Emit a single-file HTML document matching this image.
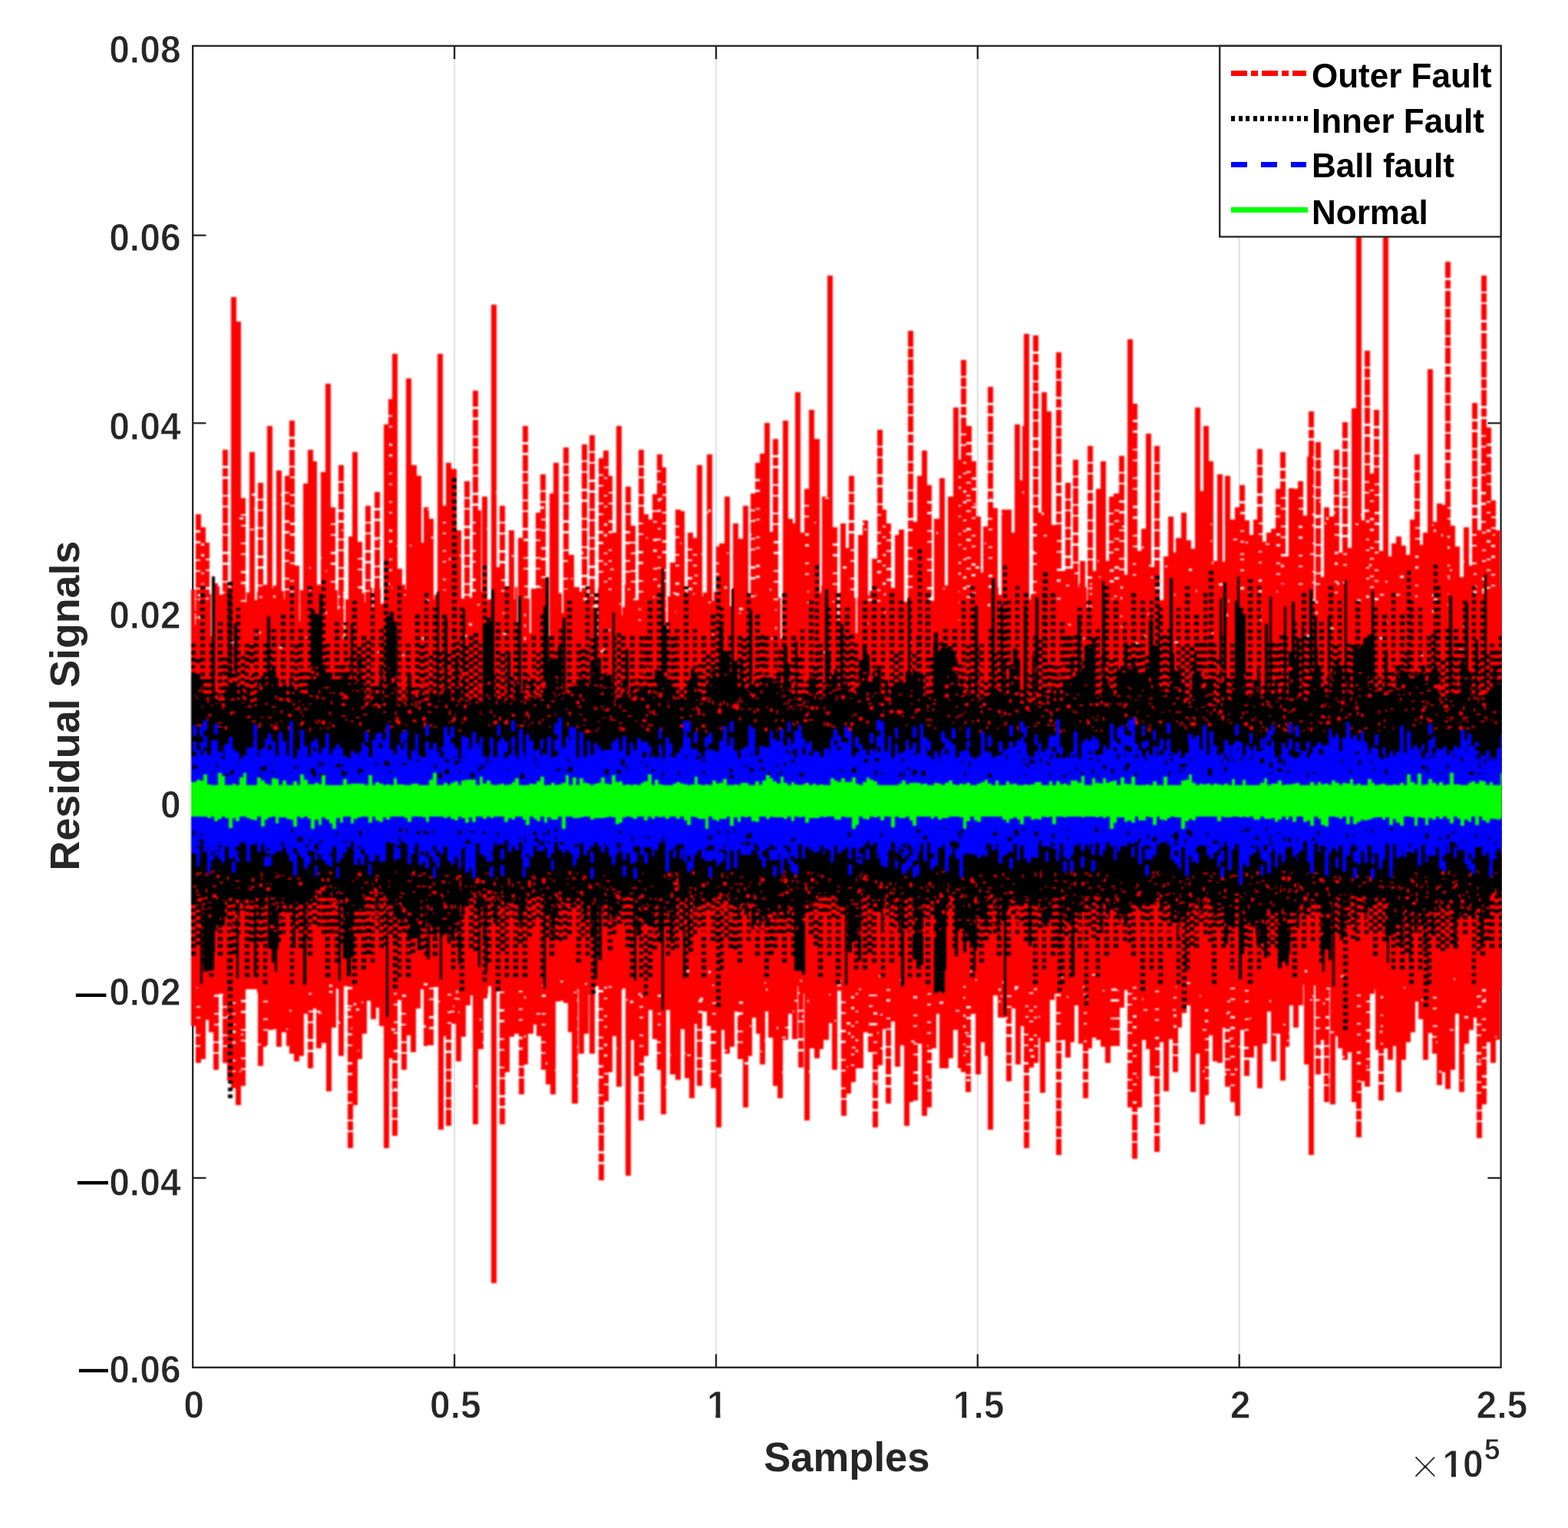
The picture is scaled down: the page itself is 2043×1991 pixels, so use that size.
<!DOCTYPE html>
<html lang="en">
<head>
<meta charset="utf-8">
<title>Residual Signals</title>
<style>
html,body{margin:0;padding:0;background:#fff;}
body{width:2043px;height:1991px;overflow:hidden;}
svg{display:block;}
text{font-family:"Liberation Sans",Arial,Helvetica,sans-serif;font-weight:bold;stroke:#fff;stroke-width:0.85px;stroke-linejoin:round;}
.tick{font-size:49px;fill:#262626;}
.lab{font-size:53.8px;fill:#262626;stroke:none;}
.leg{font-size:43.6px;fill:#000;stroke:none;}
.ax{stroke:#262626;stroke-width:2.33;fill:none;}
.grid{stroke:#e4e4e4;stroke-width:2.33;fill:none;}
.sig{fill:none;stroke-width:7;}
</style>
</head>
<body>
<svg width="2043" height="1991" viewBox="0 0 2043 1991">
<rect x="0" y="0" width="2043" height="1991" fill="#fff"/>
<g class="grid"><line x1="592.1" y1="59.8" x2="592.1" y2="1781.8"/><line x1="933" y1="59.8" x2="933" y2="1781.8"/><line x1="1273.8" y1="59.8" x2="1273.8" y2="1781.8"/><line x1="1614.7" y1="59.8" x2="1614.7" y2="1781.8"/></g>
<g class="ax"><rect x="251.2" y="59.8" width="1704.4" height="1722"/><path d="M592.1 1781.8v-17.2M592.1 59.8v17.2M933 1781.8v-17.2M933 59.8v17.2M1273.8 1781.8v-17.2M1273.8 59.8v17.2M1614.7 1781.8v-17.2M1614.7 59.8v17.2M251.2 306.7h17.2M1955.6 306.7h-17.2M251.2 551.4h17.2M1955.6 551.4h-17.2M251.2 797.4h17.2M1955.6 797.4h-17.2M251.2 1043.6h17.2M1955.6 1043.6h-17.2M251.2 1289.4h17.2M1955.6 1289.4h-17.2M251.2 1534.9h17.2M1955.6 1534.9h-17.2"/></g>
<clipPath id="cp"><rect x="247.7" y="59.8" width="1709.1" height="1722"/></clipPath>
<filter id="bl" x="0" y="0" width="100%" height="100%" filterUnits="userSpaceOnUse" color-interpolation-filters="sRGB"><feGaussianBlur stdDeviation="1"/></filter>
<g clip-path="url(#cp)"><g shape-rendering="crispEdges" filter="url(#bl)">
<path fill="#f00" d="M249.2 768.1V768.1H253.5V814.1H255.9V768.1H258.2V809.5H260.5V794.1H262.9V761.4H265.2V780.7H267.5V780.7H269.9V780.7H272.2V774.4H274.5V828.6H276.9V774.4H279.2V763.6H281.5V763.6H283.9V763.6H286.2V774.5H288.5V774.5H290.9V792.7H293.2V765.1H295.5V765.1H297.9V765.1H300.2V771.3H302.5V771.3H304.9V771.3H307.2V774.4H309.5V774.4H311.9V774.4H314.2V784.5H316.5V784.5H318.9V784.5H321.2V772.2H323.5V772.2H325.9V772.2H328.2V781.9H330.5V781.9H332.9V781.9H335.2V771.4H337.5V771.4H339.9V771.4H342.2V761.5H344.5V761.5H346.9V761.5H349.2V767.1H351.5V810.8H353.9V767.1H356.2V762.9H358.5V762.9H360.9V762.9H363.2V810.2H365.5V769.8H367.9V769.8H370.2V780.5H372.5V780.5H374.9V780.5H377.2V782.1H379.5V782.1H381.9V782.1H384.2V765.8H386.5V765.8H388.9V808.9H391.2V769.2H393.5V769.2H395.9V769.2H398.2V830.5H400.5V775.4H402.9V775.4H405.2V779.9H407.5V779.9H409.9V779.9H412.2V761.6H414.5V761.6H416.9V761.6H419.2V761.3H421.5V761.3H423.9V761.3H426.2V760.6H428.5V760.6H430.9V760.6H433.2V768.7H435.5V768.7H437.9V768.7H440.2V794.6H442.5V771.6H444.9V771.6H447.2V832.8H449.5V780.7H451.9V780.7H454.2V773.6H456.5V773.6H458.9V773.6H461.2V777.4H463.5V777.4H465.9V777.4H468.2V773.3H470.5V773.3H472.9V773.3H475.2V784.6H477.5V784.6H479.9V784.6H482.2V765.7H484.5V791.3H486.9V765.7H489.2V766.5H491.5V766.5H493.9V766.5H496.2V784.7H498.5V784.7H500.9V784.7H503.2V764.9H505.5V764.9H507.9V764.9H510.2V772H512.5V819.7H514.9V772H517.2V779.6H519.5V779.6H521.9V779.6H524.2V768.3H526.5V768.3H528.9V768.3H531.2V783.7H533.5V783.7H535.9V783.7H538.2V782.6H540.5V782.6H542.9V782.6H545.2V776.4H547.5V776.4H549.9V833.7H552.2V776.2H554.5V776.2H556.9V776.2H559.2V780.7H561.5V780.7H563.9V780.7H566.2V774.7H568.5V774.7H570.9V774.7H573.2V768.8H575.5V768.8H577.9V768.8H580.2V782.9H582.5V782.9H584.9V809.8H587.2V764.6H589.5V764.6H591.9V764.6H594.2V778.1H596.5V778.1H598.9V778.1H601.2V779.6H603.5V779.6H605.9V779.6H608.2V779.3H610.5V779.3H612.9V779.3H615.2V771.1H617.5V771.1H619.9V771.1H622.2V771.3H624.5V771.3H626.9V771.3H629.2V781.9H631.5V781.9H633.9V781.9H636.2V781H638.5V781H640.9V800.8H643.2V761.8H645.5V761.8H647.9V761.8H650.2V777.9H652.5V777.9H654.9V777.9H657.2V765.5H659.5V765.5H661.9V765.5H664.2V780.8H666.5V780.8H668.9V780.8H671.2V764.9H673.5V814.9H675.9V764.9H678.2V760.5H680.5V760.5H682.9V834.3H685.2V779.7H687.5V779.7H689.9V825.1H692.2V766.8H694.5V766.8H696.9V766.8H699.2V766.5H701.5V766.5H703.9V766.5H706.2V762.2H708.5V762.2H710.9V832.2H713.2V828.5H715.5V828.8H717.9V775.9H720.2V768.5H722.5V768.5H724.9V768.5H727.2V773.2H729.5V773.2H731.9V799.1H734.2V767.8H736.5V767.8H738.9V767.8H741.2V801.3H743.5V823H745.9V764.4H748.2V764.7H750.5V764.7H752.9V764.7H755.2V770.8H757.5V770.8H759.9V770.8H762.2V777.2H764.5V777.2H766.9V777.2H769.2V775.9H771.5V795.8H773.9V823.3H776.2V827.9H778.5V766.4H780.9V766.4H783.2V767H785.5V767H787.9V767H790.2V771.1H792.5V771.1H794.9V771.1H797.2V766.1H799.5V766.1H801.9V807.2H804.2V771.9H806.5V771.9H808.9V801.9H811.2V791H813.5V762.2H815.9V762.2H818.2V774.6H820.5V774.6H822.9V774.6H825.2V782H827.5V782H829.9V782H832.2V827.6H834.5V778.1H836.9V778.1H839.2V778.3H841.5V778.3H843.9V778.3H846.2V780.9H848.5V780.9H850.9V780.9H853.2V777.1H855.5V796H857.9V777.1H860.2V762.6H862.5V762.6H864.9V762.6H867.2V825.9H869.5V777H871.9V777H874.2V823.2H876.5V773.4H878.9V802H881.2V778.2H883.5V778.2H885.9V778.2H888.2V769.6H890.5V769.6H892.9V769.6H895.2V776.1H897.5V776.1H899.9V776.1H902.2V792.7H904.5V767.6H906.9V767.6H909.2V777.3H911.5V777.3H913.9V777.3H916.2V771.7H918.5V771.7H920.9V771.7H923.2V783.4H925.5V783.4H927.9V783.4H930.2V771.2H932.5V771.2H934.9V771.2H937.2V774.5H939.5V774.5H941.9V774.5H944.2V780.5H946.5V780.5H948.9V780.5H951.2V790.2H953.5V782.4H955.9V782.4H958.2V767.5H960.5V767.5H962.9V767.5H965.2V760H967.5V760H969.9V760H972.2V777.8H974.5V777.8H976.9V777.8H979.2V785H981.5V785H983.9V785H986.2V761.2H988.5V761.2H990.9V761.2H993.2V766.2H995.5V766.2H997.9V766.2H1000.2V783.9H1002.5V783.9H1004.9V783.9H1007.2V783.5H1009.5V823H1011.9V783.5H1014.2V778.8H1016.5V831.7H1018.9V778.8H1021.2V771.8H1023.5V771.8H1025.9V771.8H1028.2V766.5H1030.5V766.5H1032.9V766.5H1035.2V764.2H1037.5V764.2H1039.9V764.2H1042.2V765.5H1044.5V765.5H1046.9V765.5H1049.2V764.8H1051.5V800.8H1053.9V764.8H1056.2V774.2H1058.5V774.2H1060.9V774.2H1063.2V773.1H1065.5V802.5H1067.9V773.1H1070.2V763.1H1072.5V763.1H1074.9V763.1H1077.2V766.8H1079.5V766.8H1081.9V766.8H1084.2V791.5H1086.5V781.2H1088.9V781.2H1091.2V807.6H1093.5V771.8H1095.9V771.8H1098.2V781.4H1100.5V781.4H1102.9V781.4H1105.2V773.1H1107.5V773.1H1109.9V773.1H1112.2V779.1H1114.5V825.2H1116.9V779.1H1119.2V783H1121.5V783H1123.9V783H1126.2V775.9H1128.5V813.6H1130.9V775.9H1133.2V769.7H1135.5V803.6H1137.9V769.7H1140.2V784H1142.5V784H1144.9V784H1147.2V766.2H1149.5V766.2H1151.9V812.4H1154.2V776.9H1156.5V776.9H1158.9V776.9H1161.2V765.7H1163.5V765.7H1165.9V765.7H1168.2V765H1170.5V765H1172.9V765H1175.2V784.2H1177.5V784.2H1179.9V784.2H1182.2V779H1184.5V779H1186.9V779H1189.2V765.6H1191.5V765.6H1193.9V765.6H1196.2V769.8H1198.5V769.8H1200.9V792.7H1203.2V769.8H1205.5V769.8H1207.9V769.8H1210.2V783.3H1212.5V783.3H1214.9V783.3H1217.2V760.8H1219.5V760.8H1221.9V760.8H1224.2V764.2H1226.5V764.2H1228.9V764.2H1231.2V763.1H1233.5V763.1H1235.9V763.1H1238.2V811.3H1240.5V780.6H1242.9V780.6H1245.2V764.8H1247.5V808.5H1249.9V764.8H1252.2V792.8H1254.5V779.2H1256.9V779.2H1259.2V778.7H1261.5V778.7H1263.9V778.7H1266.2V775.4H1268.5V775.4H1270.9V775.4H1273.2V760.1H1275.5V760.1H1277.9V760.1H1280.2V760.6H1282.5V760.6H1284.9V760.6H1287.2V769.7H1289.5V769.7H1291.9V769.7H1294.2V764.6H1296.5V764.6H1298.9V764.6H1301.2V775.2H1303.5V775.2H1305.9V775.2H1308.2V762H1310.5V762H1312.9V791.5H1315.2V773.8H1317.5V773.8H1319.9V773.8H1322.2V812.4H1324.5V766.6H1326.9V766.6H1329.2V765.9H1331.5V765.9H1333.9V765.9H1336.2V781.2H1338.5V781.2H1340.9V781.2H1343.2V774.2H1345.5V774.2H1347.9V774.2H1350.2V766.1H1352.5V766.1H1354.9V766.1H1357.2V769.9H1359.5V769.9H1361.9V769.9H1364.2V776.3H1366.5V776.3H1368.9V776.3H1371.2V803.2H1373.5V781H1375.9V781H1378.2V784.3H1380.5V784.3H1382.9V784.3H1385.2V771.2H1387.5V771.2H1389.9V771.2H1392.2V774.9H1394.5V774.9H1396.9V774.9H1399.2V765.1H1401.5V765.1H1403.9V765.1H1406.2V760.3H1408.5V760.3H1410.9V760.3H1413.2V765.1H1415.5V794.6H1417.9V765.1H1420.2V797.4H1422.5V773.8H1424.9V773.8H1427.2V767.1H1429.5V767.1H1431.9V767.1H1434.2V768.9H1436.5V768.9H1438.9V768.9H1441.2V764.9H1443.5V830.6H1445.9V764.9H1448.2V780.5H1450.5V780.5H1452.9V780.5H1455.2V760.4H1457.5V760.4H1459.9V818H1462.2V769.3H1464.5V769.3H1466.9V769.3H1469.2V783.1H1471.5V783.1H1473.9V783.1H1476.2V764.9H1478.5V764.9H1480.9V764.9H1483.2V761.3H1485.5V761.3H1487.9V761.3H1490.2V780.6H1492.5V780.6H1494.9V780.6H1497.2V781.2H1499.5V781.2H1501.9V781.2H1504.2V772.9H1506.5V772.9H1508.9V772.9H1511.2V782.4H1513.5V782.4H1515.9V827.7H1518.2V762.9H1520.5V762.9H1522.9V762.9H1525.2V770.5H1527.5V770.5H1529.9V770.5H1532.2V771H1534.5V771H1536.9V771H1539.2V779.1H1541.5V779.1H1543.9V779.1H1546.2V762.7H1548.5V809.9H1550.9V762.7H1553.2V823H1555.5V761H1557.9V761H1560.2V761.4H1562.5V761.4H1564.9V761.4H1567.2V781.4H1569.5V781.4H1571.9V781.4H1574.2V784.5H1576.5V784.5H1578.9V784.5H1581.2V805.8H1583.5V779.7H1585.9V779.7H1588.2V782.4H1590.5V782.4H1592.9V782.4H1595.2V783H1597.5V783H1599.9V783H1602.2V760.9H1604.5V760.9H1606.9V760.9H1609.2V782.4H1611.5V782.4H1613.9V782.4H1616.2V775.9H1618.5V775.9H1620.9V775.9H1623.2V782.1H1625.5V782.1H1627.9V782.1H1630.2V779.9H1632.5V779.9H1634.9V779.9H1637.2V779.1H1639.5V779.1H1641.9V826.9H1644.2V766.3H1646.5V766.3H1648.9V766.3H1651.2V796.7H1653.5V767.8H1655.9V767.8H1658.2V772.8H1660.5V772.8H1662.9V772.8H1665.2V760.6H1667.5V760.6H1669.9V760.6H1672.2V765.6H1674.5V765.6H1676.9V765.6H1679.2V771.9H1681.5V771.9H1683.9V771.9H1686.2V762.4H1688.5V762.4H1690.9V762.4H1693.2V766.6H1695.5V766.6H1697.9V766.6H1700.2V776.1H1702.5V776.1H1704.9V776.1H1707.2V782.6H1709.5V782.6H1711.9V782.6H1714.2V814.8H1716.5V761.5H1718.9V761.5H1721.2V765H1723.5V765H1725.9V765H1728.2V764.4H1730.5V830H1732.9V764.4H1735.2V777.9H1737.5V777.9H1739.9V777.9H1742.2V778.5H1744.5V778.5H1746.9V778.5H1749.2V761H1751.5V761H1753.9V761H1756.2V777.8H1758.5V777.8H1760.9V777.8H1763.2V773.1H1765.5V773.1H1767.9V773.1H1770.2V782H1772.5V782H1774.9V782H1777.2V783.6H1779.5V783.6H1781.9V783.6H1784.2V766H1786.5V766H1788.9V766H1791.2V784.5H1793.5V784.5H1795.9V784.5H1798.2V770.9H1800.5V770.9H1802.9V770.9H1805.2V775.6H1807.5V775.6H1809.9V794.8H1812.2V783.2H1814.5V791.9H1816.9V783.2H1819.2V775.8H1821.5V816.6H1823.9V775.8H1826.2V780.4H1828.5V829.1H1830.9V780.4H1833.2V783.6H1835.5V783.6H1837.9V828.1H1840.2V780.3H1842.5V780.3H1844.9V780.3H1847.2V762.5H1849.5V762.5H1851.9V762.5H1854.2V770.6H1856.5V770.6H1858.9V770.6H1861.2V769.2H1863.5V769.2H1865.9V769.2H1868.2V775.5H1870.5V775.5H1872.9V775.5H1875.2V768.7H1877.5V768.7H1879.9V768.7H1882.2V762.3H1884.5V799.1H1886.9V762.3H1889.2V784.4H1891.5V784.4H1893.9V784.4H1896.2V764.6H1898.5V764.6H1900.9V764.6H1903.2V783.6H1905.5V783.6H1907.9V783.6H1910.2V825.5H1912.5V762.7H1914.9V762.7H1917.2V775.7H1919.5V775.7H1921.9V775.7H1924.2V799.3H1926.5V762.2H1928.9V762.2H1931.2V772.5H1933.5V772.5H1935.9V772.5H1938.2V773.3H1940.5V773.3H1942.9V773.3H1945.2V768.2H1947.5V768.2H1949.9V768.2H1952.2V764.2H1954.5V764.2H1956.6V1288.7H1954.5V1288.7H1952.2V1285H1949.9V1285H1947.5V1285H1945.2V1292.8H1942.9V1292.8H1940.5V1292.8H1938.2V1287.9H1935.9V1287.9H1933.5V1287.9H1931.2V1294.5H1928.9V1294.5H1926.5V1294.5H1924.2V1287.6H1921.9V1287.6H1919.5V1287.6H1917.2V1291.3H1914.9V1291.3H1912.5V1291.3H1910.2V1286.7H1907.9V1286.7H1905.5V1286.7H1903.2V1289.4H1900.9V1289.4H1898.5V1289.4H1896.2V1283.1H1893.9V1283.1H1891.5V1283.1H1889.2V1293.7H1886.9V1293.7H1884.5V1293.7H1882.2V1292.2H1879.9V1292.2H1877.5V1292.2H1875.2V1283.4H1872.9V1283.4H1870.5V1283.4H1868.2V1287.2H1865.9V1287.2H1863.5V1287.2H1861.2V1283.3H1858.9V1283.3H1856.5V1283.3H1854.2V1284.3H1851.9V1284.3H1849.5V1284.3H1847.2V1291.2H1844.9V1291.2H1842.5V1291.2H1840.2V1284.4H1837.9V1284.4H1835.5V1284.4H1833.2V1293.7H1830.9V1293.7H1828.5V1293.7H1826.2V1292.1H1823.9V1292.1H1821.5V1292.1H1819.2V1287.5H1816.9V1287.5H1814.5V1287.5H1812.2V1284H1809.9V1284H1807.5V1284H1805.2V1292.4H1802.9V1292.4H1800.5V1292.4H1798.2V1289.1H1795.9V1289.1H1793.5V1289.1H1791.2V1294.8H1788.9V1294.8H1786.5V1294.8H1784.2V1292.7H1781.9V1292.7H1779.5V1292.7H1777.2V1283.2H1774.9V1283.2H1772.5V1283.2H1770.2V1286.4H1767.9V1286.4H1765.5V1286.4H1763.2V1286.5H1760.9V1286.5H1758.5V1286.5H1756.2V1287.4H1753.9V1287.4H1751.5V1287.4H1749.2V1288.9H1746.9V1288.9H1744.5V1288.9H1742.2V1283.1H1739.9V1283.1H1737.5V1283.1H1735.2V1287H1732.9V1287H1730.5V1287H1728.2V1290.9H1725.9V1290.9H1723.5V1290.9H1721.2V1293.1H1718.9V1293.1H1716.5V1293.1H1714.2V1283.6H1711.9V1283.6H1709.5V1283.6H1707.2V1288.8H1704.9V1288.8H1702.5V1288.8H1700.2V1283.1H1697.9V1283.1H1695.5V1283.1H1693.2V1291.3H1690.9V1291.3H1688.5V1291.3H1686.2V1284.8H1683.9V1284.8H1681.5V1284.8H1679.2V1290.6H1676.9V1290.6H1674.5V1290.6H1672.2V1283H1669.9V1283H1667.5V1283H1665.2V1294.6H1662.9V1294.6H1660.5V1294.6H1658.2V1283H1655.9V1283H1653.5V1283H1651.2V1291.3H1648.9V1291.3H1646.5V1291.3H1644.2V1288.7H1641.9V1288.7H1639.5V1288.7H1637.2V1286.4H1634.9V1286.4H1632.5V1286.4H1630.2V1284.4H1627.9V1284.4H1625.5V1284.4H1623.2V1287.7H1620.9V1287.7H1618.5V1287.7H1616.2V1285.2H1613.9V1285.2H1611.5V1285.2H1609.2V1285.4H1606.9V1285.4H1604.5V1285.4H1602.2V1285.7H1599.9V1285.7H1597.5V1285.7H1595.2V1286.6H1592.9V1286.6H1590.5V1286.6H1588.2V1295.1H1585.9V1295.1H1583.5V1295.1H1581.2V1289.4H1578.9V1289.4H1576.5V1289.4H1574.2V1295.9H1571.9V1295.9H1569.5V1295.9H1567.2V1289.6H1564.9V1289.6H1562.5V1289.6H1560.2V1291.3H1557.9V1291.3H1555.5V1291.3H1553.2V1284.7H1550.9V1284.7H1548.5V1284.7H1546.2V1293.1H1543.9V1293.1H1541.5V1293.1H1539.2V1283.3H1536.9V1283.3H1534.5V1283.3H1532.2V1290.6H1529.9V1290.6H1527.5V1290.6H1525.2V1290.8H1522.9V1290.8H1520.5V1290.8H1518.2V1283.5H1515.9V1283.5H1513.5V1283.5H1511.2V1288H1508.9V1288H1506.5V1288H1504.2V1293.8H1501.9V1293.8H1499.5V1293.8H1497.2V1285.1H1494.9V1285.1H1492.5V1285.1H1490.2V1295H1487.9V1295H1485.5V1295H1483.2V1284.6H1480.9V1284.6H1478.5V1284.6H1476.2V1284.4H1473.9V1284.4H1471.5V1284.4H1469.2V1289.6H1466.9V1289.6H1464.5V1289.6H1462.2V1290.2H1459.9V1290.2H1457.5V1290.2H1455.2V1288.3H1452.9V1288.3H1450.5V1288.3H1448.2V1292.5H1445.9V1292.5H1443.5V1292.5H1441.2V1288.4H1438.9V1288.4H1436.5V1288.4H1434.2V1287H1431.9V1287H1429.5V1287H1427.2V1291.3H1424.9V1291.3H1422.5V1291.3H1420.2V1293.3H1417.9V1293.3H1415.5V1293.3H1413.2V1287.3H1410.9V1287.3H1408.5V1287.3H1406.2V1286.3H1403.9V1286.3H1401.5V1286.3H1399.2V1291.1H1396.9V1291.1H1394.5V1291.1H1392.2V1286.4H1389.9V1286.4H1387.5V1286.4H1385.2V1290.6H1382.9V1290.6H1380.5V1290.6H1378.2V1294.9H1375.9V1294.9H1373.5V1294.9H1371.2V1295.9H1368.9V1295.9H1366.5V1295.9H1364.2V1295.9H1361.9V1295.9H1359.5V1295.9H1357.2V1285H1354.9V1285H1352.5V1285H1350.2V1287.8H1347.9V1287.8H1345.5V1287.8H1343.2V1291.6H1340.9V1291.6H1338.5V1291.6H1336.2V1288.4H1333.9V1288.4H1331.5V1288.4H1329.2V1284.1H1326.9V1284.1H1324.5V1284.1H1322.2V1287.2H1319.9V1287.2H1317.5V1287.2H1315.2V1285.6H1312.9V1285.6H1310.5V1285.6H1308.2V1287.3H1305.9V1287.3H1303.5V1287.3H1301.2V1293.4H1298.9V1293.4H1296.5V1293.4H1294.2V1286.3H1291.9V1286.3H1289.5V1286.3H1287.2V1286H1284.9V1286H1282.5V1286H1280.2V1292.8H1277.9V1292.8H1275.5V1292.8H1273.2V1286.4H1270.9V1286.4H1268.5V1286.4H1266.2V1294.7H1263.9V1294.7H1261.5V1294.7H1259.2V1283.5H1256.9V1283.5H1254.5V1283.5H1252.2V1287.7H1249.9V1287.7H1247.5V1287.7H1245.2V1288.6H1242.9V1288.6H1240.5V1288.6H1238.2V1295.5H1235.9V1295.5H1233.5V1295.5H1231.2V1283H1228.9V1283H1226.5V1283H1224.2V1291.6H1221.9V1291.6H1219.5V1291.6H1217.2V1287.3H1214.9V1287.3H1212.5V1287.3H1210.2V1294.7H1207.9V1294.7H1205.5V1294.7H1203.2V1285.8H1200.9V1285.8H1198.5V1285.8H1196.2V1288.4H1193.9V1288.4H1191.5V1288.4H1189.2V1286.8H1186.9V1286.8H1184.5V1286.8H1182.2V1287.1H1179.9V1287.1H1177.5V1287.1H1175.2V1293.4H1172.9V1293.4H1170.5V1293.4H1168.2V1283.4H1165.9V1283.4H1163.5V1283.4H1161.2V1288.5H1158.9V1288.5H1156.5V1288.5H1154.2V1295.5H1151.9V1295.5H1149.5V1295.5H1147.2V1291.4H1144.9V1291.4H1142.5V1291.4H1140.2V1285.9H1137.9V1285.9H1135.5V1285.9H1133.2V1292.1H1130.9V1292.1H1128.5V1292.1H1126.2V1291.4H1123.9V1291.4H1121.5V1291.4H1119.2V1288.9H1116.9V1288.9H1114.5V1288.9H1112.2V1291.9H1109.9V1291.9H1107.5V1291.9H1105.2V1295.6H1102.9V1295.6H1100.5V1295.6H1098.2V1290.6H1095.9V1290.6H1093.5V1290.6H1091.2V1294.3H1088.9V1294.3H1086.5V1294.3H1084.2V1286.2H1081.9V1286.2H1079.5V1286.2H1077.2V1289.5H1074.9V1289.5H1072.5V1289.5H1070.2V1287.9H1067.9V1287.9H1065.5V1287.9H1063.2V1294.5H1060.9V1294.5H1058.5V1294.5H1056.2V1284.2H1053.9V1284.2H1051.5V1284.2H1049.2V1294.8H1046.9V1294.8H1044.5V1294.8H1042.2V1285.1H1039.9V1285.1H1037.5V1285.1H1035.2V1291.5H1032.9V1291.5H1030.5V1291.5H1028.2V1287.5H1025.9V1287.5H1023.5V1287.5H1021.2V1291.4H1018.9V1291.4H1016.5V1291.4H1014.2V1290.1H1011.9V1290.1H1009.5V1290.1H1007.2V1294.5H1004.9V1294.5H1002.5V1294.5H1000.2V1286.5H997.9V1286.5H995.5V1286.5H993.2V1284.3H990.9V1284.3H988.5V1284.3H986.2V1290.7H983.9V1290.7H981.5V1290.7H979.2V1294.7H976.9V1294.7H974.5V1294.7H972.2V1292.8H969.9V1292.8H967.5V1292.8H965.2V1284.8H962.9V1284.8H960.5V1284.8H958.2V1289.3H955.9V1289.3H953.5V1289.3H951.2V1289.6H948.9V1289.6H946.5V1289.6H944.2V1284.8H941.9V1284.8H939.5V1284.8H937.2V1286.5H934.9V1286.5H932.5V1286.5H930.2V1283.2H927.9V1283.2H925.5V1283.2H923.2V1284.5H920.9V1284.5H918.5V1284.5H916.2V1291.8H913.9V1291.8H911.5V1291.8H909.2V1290.4H906.9V1290.4H904.5V1290.4H902.2V1284H899.9V1284H897.5V1284H895.2V1289.2H892.9V1289.2H890.5V1289.2H888.2V1285.7H885.9V1285.7H883.5V1285.7H881.2V1291.6H878.9V1291.6H876.5V1291.6H874.2V1289.4H871.9V1289.4H869.5V1289.4H867.2V1293.9H864.9V1293.9H862.5V1293.9H860.2V1292H857.9V1292H855.5V1292H853.2V1293.5H850.9V1293.5H848.5V1293.5H846.2V1293.6H843.9V1293.6H841.5V1293.6H839.2V1291.4H836.9V1291.4H834.5V1291.4H832.2V1288.1H829.9V1288.1H827.5V1288.1H825.2V1289.9H822.9V1289.9H820.5V1289.9H818.2V1288.2H815.9V1288.2H813.5V1288.2H811.2V1289.5H808.9V1289.5H806.5V1289.5H804.2V1295.6H801.9V1295.6H799.5V1295.6H797.2V1286.4H794.9V1286.4H792.5V1286.4H790.2V1286.1H787.9V1286.1H785.5V1286.1H783.2V1285.1H780.9V1285.1H778.5V1285.1H776.2V1288.3H773.9V1288.3H771.5V1288.3H769.2V1295.8H766.9V1295.8H764.5V1295.8H762.2V1289.4H759.9V1289.4H757.5V1289.4H755.2V1289.2H752.9V1289.2H750.5V1289.2H748.2V1287.5H745.9V1287.5H743.5V1287.5H741.2V1287H738.9V1287H736.5V1287H734.2V1286.1H731.9V1286.1H729.5V1286.1H727.2V1290.2H724.9V1290.2H722.5V1290.2H720.2V1293.4H717.9V1293.4H715.5V1293.4H713.2V1283.7H710.9V1283.7H708.5V1283.7H706.2V1284.9H703.9V1284.9H701.5V1284.9H699.2V1284.7H696.9V1284.7H694.5V1284.7H692.2V1295.6H689.9V1295.6H687.5V1295.6H685.2V1287.3H682.9V1287.3H680.5V1287.3H678.2V1287.1H675.9V1287.1H673.5V1287.1H671.2V1285.1H668.9V1285.1H666.5V1285.1H664.2V1295.4H661.9V1295.4H659.5V1295.4H657.2V1291.6H654.9V1291.6H652.5V1291.6H650.2V1291.7H647.9V1291.7H645.5V1291.7H643.2V1284.8H640.9V1284.8H638.5V1284.8H636.2V1295.2H633.9V1295.2H631.5V1295.2H629.2V1289.9H626.9V1289.9H624.5V1289.9H622.2V1291H619.9V1291H617.5V1291H615.2V1289.6H612.9V1289.6H610.5V1289.6H608.2V1284.4H605.9V1284.4H603.5V1284.4H601.2V1290.2H598.9V1290.2H596.5V1290.2H594.2V1283.1H591.9V1283.1H589.5V1283.1H587.2V1289.5H584.9V1289.5H582.5V1289.5H580.2V1289H577.9V1289H575.5V1289H573.2V1286.4H570.9V1286.4H568.5V1286.4H566.2V1285.7H563.9V1285.7H561.5V1285.7H559.2V1289.8H556.9V1289.8H554.5V1289.8H552.2V1287.6H549.9V1287.6H547.5V1287.6H545.2V1293.5H542.9V1293.5H540.5V1293.5H538.2V1292.4H535.9V1292.4H533.5V1292.4H531.2V1293.4H528.9V1293.4H526.5V1293.4H524.2V1292.8H521.9V1292.8H519.5V1292.8H517.2V1291.5H514.9V1291.5H512.5V1291.5H510.2V1285.7H507.9V1285.7H505.5V1285.7H503.2V1295.4H500.9V1295.4H498.5V1295.4H496.2V1292H493.9V1292H491.5V1292H489.2V1289.7H486.9V1289.7H484.5V1289.7H482.2V1294.1H479.9V1294.1H477.5V1294.1H475.2V1293.1H472.9V1293.1H470.5V1293.1H468.2V1286.4H465.9V1286.4H463.5V1286.4H461.2V1283.4H458.9V1283.4H456.5V1283.4H454.2V1285.1H451.9V1285.1H449.5V1285.1H447.2V1289.3H444.9V1289.3H442.5V1289.3H440.2V1287.7H437.9V1287.7H435.5V1287.7H433.2V1294.4H430.9V1294.4H428.5V1294.4H426.2V1283H423.9V1283H421.5V1283H419.2V1283.9H416.9V1283.9H414.5V1283.9H412.2V1288.1H409.9V1288.1H407.5V1288.1H405.2V1291.8H402.9V1291.8H400.5V1291.8H398.2V1290.4H395.9V1290.4H393.5V1290.4H391.2V1289.3H388.9V1289.3H386.5V1289.3H384.2V1295.5H381.9V1295.5H379.5V1295.5H377.2V1294.2H374.9V1294.2H372.5V1294.2H370.2V1294.3H367.9V1294.3H365.5V1294.3H363.2V1283.8H360.9V1283.8H358.5V1283.8H356.2V1288H353.9V1288H351.5V1288H349.2V1292.1H346.9V1292.1H344.5V1292.1H342.2V1293.9H339.9V1293.9H337.5V1293.9H335.2V1287.1H332.9V1287.1H330.5V1287.1H328.2V1283.5H325.9V1283.5H323.5V1283.5H321.2V1284.5H318.9V1284.5H316.5V1284.5H314.2V1289.8H311.9V1289.8H309.5V1289.8H307.2V1286.9H304.9V1286.9H302.5V1286.9H300.2V1291.8H297.9V1291.8H295.5V1291.8H293.2V1291.3H290.9V1291.3H288.5V1291.3H286.2V1284.5H283.9V1284.5H281.5V1284.5H279.2V1288.2H276.9V1288.2H274.5V1288.2H272.2V1284.6H269.9V1284.6H267.5V1284.6H265.2V1289.6H262.9V1289.6H260.5V1289.6H258.2V1285H255.9V1285H253.5V1285H249.2Z"/>
<path class="sig" stroke="#f00" d="M280.4 759.6V830M304.9 386.7V830M310.7 418.7V830M328.2 588.9V830M351.5 554.7V830M363.2 612.5V830M386.5 737.2V830M398.2 629.6V830M404 586.2V830M409.9 601.2V830M421.5 615.1V830M427.4 500.1V830M457.7 699.2V830M462.4 588.9V830M503.2 552.6V830M514.9 460.7V830M520.7 741.2V830M524.2 762.2V830M532.4 493V830M539.4 605.9V830M545.2 619.9V830M549.9 707V830M555.7 661.1V830M561.5 675.5V830M573.2 460.7V830M584.9 603.3V830M591.9 610.7V830M597.7 691.3V830M623.4 665V830M631.5 646.6V830M643.2 396.6V830M649 738.6V830M666.5 691.3V830M678.2 700.5V830M719 642.7V830M724.9 603.3V830M743.5 722.8V830M744.7 722.8V830M800.7 693.9V830M806.5 555.3V830M841.5 670.3V830M847.4 676.8V830M876.5 733.3V830M888.2 666.3V830M911.5 605.9V830M924.4 591.5V830M940.7 708.4V830M947.7 647.2V830M958.2 682.1V830M964 701.8V830M971 659V830M993.2 591V830M999 550.8V830M1004.9 692.6V830M1023.5 548.2V830M1029.4 675.5V830M1035.2 682.1V830M1039.9 511.4V830M1045.7 693.9V830M1057.4 534.2V830M1064.4 572.3V830M1074.9 646.6V830M1081.9 358.6V830M1098.2 682.1V830M1104 713.6V830M1121.5 696.5V830M1127.4 678.2V830M1139 728V830M1169.4 696.5V830M1174 690V830M1192.7 679.5V830M1198.5 619.9V830M1204.4 586.8V830M1220.7 675.5V830M1227.7 622.5V830M1238.2 647.2V830M1245.2 531.1V830M1274.4 672.9V830M1280.2 746.4V830M1284.9 686V830M1296.5 661.6V830M1308.2 663.7V830M1314 663.7V830M1321 693.9V830M1325.7 552.6V830M1331.5 625.6V830M1335 554.7V830M1337.4 435.2V830M1354.9 667.6V830M1360.7 511.4V830M1366.5 536.3V830M1373.5 683.9V830M1385.2 743.8V830M1396.9 741.2V830M1410.9 730.7V830M1426 743.8V830M1431.9 636.9V830M1437.7 601.2V830M1442.4 730.7V830M1466.9 749.1V830M1472.7 442.3V830M1483.2 717.5V830M1490.2 688.7V830M1496 564.7V830M1501.9 738.6V830M1519.4 725.4V830M1525.2 672.9V830M1531 720.2V830M1535.7 700.5V830M1542.7 668.4V830M1548.5 704.4V830M1554.4 714.9V830M1560.2 531.1V830M1566 640.1V830M1571.9 555.3V830M1577.7 601.2V830M1583.5 730.7V830M1589.4 617.8V830M1595.2 732V830M1599.9 619.9V830M1606.9 676.8V830M1612.7 661.1V830M1624.4 678.2V830M1630.2 696.5V830M1636 677.4V830M1647.7 705.7V830M1653.5 693.9V830M1659.4 688.7V830M1676.9 725.4V830M1682.7 636.1V830M1688.5 637.4V830M1700.2 671.6V830M1706 595.4V830M1723.5 751.7V830M1728.2 661.1V830M1735.2 672.9V830M1746.9 720.2V830M1758.5 713.6V830M1764.4 531.9V830M1770.2 289.5V830M1776 678.2V830M1799.4 717.5V830M1805.2 289.5V830M1811 725.4V830M1816.9 708.4V830M1822.7 699.2V830M1828.5 711V830M1834.4 722.8V830M1840.2 677.4V830M1851.9 709.7V830M1857.7 693.9V830M1863.5 481.2V830M1869.4 679.5V830M1875.2 655.8V830M1882.2 657.7V830M1892.7 684.7V830M1898.5 711.8V830M1904.4 751.7V830M1910.2 686.6V830M1916 737.2V830M1927.7 691.3V830M1951 691.3V830M252.4 1336.7V1270M264 1380V1270M271 1328.8V1270M275.7 1344.5V1270M286.2 1294.6V1270M299 1407.6V1270M310.7 1440.4V1270M323.5 1289.4V1270M328.2 1289.4V1270M334 1289.4V1270M339.9 1389.2V1270M352.7 1341.9V1270M357.4 1340.6V1270M363.2 1364.2V1270M369 1344.5V1270M376 1362.9V1270M380.7 1373.4V1270M386.5 1382.6V1270M392.4 1376.1V1270M398.2 1320.9V1270M409.9 1314.3V1270M415.7 1365.5V1270M421.5 1359V1270M428.5 1422V1270M434.4 1339.3V1270M439 1276.3V1270M444.9 1376.1V1270M450.7 1280.2V1270M462.4 1440.4V1270M468.2 1380V1270M474 1347.2V1270M481 1303.8V1270M486.9 1327.5V1270M491.5 1313V1270M497.4 1336.7V1270M503.2 1496.3V1270M509 1378.7V1270M520.7 1302.5V1270M532.4 1348.5V1270M538.2 1370.8V1270M544 1314.3V1270M549.9 1289.4V1270M555.7 1362.9V1270M567.4 1281.5V1270M574.4 1471.9V1270M579 1349.8V1270M591.9 1334V1270M597.7 1382.6V1270M603.5 1351.1V1270M609.4 1310.4V1270M614 1297.3V1270M619.9 1464.5V1270M626.9 1366.9V1270M631.5 1301.2V1270M637.4 1278.9V1270M643.2 1671.5V1270M649 1281.5V1270M660.7 1397.1V1270M666.5 1351.1V1270M672.4 1347.2V1270M684 1386.6V1270M691 1347.2V1270M696.9 1335.3V1270M702.7 1349.8V1270M714.4 1412.8V1270M720.2 1425.9V1270M726 1305.1V1270M731.9 1303.8V1270M737.7 1306.5V1270M743.5 1343.2V1270M748.2 1437.8V1270M743.5 1344.5V1270M757.5 1373.4V1270M763.4 1347.2V1270M771.5 1373.4V1270M794.9 1397.1V1270M800.7 1349.8V1270M806.5 1416V1270M818.2 1532.3V1270M824 1355V1270M829.9 1401.8V1270M841.5 1376.1V1270M847.4 1315.7V1270M853.2 1353.7V1270M864.9 1452.2V1270M871.9 1315.7V1270M876.5 1399.7V1270M883.5 1406.8V1270M889.4 1340.6V1270M895.2 1404.9V1270M901 1430.7V1270M906.9 1334V1270M918.5 1318.3V1270M924.4 1336.7V1270M936 1468.5V1270M941.9 1341.9V1270M947.7 1372.9V1270M953.5 1364.2V1270M959.4 1318.3V1270M971 1443V1270M976.9 1376.1V1270M982.7 1326.2V1270M988.5 1347.2V1270M993.2 1387.3V1270M999 1318.3V1270M1004.9 1352.4V1270M1010.7 1415.4V1270M1016.5 1431.2V1270M1023.5 1355V1270M1029.4 1320.9V1270M1035.2 1353.7V1270M1051.5 1459.6V1270M1057.4 1365.5V1270M1064.4 1378.7V1270M1069 1366.9V1270M1076 1355V1270M1081.9 1332.7V1270M1087.7 1394.4V1270M1093.5 1284.1V1270M1105.2 1424.6V1270M1121.5 1391.8V1270M1128.5 1344.5V1270M1146 1387.9V1270M1151.9 1340.6V1270M1163.5 1331.4V1270M1169.4 1389.7V1270M1174 1361.6V1270M1181 1467.4V1270M1186.9 1436.4V1270M1198.5 1360.3V1270M1204.4 1454.3V1270M1216 1365.5V1270M1221.9 1320.9V1270M1227.7 1392.3V1270M1233.5 1302.5V1270M1238.2 1378.7V1270M1232.4 1391.8V1270M1244 1341.9V1270M1251 1391.8V1270M1268.5 1320.9V1270M1274.4 1399.7V1270M1280.2 1357.7V1270M1286 1376.1V1270M1290.7 1471.9V1270M1297.7 1297.3V1270M1303.5 1326.2V1270M1308.2 1326.2V1270M1321 1314.3V1270M1326.9 1387.3V1270M1332.7 1336.7V1270M1354.9 1352.4V1270M1358.4 1424.1V1270M1364.2 1357.7V1270M1370 1302.5V1270M1385.2 1355V1270M1391 1378.2V1270M1396.9 1357.7V1270M1401.5 1310.4V1270M1408.5 1360.3V1270M1419 1365.5V1270M1426 1352.4V1270M1431.9 1355V1270M1437.7 1364.2V1270M1443.5 1385.2V1270M1461 1313V1270M1466.9 1289.4V1270M1484.4 1443V1270M1490.2 1355V1270M1496 1366.9V1270M1501.9 1401.8V1270M1513.5 1357.7V1270M1519.4 1422V1270M1525.2 1353.7V1270M1536.9 1339.3V1270M1542.7 1319.6V1270M1548.5 1310.4V1270M1554.4 1423.3V1270M1560.2 1373.4V1270M1566 1464.8V1270M1577.7 1348.5V1270M1583.5 1383.4V1270M1589.4 1385.2V1270M1595.2 1339.3V1270M1612.7 1454.3V1270M1618.5 1341.9V1270M1630.2 1378.2V1270M1636 1362.9V1270M1641.9 1417.5V1270M1647.7 1360.3V1270M1653.5 1318.3V1270M1659.4 1382.6V1270M1665.2 1347.2V1270M1671 1407.6V1270M1676.9 1364.2V1270M1682.7 1310.4V1270M1688.5 1339.3V1270M1694.4 1310.4V1270M1702.5 1387.3V1270M1708.4 1505.3V1270M1723.5 1355V1270M1736.4 1438.6V1270M1742.2 1349.8V1270M1746.9 1365.5V1270M1752.7 1380.5V1270M1758.5 1370.8V1270M1764.4 1436.4V1270M1776 1408.9V1270M1788.9 1278.9V1270M1795.9 1368.2V1270M1805.2 1365.5V1270M1811 1380.5V1270M1816.9 1362.9V1270M1822.7 1423.3V1270M1828.5 1380.5V1270M1834.4 1357.7V1270M1840.2 1344.5V1270M1846 1305.1V1270M1851.9 1327.5V1270M1857.7 1380.5V1270M1863.5 1345.9V1270M1875.2 1414.1V1270M1882.2 1397.1V1270M1886.9 1419.4V1270M1892.7 1394.4V1270M1898.5 1320.9V1270M1904.4 1423.3V1270M1910.2 1360.3V1270M1916 1341.9V1270M1921.9 1326.2V1270M1939.4 1357.7V1270M1945.2 1385.2V1270M1951 1355V1270"/>
<path class="sig" stroke="#f00" stroke-dasharray="21 2.33 11.67 2.33" d="M258.2 670.3V830M264 687.3V830M269.9 707V830M293.2 586.2V830M316.5 648.7V830M339.9 628.8V830M374.9 619.9V830M380.7 548.2V830M433.2 661.1V830M444.9 605.9V830M468.2 705.7V830M479.9 659V830M491.5 641.4V830M509 520.1V830M579 658.5V830M608.2 626.9V830M619.9 509.3V830M654.9 659V830M684 555.3V830M701.5 667.6V830M707.4 617.8V830M737.7 582.8V830M761 578.9V830M771.5 567.1V830M783.2 596.7V830M789 586.8V830M794.9 619.9V830M818.2 634V830M824 684.7V830M835.7 585.5V830M853.2 644V830M859 592V830M864.9 608.6V830M883.5 663.7V830M899.9 693.9V830M905.7 700.5V830M936 711.8V830M981.5 642.7V830M987.4 603.3V830M1010.7 572.3V830M1051.5 636.9V830M1087.7 687.3V830M1109.9 619.9V830M1146 560V830M1151.9 663.7V830M1157.7 682.1V830M1186.9 430.5V830M1210.2 632.2V830M1251 599.4V830M1255.7 468.9V830M1262.7 555.3V830M1268.5 601.2V830M1290.7 504.3V830M1349 437.3V830M1379.4 458.9V830M1391 628.8V830M1401.5 598.6V830M1420.2 581V830M1448.2 646.6V830M1454 642.7V830M1461 594.1V830M1478.5 526.4V830M1507.7 580.5V830M1618.5 632.2V830M1641.9 584.9V830M1665.2 636.9V830M1671 589.4V830M1694.4 626.9V830M1708.4 536.3V830M1717.7 575.7V830M1741 586.2V830M1752.7 550.3V830M1781.9 456.8V830M1787.7 617V830M1793.5 534.2V830M1846 591.5V830M1886.9 341.2V830M1921.9 525.3V830M1933.5 359.1V830M1939.4 557.4V830M1945.2 651.9V830M258.2 1385.2V1270M281.5 1394.4V1270M293.2 1385.2V1270M304.9 1418.1V1270M316.5 1415.4V1270M345.7 1364.2V1270M404 1391.8V1270M456.5 1496.3V1270M514.9 1480.3V1270M526.5 1394.4V1270M561.5 1361.6V1270M584.9 1467.2V1270M654.9 1464.5V1270M679.4 1425.9V1270M708.5 1394.4V1270M749.4 1437.8V1270M783.2 1537.6V1270M789 1435.1V1270M835.7 1460.1V1270M859 1394.4V1270M911.5 1415.4V1270M929 1418.1V1270M964 1380V1270M1043.4 1390.5V1270M1099.4 1454.3V1270M1111 1410.2V1270M1116.9 1391.8V1270M1134.4 1370.8V1270M1140.2 1468.5V1270M1157.7 1437.8V1270M1192.7 1433.8V1270M1210.2 1443V1270M1238.2 1378.7V1270M1255.7 1397.1V1270M1261.5 1423.3V1270M1314 1408.9V1270M1337.4 1496.3V1270M1343.2 1390.5V1270M1349 1385.2V1270M1379.4 1505.3V1270M1414.4 1430.7V1270M1449.4 1362.9V1270M1455.2 1362.9V1270M1472.7 1443V1270M1478.5 1510V1270M1507.7 1500.8V1270M1531 1397.1V1270M1571.9 1427.3V1270M1599.9 1416V1270M1606.9 1436.4V1270M1624.4 1401.8V1270M1717.7 1399.7V1270M1728.2 1436.4V1270M1770.2 1482.4V1270M1781.9 1416V1270M1799.4 1433.8V1270M1869.4 1373.4V1270M1927.7 1483.2V1270M1933.5 1438.6V1270"/>
<path fill="#fff" d="M554.5 781.4h4.7v2.3h-4.7zM820.5 1304.3h4.7v2.3h-4.7zM1728.2 674.3h2.3v2.3h-2.3zM1032.9 1317.1h2.3v2.3h-2.3zM1035.2 1302.9h4.7v2.3h-4.7zM496.2 784.7h2.3v2.3h-2.3zM1170.5 672.6h2.3v2.3h-2.3zM962.9 683.2h4.7v2.3h-4.7zM507.9 834.8h2.3v2.3h-2.3zM332.9 828h2.3v2.3h-2.3zM1910.2 855.8h2.3v2.3h-2.3zM1359.5 696.6h4.7v2.3h-4.7zM1219.5 693.3h2.3v2.3h-2.3zM1926.5 1380.4h2.3v2.3h-2.3zM799.5 1365.1h4.7v2.3h-4.7zM1924.2 1298.1h2.3v2.3h-2.3zM1784.2 735.2h2.3v2.3h-2.3zM1753.9 1403.4h2.3v2.3h-2.3zM1207.9 1361.5h2.3v2.3h-2.3zM1263.9 1265.1h2.3v2.3h-2.3zM1490.2 1409h2.3v2.3h-2.3zM1816.9 642.3h2.3v2.3h-2.3zM505.5 759.5h2.3v2.3h-2.3zM729.5 1278h4.7v2.3h-4.7zM1343.2 1375.3h4.7v2.3h-4.7zM290.9 1393h4.7v2.3h-4.7zM1072.5 848.6h2.3v2.3h-2.3zM1886.9 753h2.3v2.3h-2.3zM1718.9 652.5h2.3v2.3h-2.3zM1165.9 642.9h2.3v2.3h-2.3zM1256.9 1368.6h4.7v2.3h-4.7zM885.9 706.8h2.3v2.3h-2.3zM1511.2 1419.1h2.3v2.3h-2.3zM1357.2 668.4h2.3v2.3h-2.3zM1767.9 781.3h4.7v2.3h-4.7zM792.5 1285.1h4.7v2.3h-4.7zM1779.5 1387.7h2.3v2.3h-2.3zM1371.2 1382.1h4.7v2.3h-4.7zM552.2 1336.2h2.3v2.3h-2.3zM890.5 1370.6h2.3v2.3h-2.3zM1875.2 640.6h4.7v2.3h-4.7zM923.2 784h2.3v2.3h-2.3zM1399.2 1360.5h2.3v2.3h-2.3zM1828.5 1286.1h2.3v2.3h-2.3zM1172.9 822.1h2.3v2.3h-2.3zM587.2 1316.5h4.7v2.3h-4.7zM288.5 1295.1h2.3v2.3h-2.3zM1819.2 773.8h4.7v2.3h-4.7zM594.2 1291.3h2.3v2.3h-2.3zM1079.5 1294.9h2.3v2.3h-2.3zM1529.9 836h4.7v2.3h-4.7zM468.2 1403.2h4.7v2.3h-4.7zM962.9 792.4h4.7v2.3h-4.7zM440.2 1331.3h2.3v2.3h-2.3zM1578.9 732.2h2.3v2.3h-2.3zM1382.9 1271.2h2.3v2.3h-2.3zM596.5 1301h2.3v2.3h-2.3zM1541.5 1378.1h2.3v2.3h-2.3zM1018.9 1350.9h4.7v2.3h-4.7zM960.5 1321.2h2.3v2.3h-2.3zM1868.2 780.1h4.7v2.3h-4.7zM1798.2 774.1h4.7v2.3h-4.7zM1042.2 1276.8h2.3v2.3h-2.3zM1410.9 1284.8h2.3v2.3h-2.3zM1245.2 1315.5h4.7v2.3h-4.7zM1126.2 811.3h4.7v2.3h-4.7zM755.2 715.2h2.3v2.3h-2.3zM1576.5 703.6h2.3v2.3h-2.3zM1431.9 750.8h2.3v2.3h-2.3zM1462.2 684.8h2.3v2.3h-2.3zM533.5 709.8h2.3v2.3h-2.3zM556.9 1362.3h2.3v2.3h-2.3zM1205.5 1401.9h4.7v2.3h-4.7zM1623.2 706.1h2.3v2.3h-2.3zM363.2 842.7h4.7v2.3h-4.7zM1823.9 750.2h4.7v2.3h-4.7zM1714.2 672.4h4.7v2.3h-4.7zM1917.2 1400.5h2.3v2.3h-2.3zM759.9 779.4h4.7v2.3h-4.7zM668.9 679.9h2.3v2.3h-2.3zM1259.2 1406.4h4.7v2.3h-4.7zM283.9 821h2.3v2.3h-2.3zM1595.2 1398.3h2.3v2.3h-2.3zM1259.2 644.5h4.7v2.3h-4.7zM1786.5 1406.4h2.3v2.3h-2.3zM1609.2 1392.3h2.3v2.3h-2.3zM1627.9 1325.9h2.3v2.3h-2.3zM286.2 1355.8h4.7v2.3h-4.7zM624.5 1327.2h2.3v2.3h-2.3zM449.5 1295.5h2.3v2.3h-2.3zM1749.2 641.1h4.7v2.3h-4.7zM1851.9 852.6h2.3v2.3h-2.3zM773.9 1282.4h2.3v2.3h-2.3zM911.5 1300.3h4.7v2.3h-4.7zM699.2 1319.8h4.7v2.3h-4.7zM1912.5 1377.3h2.3v2.3h-2.3zM953.5 1374.1h2.3v2.3h-2.3zM1851.9 1302.1h2.3v2.3h-2.3zM328.2 643.2h4.7v2.3h-4.7zM1893.9 1274.6h2.3v2.3h-2.3zM997.9 1288.2h2.3v2.3h-2.3zM1707.2 720.9h4.7v2.3h-4.7zM1301.2 1288.3h2.3v2.3h-2.3zM1119.2 1287.9h2.3v2.3h-2.3zM1392.2 813h2.3v2.3h-2.3zM1606.9 701.6h4.7v2.3h-4.7zM1807.5 1392.7h2.3v2.3h-2.3zM1700.2 1264.4h2.3v2.3h-2.3zM1688.5 1354.4h2.3v2.3h-2.3zM1151.9 722.8h2.3v2.3h-2.3zM1331.5 640.4h2.3v2.3h-2.3zM892.9 769.1h2.3v2.3h-2.3zM941.9 1390.3h4.7v2.3h-4.7zM603.5 827.3h4.7v2.3h-4.7zM1889.2 1341h4.7v2.3h-4.7zM456.5 1338.6h2.3v2.3h-2.3zM731.9 1376.1h2.3v2.3h-2.3zM990.9 1369.1h2.3v2.3h-2.3zM1945.2 696h2.3v2.3h-2.3zM1172.9 1275.9h2.3v2.3h-2.3zM402.9 767.5h2.3v2.3h-2.3zM1499.5 751.4h2.3v2.3h-2.3zM703.9 660.3h4.7v2.3h-4.7zM944.2 764.2h2.3v2.3h-2.3zM1487.9 1300.9h2.3v2.3h-2.3zM1147.2 1320.7h2.3v2.3h-2.3zM447.2 771.4h2.3v2.3h-2.3zM923.2 1265.3h2.3v2.3h-2.3zM741.2 1398.8h2.3v2.3h-2.3zM1653.5 1303.3h2.3v2.3h-2.3zM1270.9 738.3h4.7v2.3h-4.7zM1707.2 1302.1h2.3v2.3h-2.3zM1060.9 679.8h2.3v2.3h-2.3zM318.9 762.6h4.7v2.3h-4.7zM1347.9 1395.6h2.3v2.3h-2.3zM1681.5 1407.7h4.7v2.3h-4.7zM468.2 764.2h4.7v2.3h-4.7zM465.9 1367.8h2.3v2.3h-2.3zM689.9 675.1h2.3v2.3h-2.3zM783.2 847.2h2.3v2.3h-2.3zM393.5 1404.9h2.3v2.3h-2.3zM869.5 1374.1h4.7v2.3h-4.7zM1408.5 671.9h2.3v2.3h-2.3zM727.2 1309.2h4.7v2.3h-4.7zM1305.9 1278.7h2.3v2.3h-2.3zM1140.2 667.3h2.3v2.3h-2.3zM1158.9 692.5h2.3v2.3h-2.3zM1870.5 1335.9h2.3v2.3h-2.3zM337.5 823.2h2.3v2.3h-2.3zM1730.5 1402.4h2.3v2.3h-2.3zM1319.9 1408.3h2.3v2.3h-2.3zM304.9 1333.5h2.3v2.3h-2.3zM1023.5 1337.5h4.7v2.3h-4.7zM1126.2 688.8h2.3v2.3h-2.3zM682.9 1349.4h2.3v2.3h-2.3zM1301.2 1304.1h2.3v2.3h-2.3zM841.5 699.6h2.3v2.3h-2.3zM1051.5 1303.2h2.3v2.3h-2.3zM1011.9 1338.2h2.3v2.3h-2.3zM1478.5 836.9h4.7v2.3h-4.7zM757.5 1394h2.3v2.3h-2.3zM867.2 1415.4h2.3v2.3h-2.3zM876.5 1408.2h2.3v2.3h-2.3zM1184.5 837.2h2.3v2.3h-2.3zM953.5 780.8h2.3v2.3h-2.3zM1464.5 670.8h2.3v2.3h-2.3zM1511.2 719.2h2.3v2.3h-2.3zM1228.9 765.7h2.3v2.3h-2.3zM682.9 1298.4h2.3v2.3h-2.3zM722.5 1393h4.7v2.3h-4.7zM1436.5 1289.7h2.3v2.3h-2.3zM1716.5 1361.3h2.3v2.3h-2.3zM1644.2 642.2h4.7v2.3h-4.7zM1494.9 798.8h2.3v2.3h-2.3zM1490.2 1315h4.7v2.3h-4.7zM1429.5 730.1h2.3v2.3h-2.3zM570.9 1304.1h2.3v2.3h-2.3zM1597.5 1320h2.3v2.3h-2.3zM1931.2 770.9h2.3v2.3h-2.3zM1102.9 1332.4h4.7v2.3h-4.7zM423.9 797.2h2.3v2.3h-2.3zM1163.5 1403.9h2.3v2.3h-2.3zM510.2 1340.2h4.7v2.3h-4.7zM314.2 1346.9h2.3v2.3h-2.3zM834.5 1297.3h2.3v2.3h-2.3zM652.5 695.1h2.3v2.3h-2.3zM297.9 793.8h2.3v2.3h-2.3zM876.5 771.9h4.7v2.3h-4.7zM1361.9 1373h2.3v2.3h-2.3zM1091.2 1375.3h2.3v2.3h-2.3zM904.5 748.6h4.7v2.3h-4.7zM920.9 666.7h2.3v2.3h-2.3zM1546.2 1398.1h2.3v2.3h-2.3zM1849.5 1380h2.3v2.3h-2.3zM295.5 1323.4h2.3v2.3h-2.3zM1679.2 1345h2.3v2.3h-2.3zM377.2 1315.5h2.3v2.3h-2.3zM1053.9 1395.2h4.7v2.3h-4.7zM1018.9 1395.9h2.3v2.3h-2.3zM1028.2 1413.3h2.3v2.3h-2.3zM848.5 1366.8h2.3v2.3h-2.3zM1123.9 681.2h2.3v2.3h-2.3zM1287.2 787.2h2.3v2.3h-2.3zM584.9 727.4h2.3v2.3h-2.3zM1765.5 855.6h2.3v2.3h-2.3zM335.2 1360.1h4.7v2.3h-4.7zM1742.2 759.3h2.3v2.3h-2.3zM1737.5 666.8h2.3v2.3h-2.3zM1289.5 648.7h2.3v2.3h-2.3zM981.5 676.7h2.3v2.3h-2.3zM1672.2 1407.5h2.3v2.3h-2.3zM454.2 1346.3h2.3v2.3h-2.3zM1303.5 668.9h2.3v2.3h-2.3zM1224.2 1305.3h4.7v2.3h-4.7zM461.2 1307.4h2.3v2.3h-2.3zM1709.5 1297h2.3v2.3h-2.3zM734.2 1320h4.7v2.3h-4.7zM976.9 1336.1h2.3v2.3h-2.3zM325.9 688.7h4.7v2.3h-4.7zM1557.9 768.9h2.3v2.3h-2.3zM1095.9 849.5h2.3v2.3h-2.3zM1583.5 699.4h2.3v2.3h-2.3zM958.2 644.8h4.7v2.3h-4.7zM412.2 1317h4.7v2.3h-4.7zM400.5 1393.8h2.3v2.3h-2.3zM512.5 1418.3h4.7v2.3h-4.7zM622.2 787h2.3v2.3h-2.3zM1865.9 774.4h2.3v2.3h-2.3zM1490.2 828.4h2.3v2.3h-2.3zM895.2 1374h4.7v2.3h-4.7zM556.9 662.7h2.3v2.3h-2.3zM1567.2 1340.7h4.7v2.3h-4.7zM610.5 812.4h4.7v2.3h-4.7zM1702.5 827.4h4.7v2.3h-4.7zM1345.5 717.6h2.3v2.3h-2.3zM1186.9 1356.1h4.7v2.3h-4.7zM1021.2 804.1h2.3v2.3h-2.3zM1161.2 680.5h2.3v2.3h-2.3zM598.9 722.9h2.3v2.3h-2.3zM463.5 1314.2h4.7v2.3h-4.7zM832.2 1294.3h2.3v2.3h-2.3zM276.9 696.4h2.3v2.3h-2.3zM969.9 1384.2h4.7v2.3h-4.7zM1732.9 1343.8h4.7v2.3h-4.7zM1889.2 742.1h2.3v2.3h-2.3zM1672.2 1333.6h2.3v2.3h-2.3zM1868.2 690.4h2.3v2.3h-2.3zM1147.2 1364.5h4.7v2.3h-4.7zM619.9 1414.4h2.3v2.3h-2.3zM1212.5 777.4h4.7v2.3h-4.7zM1072.5 1379.9h2.3v2.3h-2.3zM659.5 720.7h2.3v2.3h-2.3zM995.5 1279.5h2.3v2.3h-2.3zM1900.9 845.8h4.7v2.3h-4.7zM1256.9 1344.8h4.7v2.3h-4.7zM748.2 1291.7h2.3v2.3h-2.3zM395.9 1357.3h2.3v2.3h-2.3zM1613.9 1362.6h2.3v2.3h-2.3zM1905.5 813.3h2.3v2.3h-2.3zM1903.2 1406.9h2.3v2.3h-2.3zM486.9 1367.6h2.3v2.3h-2.3zM671.2 1349.4h2.3v2.3h-2.3zM1798.2 1343.3h2.3v2.3h-2.3zM1625.5 772.4h2.3v2.3h-2.3zM626.9 1342.5h2.3v2.3h-2.3zM491.5 848.5h2.3v2.3h-2.3zM1368.9 1389.4h2.3v2.3h-2.3zM1805.2 809.5h2.3v2.3h-2.3zM596.5 1317.9h2.3v2.3h-2.3zM330.5 661.9h4.7v2.3h-4.7zM402.9 739h2.3v2.3h-2.3zM300.2 835.9h4.7v2.3h-4.7zM356.2 776.4h2.3v2.3h-2.3zM785.5 844.8h2.3v2.3h-2.3zM1004.9 830.7h2.3v2.3h-2.3zM976.9 695.4h2.3v2.3h-2.3zM414.5 725.8h4.7v2.3h-4.7zM1648.9 708h4.7v2.3h-4.7zM1410.9 831h2.3v2.3h-2.3zM666.5 723.4h2.3v2.3h-2.3zM946.5 719.8h2.3v2.3h-2.3zM1527.5 1315.1h4.7v2.3h-4.7zM409.9 1328.7h2.3v2.3h-2.3zM1576.5 682.1h2.3v2.3h-2.3zM1074.9 647.7h4.7v2.3h-4.7zM311.9 674.3h4.7v2.3h-4.7zM561.5 699.3h2.3v2.3h-2.3zM1578.9 824h2.3v2.3h-2.3zM633.9 687.6h2.3v2.3h-2.3zM1151.9 1353.8h2.3v2.3h-2.3zM1389.9 1297.9h2.3v2.3h-2.3zM1865.9 795.4h2.3v2.3h-2.3zM1676.9 1354.8h2.3v2.3h-2.3zM1529.9 773.8h2.3v2.3h-2.3zM552.2 1281.4h4.7v2.3h-4.7zM470.5 1304.7h2.3v2.3h-2.3zM321.2 1351.7h2.3v2.3h-2.3zM288.5 658.9h2.3v2.3h-2.3zM806.5 785.8h2.3v2.3h-2.3zM414.5 1319.1h4.7v2.3h-4.7zM962.9 798.1h2.3v2.3h-2.3zM792.5 819.7h2.3v2.3h-2.3zM927.9 825.8h2.3v2.3h-2.3zM1753.9 1398.1h2.3v2.3h-2.3zM913.9 720.6h4.7v2.3h-4.7zM1903.2 730.8h4.7v2.3h-4.7zM1933.5 1301.3h2.3v2.3h-2.3zM1093.5 1277.4h2.3v2.3h-2.3zM526.5 774h2.3v2.3h-2.3zM1870.5 648.8h2.3v2.3h-2.3zM1282.5 706.7h2.3v2.3h-2.3zM346.9 1361.5h2.3v2.3h-2.3zM1602.2 1352.1h4.7v2.3h-4.7zM1497.2 735.7h4.7v2.3h-4.7zM1627.9 640.2h4.7v2.3h-4.7zM937.2 1400.3h4.7v2.3h-4.7zM1702.5 1415.9h4.7v2.3h-4.7zM517.2 710.1h2.3v2.3h-2.3zM458.9 803.7h4.7v2.3h-4.7zM1723.5 1306.4h2.3v2.3h-2.3zM1086.5 1329h2.3v2.3h-2.3zM1905.5 1370.8h4.7v2.3h-4.7zM1746.9 1270.6h4.7v2.3h-4.7zM743.5 752.6h2.3v2.3h-2.3zM1422.5 1268.9h4.7v2.3h-4.7zM1588.2 760.2h4.7v2.3h-4.7zM815.9 1301.5h2.3v2.3h-2.3zM654.9 730.6h2.3v2.3h-2.3zM1772.5 670h4.7v2.3h-4.7zM1415.5 1299.6h2.3v2.3h-2.3zM267.5 1332.3h4.7v2.3h-4.7zM1091.2 1283.1h4.7v2.3h-4.7zM591.9 1300h4.7v2.3h-4.7zM533.5 1382.2h2.3v2.3h-2.3zM1870.5 1356.6h2.3v2.3h-2.3zM1221.9 1280.1h2.3v2.3h-2.3zM281.5 685.4h2.3v2.3h-2.3zM923.2 664.3h2.3v2.3h-2.3zM1322.2 1287.5h2.3v2.3h-2.3zM1371.2 1307.7h4.7v2.3h-4.7zM423.9 743.1h2.3v2.3h-2.3zM451.9 1314.4h4.7v2.3h-4.7zM1599.9 781.9h2.3v2.3h-2.3zM1420.2 759.5h2.3v2.3h-2.3zM1109.9 1363.8h4.7v2.3h-4.7zM1718.9 1365.1h2.3v2.3h-2.3zM1812.2 670.5h2.3v2.3h-2.3zM311.9 1394.7h2.3v2.3h-2.3zM1130.9 780.4h4.7v2.3h-4.7zM654.9 798.1h2.3v2.3h-2.3zM1725.9 680.6h2.3v2.3h-2.3zM1016.5 670h2.3v2.3h-2.3zM857.9 649.1h4.7v2.3h-4.7zM1753.9 1420h2.3v2.3h-2.3zM372.5 1340.1h2.3v2.3h-2.3zM629.2 1357.2h4.7v2.3h-4.7zM444.9 690h2.3v2.3h-2.3zM1310.5 1325.4h2.3v2.3h-2.3zM1303.5 1296.5h2.3v2.3h-2.3zM258.2 774.4h4.7v2.3h-4.7zM1268.5 655.8h2.3v2.3h-2.3zM1480.9 1402.7h2.3v2.3h-2.3zM1301.2 850.3h2.3v2.3h-2.3zM645.5 640.9h4.7v2.3h-4.7zM1865.9 683h2.3v2.3h-2.3zM1548.5 741.3h4.7v2.3h-4.7zM1746.9 1416h4.7v2.3h-4.7zM1732.9 818.1h4.7v2.3h-4.7zM1868.2 784.9h4.7v2.3h-4.7zM1616.2 721.1h4.7v2.3h-4.7zM1798.2 830.4h4.7v2.3h-4.7zM1765.5 681.5h4.7v2.3h-4.7zM1322.2 1285.2h4.7v2.3h-4.7zM1140.2 1411h2.3v2.3h-2.3zM1518.2 737.1h2.3v2.3h-2.3zM524.2 853.1h2.3v2.3h-2.3zM1562.5 1297h2.3v2.3h-2.3zM1805.2 756.8h2.3v2.3h-2.3zM1947.5 1349.5h2.3v2.3h-2.3zM1546.2 1279.9h4.7v2.3h-4.7zM1658.2 1396.5h4.7v2.3h-4.7zM428.5 1283.2h4.7v2.3h-4.7zM1567.2 1394.5h2.3v2.3h-2.3zM1749.2 1376h2.3v2.3h-2.3zM1352.5 1323.9h2.3v2.3h-2.3zM710.9 1384.4h2.3v2.3h-2.3zM1144.9 1271.1h2.3v2.3h-2.3zM365.5 643.3h4.7v2.3h-4.7zM762.2 1281h2.3v2.3h-2.3zM1270.9 1275.9h2.3v2.3h-2.3zM1597.5 800.2h2.3v2.3h-2.3zM654.9 825.1h4.7v2.3h-4.7zM1877.5 696.2h2.3v2.3h-2.3zM1142.5 1344.9h2.3v2.3h-2.3zM1420.2 772.8h2.3v2.3h-2.3zM1102.9 1388.9h2.3v2.3h-2.3zM332.9 1368.7h2.3v2.3h-2.3zM1098.2 738.3h4.7v2.3h-4.7zM1303.5 644.6h2.3v2.3h-2.3zM428.5 1291.3h4.7v2.3h-4.7zM944.2 1367.8h2.3v2.3h-2.3zM1658.2 1347.1h4.7v2.3h-4.7zM895.2 1264.2h2.3v2.3h-2.3zM612.9 1338.5h2.3v2.3h-2.3zM337.5 776.5h4.7v2.3h-4.7zM1875.2 1395.2h2.3v2.3h-2.3zM1907.9 1324.2h4.7v2.3h-4.7zM1487.9 712.4h2.3v2.3h-2.3zM995.5 1355.1h2.3v2.3h-2.3zM757.5 719.4h2.3v2.3h-2.3zM1044.5 1323.3h2.3v2.3h-2.3zM1002.5 767.4h2.3v2.3h-2.3zM794.9 741.1h4.7v2.3h-4.7zM360.9 1376.9h2.3v2.3h-2.3zM904.5 654h2.3v2.3h-2.3zM1105.2 1345.4h2.3v2.3h-2.3zM1921.9 763.3h2.3v2.3h-2.3zM729.5 1362h4.7v2.3h-4.7zM489.2 701.9h2.3v2.3h-2.3zM589.5 1310h2.3v2.3h-2.3z"/>
<path fill="#000" d="M249.2 876.5V876.5H255.9V878.7H260.5V886.4H265.2V906.2H269.9V910.2H274.5V908.6H279.2V917.3H283.9V914.8H288.5V921.7H293.2V900.4H297.9V884.9H302.5V887.3H307.2V912.4H311.9V916.9H316.5V915.7H321.2V897.8H325.9V918.8H330.5V920H335.2V885.2H339.9V880.8H344.5V879.6H349.2V878H353.9V870.3H358.5V883.3H363.2V896.2H367.9V891.2H372.5V914H377.2V883.3H381.9V894.6H386.5V894.7H391.2V903.1H395.9V906.1H400.5V885.4H405.2V794.1H409.9V799.9H414.5V802.3H419.2V866.3H423.9V875.9H428.5V875.5H433.2V884.5H437.9V885.6H442.5V883H447.2V877H451.9V875.6H456.5V881.9H461.2V890.5H465.9V858.3H470.5V891.3H475.2V922.4H479.9V914.5H484.5V893.5H489.2V905.3H493.9V917.5H498.5V903.6H503.2V803H507.9V796.7H512.5V809.5H517.2V920H521.9V915.3H526.5V920H531.2V879H535.9V906.7H540.5V906.2H545.2V901.7H549.9V912.9H554.5V914.1H559.2V897.8H563.9V904.5H568.5V915.7H573.2V903.8H577.9V896.1H582.5V896.6H587.2V912.7H591.9V896.5H596.5V896.4H601.2V912.9H605.9V914.1H610.5V912.4H615.2V908.9H619.9V916.6H624.5V907.8H629.2V814.7H633.9V805.2H638.5V810.1H643.2V908.2H647.9V904.4H652.5V907.1H657.2V917.7H661.9V918.1H666.5V912.5H671.2V885.5H675.9V909.3H680.5V889.3H685.2V911.9H689.9V914.6H694.5V909.6H699.2V899.3H703.9V903.3H708.5V899.2H713.2V861.9H717.9V861.5H722.5V862.1H727.2V842.1H731.9V899.6H736.5V906.3H741.2V908.6H745.9V891.4H750.5V885.8H755.2V880.5H759.9V887.5H764.5V891.4H769.2V861.9H773.9V868.6H778.5V857.1H783.2V882H787.9V877.9H792.5V879.4H797.2V913.7H801.9V910.2H806.5V909.2H811.2V889.4H815.9V909.2H820.5V899.3H825.2V912.2H829.9V900.2H834.5V897.4H839.2V892.8H843.9V908.9H848.5V909.6H853.2V873.1H857.9V874.1H862.5V867H867.2V891.1H871.9V894.1H876.5V898.3H881.2V906.1H885.9V908.8H890.5V910.5H895.2V885.1H899.9V870.4H904.5V878.6H909.2V901.1H913.9V912.8H918.5V911.5H923.2V884.3H927.9V872.3H932.5V884.7H937.2V815.8H941.9V848.3H946.5V849H951.2V877.5H955.9V861H960.5V885H965.2V887.6H969.9V900.1H974.5V900.8H979.2V892.6H983.9V898.8H988.5V892.3H993.2V882.4H997.9V882.9H1002.5V882.6H1007.2V885H1011.9V872.6H1016.5V885H1021.2V843.3H1025.9V887.4H1030.5V904.8H1035.2V920.3H1039.9V919.7H1044.5V903.1H1049.2V903.7H1053.9V883.1H1058.5V883.9H1063.2V909.6H1067.9V911.1H1072.5V908.4H1077.2V853.2H1081.9V879.1H1086.5V871.7H1091.2V897.7H1095.9V897.5H1100.5V884.1H1105.2V901.1H1109.9V906.6H1114.5V896.5H1119.2V860.1H1123.9V842.8H1128.5V852.7H1133.2V889.5H1137.9V874.1H1142.5V867H1147.2V904.8H1151.9V915.3H1156.5V917.8H1161.2V891.6H1165.9V891.7H1170.5V888.5H1175.2V891.3H1179.9V874.5H1184.5V880.7H1189.2V874.7H1193.9V874.9H1198.5V877.3H1203.2V907.4H1207.9V909.2H1212.5V902.6H1217.2V824.3H1221.9V850.1H1226.5V839.1H1231.2V844.3H1235.9V841.7H1240.5V850.3H1245.2V895.6H1249.9V888H1254.5V905.6H1259.2V901.1H1263.9V908H1268.5V909.3H1273.2V914.7H1277.9V909.8H1282.5V910H1287.2V898.7H1291.9V898H1296.5V897.6H1301.2V900.5H1305.9V910H1310.5V907.7H1315.2V865.7H1319.9V845.2H1324.5V860.2H1329.2V918.5H1333.9V913H1338.5V918.1H1343.2V914.7H1347.9V910.3H1352.5V917.4H1357.2V896.6H1361.9V902.8H1366.5V903.8H1371.2V915.3H1375.9V899.7H1380.5V913.9H1385.2V886.1H1389.9V896.1H1394.5V856.4H1399.2V879.8H1403.9V880H1408.5V870.9H1413.2V841.4H1417.9V843.9H1422.5V834.9H1427.2V910H1431.9V908.1H1436.5V850.2H1441.2V890.1H1445.9V891.3H1450.5V903.6H1455.2V871.8H1459.9V868.3H1464.5V837.3H1469.2V867.9H1473.9V861.7H1478.5V867.7H1483.2V881.1H1487.9V877.9H1492.5V865.4H1497.2V807.9H1501.9V841.1H1506.5V841.4H1511.2V900H1515.9V894.9H1520.5V901.9H1525.2V850.9H1529.9V875.2H1534.5V869.6H1539.2V893.5H1543.9V912.4H1548.5V912.3H1553.2V868.4H1557.9V873.8H1562.5V873.5H1567.2V896.5H1571.9V884.8H1576.5V886.1H1581.2V919.8H1585.9V918.2H1590.5V887.1H1595.2V907H1599.9V911.6H1604.5V884.1H1609.2V783.1H1613.9V793.9H1618.5V799.7H1623.2V904.2H1627.9V906.1H1632.5V886.4H1637.2V887.3H1641.9V910.1H1646.5V904.7H1651.2V901H1655.9V903.8H1660.5V886.6H1665.2V910.8H1669.9V899.4H1674.5V905.2H1679.2V848.7H1683.9V859.1H1688.5V831.2H1693.2V910.5H1697.9V914.3H1702.5V908.8H1707.2V876.3H1711.9V844.4H1716.5V867.4H1721.2V897.7H1725.9V907.3H1730.5V901.7H1735.2V879.1H1739.9V858.7H1744.5V866.6H1749.2V909.9H1753.9V877.8H1758.5V911.4H1763.2V841.2H1767.9V844H1772.5V840H1777.2V831H1781.9V827.1H1786.5V822.7H1791.2V898.6H1795.9V904.9H1800.5V898.8H1805.2V903.6H1809.9V901.1H1814.5V896H1819.2V871.4H1823.9V872.7H1828.5V875.2H1833.2V880H1837.9V884.3H1842.5V874.7H1847.2V880.7H1851.9V866.8H1856.5V892H1861.2V876.9H1865.9V871.1H1870.5V867.4H1875.2V919.2H1879.9V912.6H1884.5V908.3H1889.2V906.3H1893.9V893.4H1898.5V908H1903.2V861.5H1907.9V871.2H1912.5V874.5H1917.2V907.2H1921.9V916.6H1926.5V910.2H1931.2V912.4H1935.9V903.3H1940.5V898.1H1945.2V871.8H1949.9V890.9H1954.5V889.4H1956.6V1162.5H1954.5V1168.6H1949.9V1163.1H1945.2V1167.5H1940.5V1196.9H1935.9V1164.3H1931.2V1202.1H1926.5V1186.9H1921.9V1194.9H1917.2V1193.2H1912.5V1189.7H1907.9V1194.9H1903.2V1187.9H1898.5V1194.3H1893.9V1194.7H1889.2V1175.3H1884.5V1184.9H1879.9V1172.3H1875.2V1189H1870.5V1174.6H1865.9V1186.6H1861.2V1189.9H1856.5V1197.7H1851.9V1189.9H1847.2V1215.4H1842.5V1187.7H1837.9V1199.3H1833.2V1184.6H1828.5V1179.9H1823.9V1202.9H1819.2V1216.6H1814.5V1218.9H1809.9V1219.3H1805.2V1164.6H1800.5V1171.8H1795.9V1167.4H1791.2V1178.8H1786.5V1181.6H1781.9V1186.9H1777.2V1167.4H1772.5V1165.7H1767.9V1168.2H1763.2V1162.5H1758.5V1188.9H1753.9V1163.5H1749.2V1169.5H1744.5V1169.4H1739.9V1174.4H1735.2V1250.9H1730.5V1236.6H1725.9V1245.6H1721.2V1176.1H1716.5V1175.4H1711.9V1170.8H1707.2V1181.5H1702.5V1191H1697.9V1179H1693.2V1208.5H1688.5V1189.7H1683.9V1188.7H1679.2V1257.9H1674.5V1252.7H1669.9V1261.7H1665.2V1189.4H1660.5V1193.4H1655.9V1187.4H1651.2V1248.4H1646.5V1228.5H1641.9V1229.6H1637.2V1203.2H1632.5V1203.9H1627.9V1200.5H1623.2V1189.1H1618.5V1162.7H1613.9V1164.3H1609.2V1215.9H1604.5V1215.7H1599.9V1229.8H1595.2V1188.8H1590.5V1187.6H1585.9V1200.4H1581.2V1180.9H1576.5V1171.2H1571.9V1168.8H1567.2V1187.4H1562.5V1172.7H1557.9V1176.1H1553.2V1180H1548.5V1185.1H1543.9V1193.3H1539.2V1201.1H1534.5V1185.5H1529.9V1200.6H1525.2V1178.1H1520.5V1175.4H1515.9V1185.8H1511.2V1162.7H1506.5V1177.3H1501.9V1174.8H1497.2V1178.1H1492.5V1174.4H1487.9V1185.1H1483.2V1175.9H1478.5V1173.6H1473.9V1186.4H1469.2V1204.1H1464.5V1195.6H1459.9V1205.4H1455.2V1182.8H1450.5V1183.1H1445.9V1195.6H1441.2V1175.6H1436.5V1195.3H1431.9V1163.6H1427.2V1171.7H1422.5V1182.3H1417.9V1171.1H1413.2V1185.4H1408.5V1191H1403.9V1189.2H1399.2V1194H1394.5V1202H1389.9V1194.2H1385.2V1171.9H1380.5V1170.3H1375.9V1172.6H1371.2V1197.2H1366.5V1207.1H1361.9V1205.1H1357.2V1187.1H1352.5V1181.1H1347.9V1179.7H1343.2V1177.3H1338.5V1176.7H1333.9V1179.5H1329.2V1180.1H1324.5V1174.2H1319.9V1174H1315.2V1185.6H1310.5V1194.6H1305.9V1170.4H1301.2V1180.1H1296.5V1181.8H1291.9V1178.8H1287.2V1208.2H1282.5V1195H1277.9V1194.7H1273.2V1237.8H1268.5V1230.9H1263.9V1225.9H1259.2V1241.3H1254.5V1210.4H1249.9V1212.5H1245.2V1161.5H1240.5V1167.2H1235.9V1178.2H1231.2V1293.8H1226.5V1291.7H1221.9V1293.8H1217.2V1173.6H1212.5V1173.5H1207.9V1177.5H1203.2V1256.6H1198.5V1258.8H1193.9V1249.8H1189.2V1168.3H1184.5V1170.3H1179.9V1168.3H1175.2V1164.1H1170.5V1178.2H1165.9V1172.6H1161.2V1181.6H1156.5V1169.9H1151.9V1187.6H1147.2V1186.2H1142.5V1185.5H1137.9V1186.3H1133.2V1165.8H1128.5V1167H1123.9V1161.4H1119.2V1222.2H1114.5V1226.9H1109.9V1240.9H1105.2V1175.1H1100.5V1178.2H1095.9V1181.4H1091.2V1167.8H1086.5V1166.5H1081.9V1170.4H1077.2V1163.2H1072.5V1165.2H1067.9V1163.3H1063.2V1173.3H1058.5V1185.3H1053.9V1173.9H1049.2V1270H1044.5V1265.3H1039.9V1265.4H1035.2V1185H1030.5V1179.8H1025.9V1193.8H1021.2V1187.9H1016.5V1183.2H1011.9V1187.6H1007.2V1193H1002.5V1207.7H997.9V1194.4H993.2V1205.9H988.5V1198.9H983.9V1210.8H979.2V1178.5H974.5V1192.4H969.9V1177.2H965.2V1177.1H960.5V1181.8H955.9V1175.2H951.2V1163.4H946.5V1172.7H941.9V1174.1H937.2V1173.9H932.5V1169.9H927.9V1175.5H923.2V1174.8H918.5V1171.1H913.9V1179.4H909.2V1183.1H904.5V1166.2H899.9V1167.8H895.2V1169.3H890.5V1175.2H885.9V1167.7H881.2V1197.7H876.5V1199.4H871.9V1196.7H867.2V1180.5H862.5V1227.8H857.9V1175.9H853.2V1203.6H848.5V1202.2H843.9V1200.8H839.2V1198.6H834.5V1218.6H829.9V1207.5H825.2V1163.9H820.5V1168.2H815.9V1168.2H811.2V1185.9H806.5V1191.6H801.9V1201.8H797.2V1176.6H792.5V1173H787.9V1178.1H783.2V1178.8H778.5V1183.5H773.9V1222.3H769.2V1179.5H764.5V1199.4H759.9V1174.2H755.2V1164.7H750.5V1178.2H745.9V1165.4H741.2V1170H736.5V1185.1H731.9V1161.5H727.2V1191.8H722.5V1220.2H717.9V1190.9H713.2V1194.8H708.5V1165.3H703.9V1167.7H699.2V1169.8H694.5V1168.8H689.9V1163H685.2V1185.8H680.5V1205H675.9V1177.8H671.2V1172H666.5V1183.1H661.9V1181.4H657.2V1166.5H652.5V1179.6H647.9V1203H643.2V1161H638.5V1158.9H633.9V1172.9H629.2V1181.6H624.5V1184.9H619.9V1163H615.2V1170.5H610.5V1180.5H605.9V1191.7H601.2V1256H596.5V1210H591.9V1221.9H587.2V1229.2H582.5V1215.1H577.9V1220.1H573.2V1208H568.5V1220.1H563.9V1207.2H559.2V1170.8H554.5V1210.2H549.9V1172.5H545.2V1221.8H540.5V1219.3H535.9V1225.6H531.2V1196.3H526.5V1206.9H521.9V1198.2H517.2V1195.2H512.5V1179.6H507.9V1177.8H503.2V1164.9H498.5V1162.6H493.9V1185.5H489.2V1165.3H484.5V1163H479.9V1167.5H475.2V1183.6H470.5V1185.1H465.9V1186.8H461.2V1246.5H456.5V1272.2H451.9V1249.4H447.2V1170.6H442.5V1180.3H437.9V1169.9H433.2V1169.8H428.5V1168.1H423.9V1165H419.2V1160.5H414.5V1160H409.9V1170.9H405.2V1181.3H400.5V1173.9H395.9V1176.5H391.2V1178.9H386.5V1174.8H381.9V1173.7H377.2V1188.4H372.5V1178H367.9V1185.1H363.2V1236.4H358.5V1254H353.9V1235.8H349.2V1165.6H344.5V1181.7H339.9V1165.6H335.2V1176.1H330.5V1173.5H325.9V1176.2H321.2V1180.9H316.5V1176H311.9V1202.3H307.2V1174.4H302.5V1170.2H297.9V1173.7H293.2V1206.3H288.5V1209H283.9V1211.1H279.2V1263.5H274.5V1264.6H269.9V1266.3H265.2V1178.2H260.5V1179.2H255.9V1178.4H249.2Z"/>
<path fill="none" stroke="#000" stroke-width="5.8" stroke-dasharray="4.67 4.67" d="M252.2 838.5V1043.8M252.2 1244.5V1043.8M258 859.4V1043.8M258 1231.3V1043.8M263.9 763.8V1043.8M263.9 1253.8V1043.8M269.7 885.4V1043.8M269.7 1215V1043.8M275.5 838.5V1043.8M275.5 1272.5V1043.8M281.4 901.5V1043.8M281.4 1211.6V1043.8M287.2 810.5V1043.8M287.2 1244.5V1043.8M293 856.7V1043.8M293 1193.5V1043.8M298.9 773.1V1043.8M298.9 1281.8V1043.8M304.7 877.4V1043.8M304.7 1242.9V1043.8M310.5 791.8V1043.8M310.5 1216.5V1043.8M316.4 854.5V1043.8M316.4 1186.1V1043.8M322.2 838.5V1043.8M322.2 1272.5V1043.8M328 840.6V1043.8M328 1227.1V1043.8M333.9 819.8V1043.8M333.9 1272.5V1043.8M339.7 902V1043.8M339.7 1226.9V1043.8M345.5 838.5V1043.8M345.5 1281.8V1043.8M351.4 846V1043.8M351.4 1219.8V1043.8M357.2 819.8V1043.8M357.2 1235.1V1043.8M363 895.4V1043.8M363 1226.9V1043.8M368.9 801.1V1043.8M368.9 1216.5V1043.8M374.7 895.3V1043.8M374.7 1188.8V1043.8M380.5 763.8V1043.8M380.5 1281.8V1043.8M386.4 840.2V1043.8M386.4 1209.8V1043.8M392.2 819.8V1043.8M392.2 1235.1V1043.8M398 875.5V1043.8M398 1221.5V1043.8M403.9 763.8V1043.8M403.9 1244.5V1043.8M409.7 845.2V1043.8M409.7 1203.8V1043.8M415.5 829.1V1043.8M415.5 1207.1V1043.8M421.4 886.7V1043.8M421.4 1216.8V1043.8M427.2 838.5V1043.8M427.2 1272.5V1043.8M433 887.5V1043.8M433 1216V1043.8M438.9 810.5V1043.8M438.9 1253.8V1043.8M444.7 866.9V1043.8M444.7 1228.8V1043.8M450.5 810.5V1043.8M450.5 1216.5V1043.8M456.4 856.5V1043.8M456.4 1187V1043.8M462.2 782.5V1043.8M462.2 1281.8V1043.8M468 842.9V1043.8M468 1215.9V1043.8M473.9 829.1V1043.8M473.9 1263.1V1043.8M479.7 834.8V1043.8M479.7 1243.1V1043.8M485.5 773.1V1043.8M485.5 1253.8V1043.8M491.4 894.3V1043.8M491.4 1211.2V1043.8M497.2 819.8V1043.8M497.2 1235.1V1043.8M503 840.8V1043.8M503 1232.3V1043.8M508.9 838.5V1043.8M508.9 1216.5V1043.8M514.7 825.7V1043.8M514.7 1231V1043.8M520.5 763.8V1043.8M520.5 1272.5V1043.8M526.4 900.3V1043.8M526.4 1215V1043.8M532.2 838.5V1043.8M532.2 1272.5V1043.8M538 895.5V1043.8M538 1242.1V1043.8M543.9 801.1V1043.8M543.9 1216.5V1043.8M549.7 840.8V1043.8M549.7 1236.6V1043.8M555.5 773.1V1043.8M555.5 1244.5V1043.8M561.4 854.2V1043.8M561.4 1217.4V1043.8M567.2 791.8V1043.8M567.2 1244.5V1043.8M573 850.1V1043.8M573 1215.2V1043.8M578.9 801.1V1043.8M578.9 1216.5V1043.8M584.7 851.8V1043.8M584.7 1192.3V1043.8M590.5 838.5V1043.8M590.5 1263.1V1043.8M596.4 835.8V1043.8M596.4 1233.9V1043.8M602.2 791.8V1043.8M602.2 1291.1V1043.8M608 842.3V1043.8M608 1179.3V1043.8M613.9 829.1V1043.8M613.9 1235.1V1043.8M619.7 825.1V1043.8M619.7 1238.8V1043.8M625.5 838.5V1043.8M625.5 1207.1V1043.8M631.4 899.1V1043.8M631.4 1226.2V1043.8M637.2 838.5V1043.8M637.2 1253.8V1043.8M643 880.3V1043.8M643 1195.4V1043.8M648.9 810.5V1043.8M648.9 1291.1V1043.8M654.7 851.5V1043.8M654.7 1239.4V1043.8M660.5 763.8V1043.8M660.5 1272.5V1043.8M666.4 881.9V1043.8M666.4 1195V1043.8M672.2 810.5V1043.8M672.2 1272.5V1043.8M678 903.7V1043.8M678 1228.9V1043.8M683.9 838.5V1043.8M683.9 1272.5V1043.8M689.7 878.7V1043.8M689.7 1219.6V1043.8M695.5 829.1V1043.8M695.5 1207.1V1043.8M701.4 850.7V1043.8M701.4 1194.7V1043.8M707.2 801.1V1043.8M707.2 1272.5V1043.8M713 853.3V1043.8M713 1220.9V1043.8M718.9 829.1V1043.8M718.9 1244.5V1043.8M724.7 848.8V1043.8M724.7 1223.7V1043.8M730.5 819.8V1043.8M730.5 1225.8V1043.8M736.4 901.6V1043.8M736.4 1223.7V1043.8M742.2 782.5V1043.8M742.2 1216.5V1043.8M748 898.2V1043.8M748 1183.2V1043.8M753.9 838.5V1043.8M753.9 1253.8V1043.8M759.7 846V1043.8M759.7 1220.9V1043.8M765.5 763.8V1043.8M765.5 1244.5V1043.8M771.4 831.8V1043.8M771.4 1195.4V1043.8M777.2 773.1V1043.8M777.2 1244.5V1043.8M783 878V1043.8M783 1192.2V1043.8M788.9 819.8V1043.8M788.9 1207.1V1043.8M794.7 888.6V1043.8M794.7 1237.6V1043.8M800.5 829.1V1043.8M800.5 1216.5V1043.8M806.4 825.2V1043.8M806.4 1203.7V1043.8M812.2 829.1V1043.8M812.2 1207.1V1043.8M818 902.6V1043.8M818 1234.2V1043.8M823.9 829.1V1043.8M823.9 1272.5V1043.8M829.7 883.7V1043.8M829.7 1202.6V1043.8M835.5 829.1V1043.8M835.5 1272.5V1043.8M841.4 829.2V1043.8M841.4 1180.8V1043.8M847.2 782.5V1043.8M847.2 1272.5V1043.8M853 884.5V1043.8M853 1236.8V1043.8M858.9 773.1V1043.8M858.9 1225.8V1043.8M864.7 901.4V1043.8M864.7 1207.3V1043.8M870.5 810.5V1043.8M870.5 1244.5V1043.8M876.4 830V1043.8M876.4 1237.9V1043.8M882.2 819.8V1043.8M882.2 1235.1V1043.8M888 899.2V1043.8M888 1211.9V1043.8M893.9 763.8V1043.8M893.9 1272.5V1043.8M899.7 895V1043.8M899.7 1240.1V1043.8M905.5 819.8V1043.8M905.5 1216.5V1043.8M911.4 865.6V1043.8M911.4 1209.3V1043.8M917.2 829.1V1043.8M917.2 1272.5V1043.8M923 853.3V1043.8M923 1185.2V1043.8M928.9 801.1V1043.8M928.9 1225.8V1043.8M934.7 863V1043.8M934.7 1219.6V1043.8M940.5 791.8V1043.8M940.5 1263.1V1043.8M946.4 901.2V1043.8M946.4 1220.9V1043.8M952.2 829.1V1043.8M952.2 1235.1V1043.8M958 872.8V1043.8M958 1236.5V1043.8M963.9 829.1V1043.8M963.9 1253.8V1043.8M969.7 831.7V1043.8M969.7 1184.1V1043.8M975.5 773.1V1043.8M975.5 1225.8V1043.8M981.4 878.7V1043.8M981.4 1191.8V1043.8M987.2 801.1V1043.8M987.2 1244.5V1043.8M993 827.9V1043.8M993 1210.8V1043.8M998.9 829.1V1043.8M998.9 1272.5V1043.8M1004.7 887.6V1043.8M1004.7 1243.8V1043.8M1010.5 829.1V1043.8M1010.5 1235.1V1043.8M1016.4 847.1V1043.8M1016.4 1215.8V1043.8M1022.2 773.1V1043.8M1022.2 1253.8V1043.8M1028 865.8V1043.8M1028 1214.4V1043.8M1033.9 829.1V1043.8M1033.9 1244.5V1043.8M1039.7 857.3V1043.8M1039.7 1236.4V1043.8M1045.5 819.8V1043.8M1045.5 1253.8V1043.8M1051.4 886V1043.8M1051.4 1188.6V1043.8M1057.2 782.5V1043.8M1057.2 1216.5V1043.8M1063 869V1043.8M1063 1232.1V1043.8M1068.9 838.5V1043.8M1068.9 1272.5V1043.8M1074.7 889.8V1043.8M1074.7 1187.8V1043.8M1080.5 791.8V1043.8M1080.5 1244.5V1043.8M1086.4 894.5V1043.8M1086.4 1194.6V1043.8M1092.2 773.1V1043.8M1092.2 1281.8V1043.8M1098 826.8V1043.8M1098 1191.3V1043.8M1103.9 791.8V1043.8M1103.9 1235.1V1043.8M1109.7 827.3V1043.8M1109.7 1195.5V1043.8M1115.5 838.5V1043.8M1115.5 1263.1V1043.8M1121.4 886.8V1043.8M1121.4 1200.1V1043.8M1127.2 782.5V1043.8M1127.2 1263.1V1043.8M1133 889.4V1043.8M1133 1241.1V1043.8M1138.9 763.8V1043.8M1138.9 1253.8V1043.8M1144.7 871.7V1043.8M1144.7 1187.5V1043.8M1150.5 791.8V1043.8M1150.5 1272.5V1043.8M1156.4 893.6V1043.8M1156.4 1193.3V1043.8M1162.2 773.1V1043.8M1162.2 1253.8V1043.8M1168 852.1V1043.8M1168 1209.3V1043.8M1173.9 782.5V1043.8M1173.9 1244.5V1043.8M1179.7 889.8V1043.8M1179.7 1210.1V1043.8M1185.5 782.5V1043.8M1185.5 1272.5V1043.8M1191.4 852.4V1043.8M1191.4 1220V1043.8M1197.2 829.1V1043.8M1197.2 1272.5V1043.8M1203 879.7V1043.8M1203 1195.4V1043.8M1208.9 773.1V1043.8M1208.9 1281.8V1043.8M1214.7 856.7V1043.8M1214.7 1191.7V1043.8M1220.5 838.5V1043.8M1220.5 1272.5V1043.8M1226.4 836.8V1043.8M1226.4 1184.4V1043.8M1232.2 819.8V1043.8M1232.2 1207.1V1043.8M1238 897.2V1043.8M1238 1184.6V1043.8M1243.9 819.8V1043.8M1243.9 1235.1V1043.8M1249.7 865.5V1043.8M1249.7 1195.6V1043.8M1255.5 782.5V1043.8M1255.5 1225.8V1043.8M1261.4 840.5V1043.8M1261.4 1226.2V1043.8M1267.2 763.8V1043.8M1267.2 1272.5V1043.8M1273 843.7V1043.8M1273 1233.3V1043.8M1278.9 838.5V1043.8M1278.9 1253.8V1043.8M1284.7 888.5V1043.8M1284.7 1224.8V1043.8M1290.5 819.8V1043.8M1290.5 1216.5V1043.8M1296.4 850.7V1043.8M1296.4 1215.5V1043.8M1302.2 782.5V1043.8M1302.2 1244.5V1043.8M1308 862.1V1043.8M1308 1200.4V1043.8M1313.9 782.5V1043.8M1313.9 1244.5V1043.8M1319.7 888.4V1043.8M1319.7 1190.8V1043.8M1325.5 763.8V1043.8M1325.5 1216.5V1043.8M1331.4 898.8V1043.8M1331.4 1208.9V1043.8M1337.2 773.1V1043.8M1337.2 1225.8V1043.8M1343 878.6V1043.8M1343 1225.7V1043.8M1348.9 829.1V1043.8M1348.9 1281.8V1043.8M1354.7 833.6V1043.8M1354.7 1208.8V1043.8M1360.5 773.1V1043.8M1360.5 1263.1V1043.8M1366.4 865.7V1043.8M1366.4 1199V1043.8M1372.2 773.1V1043.8M1372.2 1244.5V1043.8M1378 867.8V1043.8M1378 1234.2V1043.8M1383.9 810.5V1043.8M1383.9 1281.8V1043.8M1389.7 829.1V1043.8M1389.7 1219V1043.8M1395.5 829.1V1043.8M1395.5 1272.5V1043.8M1401.4 828.3V1043.8M1401.4 1215V1043.8M1407.2 791.8V1043.8M1407.2 1235.1V1043.8M1413 862.2V1043.8M1413 1188.2V1043.8M1418.9 782.5V1043.8M1418.9 1207.1V1043.8M1424.7 831V1043.8M1424.7 1222.4V1043.8M1430.5 819.8V1043.8M1430.5 1272.5V1043.8M1436.4 855.5V1043.8M1436.4 1205.2V1043.8M1442.2 763.8V1043.8M1442.2 1244.5V1043.8M1448 859.6V1043.8M1448 1184.8V1043.8M1453.9 782.5V1043.8M1453.9 1235.1V1043.8M1459.7 885.7V1043.8M1459.7 1190.8V1043.8M1465.5 810.5V1043.8M1465.5 1225.8V1043.8M1471.4 840.8V1043.8M1471.4 1227.5V1043.8M1477.2 773.1V1043.8M1477.2 1244.5V1043.8M1483 839.6V1043.8M1483 1180.6V1043.8M1488.9 782.5V1043.8M1488.9 1291.1V1043.8M1494.7 854.6V1043.8M1494.7 1199.2V1043.8M1500.5 782.5V1043.8M1500.5 1263.1V1043.8M1506.4 899.3V1043.8M1506.4 1178.8V1043.8M1512.2 791.8V1043.8M1512.2 1281.8V1043.8M1518 827.6V1043.8M1518 1200.1V1043.8M1523.9 819.8V1043.8M1523.9 1235.1V1043.8M1529.7 873.8V1043.8M1529.7 1201.7V1043.8M1535.5 791.8V1043.8M1535.5 1281.8V1043.8M1541.4 843.4V1043.8M1541.4 1194.7V1043.8M1547.2 763.8V1043.8M1547.2 1263.1V1043.8M1553 843.4V1043.8M1553 1231.6V1043.8M1558.9 801.1V1043.8M1558.9 1235.1V1043.8M1564.7 838.2V1043.8M1564.7 1201.2V1043.8M1570.5 773.1V1043.8M1570.5 1216.5V1043.8M1576.4 828.7V1043.8M1576.4 1227.2V1043.8M1582.2 838.5V1043.8M1582.2 1281.8V1043.8M1588 860V1043.8M1588 1208.4V1043.8M1593.9 829.1V1043.8M1593.9 1235.1V1043.8M1599.7 883.9V1043.8M1599.7 1185.3V1043.8M1605.5 838.5V1043.8M1605.5 1263.1V1043.8M1611.4 887.9V1043.8M1611.4 1208.8V1043.8M1617.2 791.8V1043.8M1617.2 1235.1V1043.8M1623 876.2V1043.8M1623 1233.3V1043.8M1628.9 754.5V1043.8M1628.9 1281.8V1043.8M1634.7 898.3V1043.8M1634.7 1207.8V1043.8M1640.5 763.8V1043.8M1640.5 1263.1V1043.8M1646.4 893.8V1043.8M1646.4 1238.2V1043.8M1652.2 838.5V1043.8M1652.2 1244.5V1043.8M1658 838.2V1043.8M1658 1230.1V1043.8M1663.9 838.5V1043.8M1663.9 1235.1V1043.8M1669.7 828.4V1043.8M1669.7 1226.7V1043.8M1675.5 829.1V1043.8M1675.5 1225.8V1043.8M1681.4 877.5V1043.8M1681.4 1226.4V1043.8M1687.2 810.5V1043.8M1687.2 1272.5V1043.8M1693 831.8V1043.8M1693 1189.5V1043.8M1698.9 773.1V1043.8M1698.9 1235.1V1043.8M1704.7 829.9V1043.8M1704.7 1192.3V1043.8M1710.5 782.5V1043.8M1710.5 1225.8V1043.8M1716.4 866.8V1043.8M1716.4 1188.8V1043.8M1722.2 810.5V1043.8M1722.2 1253.8V1043.8M1728 883.1V1043.8M1728 1196.7V1043.8M1733.9 763.8V1043.8M1733.9 1216.5V1043.8M1739.7 841.2V1043.8M1739.7 1213.8V1043.8M1745.5 782.5V1043.8M1745.5 1216.5V1043.8M1751.4 866.8V1043.8M1751.4 1217.4V1043.8M1757.2 838.5V1043.8M1757.2 1207.1V1043.8M1763 840.1V1043.8M1763 1222.8V1043.8M1768.9 782.5V1043.8M1768.9 1225.8V1043.8M1774.7 887.9V1043.8M1774.7 1189.3V1043.8M1780.5 838.5V1043.8M1780.5 1216.5V1043.8M1786.4 878.5V1043.8M1786.4 1211.6V1043.8M1792.2 791.8V1043.8M1792.2 1244.5V1043.8M1798 881.6V1043.8M1798 1212.5V1043.8M1803.9 801.1V1043.8M1803.9 1225.8V1043.8M1809.7 875.7V1043.8M1809.7 1203.7V1043.8M1815.5 773.1V1043.8M1815.5 1263.1V1043.8M1821.4 866.6V1043.8M1821.4 1233V1043.8M1827.2 801.1V1043.8M1827.2 1263.1V1043.8M1833 849.5V1043.8M1833 1240.7V1043.8M1838.9 782.5V1043.8M1838.9 1281.8V1043.8M1844.7 892.2V1043.8M1844.7 1202.6V1043.8M1850.5 791.8V1043.8M1850.5 1263.1V1043.8M1856.4 876.6V1043.8M1856.4 1240.2V1043.8M1862.2 829.1V1043.8M1862.2 1281.8V1043.8M1868 825.8V1043.8M1868 1218.9V1043.8M1873.9 763.8V1043.8M1873.9 1235.1V1043.8M1879.7 861.2V1043.8M1879.7 1239.2V1043.8M1885.5 819.8V1043.8M1885.5 1235.1V1043.8M1891.4 855.1V1043.8M1891.4 1229.9V1043.8M1897.2 819.8V1043.8M1897.2 1235.1V1043.8M1903 838.1V1043.8M1903 1189.2V1043.8M1908.9 782.5V1043.8M1908.9 1216.5V1043.8M1914.7 878.9V1043.8M1914.7 1193.1V1043.8M1920.5 763.8V1043.8M1920.5 1281.8V1043.8M1926.4 859.7V1043.8M1926.4 1238.7V1043.8M1932.2 782.5V1043.8M1932.2 1244.5V1043.8M1938 853.4V1043.8M1938 1224.9V1043.8M1943.9 838.5V1043.8M1943.9 1235.1V1043.8M1949.7 848.2V1043.8M1949.7 1189.8V1043.8M1955.5 829.1V1043.8M1955.5 1235.1V1043.8M591.9 623V1043.8M503.2 731V1043.8M421.5 756V1043.8M631.5 737V1043.8M300.2 758V1043.8M1064.4 737V1043.8M1198.5 716V1043.8M936 752V1043.8M1309.4 737V1043.8M1361.9 746V1043.8M1507.7 750V1043.8M1577.7 744V1043.8M1835.5 744V1043.8M1870.5 736V1043.8M300.2 1431V1043.8M514.9 1288V1043.8M631.5 1279V1043.8M936 1312V1043.8M841.5 1297V1043.8M772.7 1295V1043.8M1415.5 1310V1043.8M1542.7 1314V1043.8M1380.5 1292V1043.8M1752.7 1342V1043.8M1857.7 1312V1043.8"/>
<path fill="none" stroke="#000" stroke-width="3.5" d="M260.4 886.1V1043.8M262.7 1281.5V1043.8M273.2 1235.6V1043.8M277.9 751.1V1043.8M277.9 1241.1V1043.8M307 811.7V1043.8M309.4 1275V1043.8M314 891.6V1043.8M332.7 1270.2V1043.8M338.5 1197.4V1043.8M350.2 803.4V1043.8M359.5 1266.3V1043.8M382.9 1234.6V1043.8M396.9 1282.5V1043.8M417.9 773.7V1043.8M442.4 1278V1043.8M458.7 812.3V1043.8M496 865.6V1043.8M511.2 839.5V1043.8M522.9 1191.4V1043.8M541.5 1192.5V1043.8M546.2 1237.7V1043.8M557.9 1249.9V1043.8M570.7 771.1V1043.8M581.2 805.8V1043.8M588.2 1214.3V1043.8M595.2 860V1043.8M595.2 1190.8V1043.8M604.5 794.5V1043.8M624.4 1260.3V1043.8M633.7 1265.9V1043.8M641.9 768.4V1043.8M645.4 1184.7V1043.8M662.9 849.3V1043.8M676.9 776.7V1043.8M693.2 884.3V1043.8M709.5 789.5V1043.8M709.5 1287.6V1043.8M735.2 804.9V1043.8M744.5 893.6V1043.8M744.5 1182.2V1043.8M776 793.5V1043.8M776 1274.8V1043.8M780.7 886.7V1043.8M781.9 1250.9V1043.8M799.4 797.9V1043.8M793.5 1194.6V1043.8M816.9 845.6V1043.8M827.4 1278.4V1043.8M849.5 895.7V1043.8M867 815V1043.8M872.9 884.9V1043.8M875.2 1224.9V1043.8M891.5 1273.9V1043.8M897.4 1232.5V1043.8M921.9 892.9V1043.8M954.5 766.6V1043.8M962.7 1194.7V1043.8M966.2 858.2V1043.8M977.9 795.1V1043.8M983.7 1200.6V1043.8M1003.5 1177.5V1043.8M1012.9 1191.6V1043.8M1026.9 865.3V1043.8M1030.4 1191V1043.8M1037.4 836.1V1043.8M1042 1264.7V1043.8M1077 768V1043.8M1096.9 812.5V1043.8M1102.7 1283.8V1043.8M1120.2 1251.8V1043.8M1135.4 1184V1043.8M1149.4 1215.2V1043.8M1155.2 885.7V1043.8M1171.5 1214.7V1043.8M1184.4 778.8V1043.8M1176.2 1284.5V1043.8M1218.2 837.8V1043.8M1224 867V1043.8M1231 1264.1V1043.8M1240.4 850.1V1043.8M1246.2 861.6V1043.8M1246.2 1245.6V1043.8M1263.7 881.2V1043.8M1271.9 789.1V1043.8M1269.5 1266V1043.8M1294 754.4V1043.8M1301 1226.4V1043.8M1305.7 787.9V1043.8M1306.9 1198.1V1043.8M1336 789.2V1043.8M1346.5 853.3V1043.8M1341.9 1232.9V1043.8M1351.2 778.2V1043.8M1371 892.6V1043.8M1368.7 1181.5V1043.8M1382.7 1216.5V1043.8M1392 889.7V1043.8M1406 804.7V1043.8M1397.9 1271.8V1043.8M1438.7 781.4V1043.8M1435.2 1215.5V1043.8M1505.2 902.1V1043.8M1526.2 753V1043.8M1534.4 1221V1043.8M1557.7 851.7V1043.8M1551.9 1189.2V1043.8M1590.4 778.6V1043.8M1596.2 759.3V1043.8M1598.5 1181.9V1043.8M1613.7 751.1V1043.8M1616 1275.8V1043.8M1619.5 1242.8V1043.8M1639.4 867.5V1043.8M1638.2 1215.6V1043.8M1649.9 812.7V1043.8M1644 1223.2V1043.8M1655.7 776.8V1043.8M1674.4 790.2V1043.8M1684.9 783.5V1043.8M1679 1243.4V1043.8M1697.7 815.6V1043.8M1708.2 767.6V1043.8M1714 802.8V1043.8M1731.5 803.2V1043.8M1724.5 1266.1V1043.8M1737.4 866.7V1043.8M1737.4 1286V1043.8M1753.7 755.8V1043.8M1747.9 1224.7V1043.8M1765.4 876.3V1043.8M1766.5 1212.4V1043.8M1778.2 834V1043.8M1779.4 1198.9V1043.8M1788.7 769.4V1043.8M1806.2 847.1V1043.8M1808.5 1254.9V1043.8M1826 1228.6V1043.8M1837.7 1250V1043.8M1854 1206.7V1043.8M1866.9 1215.6V1043.8M1890.2 775.8V1043.8M1896 1235.8V1043.8M1900.7 1197.9V1043.8M1911.2 786.5V1043.8M1924 834.4V1043.8M1931 1230.9V1043.8M1935.7 747.5V1043.8M1934.5 1192.3V1043.8M713.2 752V1043.8M863.7 741V1043.8M1437.7 757V1043.8M504.4 1325V1043.8M574.4 1276V1043.8M863.7 1316V1043.8M1309.4 1323V1043.8"/>
<path fill="#f00" d="M538.2 1160.5h2.3v2.3h-2.3zM1315.2 910.8h2.3v4.7h-2.3zM1935.9 936.5h2.3v2.3h-2.3zM1746.9 913.1h4.7v4.7h-4.7zM330.5 1179.1h4.7v2.3h-4.7zM1329.2 1207.1h4.7v4.7h-4.7zM1056.2 1176.8h2.3v2.3h-2.3zM1590.5 908.5h4.7v2.3h-4.7zM624.5 908.5h4.7v4.7h-4.7zM262.9 1169.8h4.7v2.3h-4.7zM1611.5 1195.5h2.3v2.3h-2.3zM1396.9 924.8h2.3v2.3h-2.3zM892.9 885.1h4.7v2.3h-4.7zM1634.9 1160.5h4.7v2.3h-4.7zM1709.5 1148.8h4.7v2.3h-4.7zM906.9 910.8h2.3v2.3h-2.3zM1273.2 903.8h2.3v4.7h-2.3zM1462.2 1193.1h2.3v2.3h-2.3zM1658.2 941.1h2.3v2.3h-2.3zM1697.9 1172.1h4.7v2.3h-4.7zM444.9 1188.5h2.3v2.3h-2.3zM1429.5 1153.5h4.7v2.3h-4.7zM913.9 1151.1h4.7v4.7h-4.7zM1508.9 1197.8h4.7v4.7h-4.7zM913.9 1188.5h2.3v2.3h-2.3zM1882.2 1214.1h2.3v4.7h-2.3zM596.5 1139.5h4.7v4.7h-4.7zM563.9 1188.5h2.3v2.3h-2.3zM869.5 913.1h2.3v2.3h-2.3zM444.9 931.8h4.7v2.3h-4.7zM442.5 1162.8h4.7v2.3h-4.7zM575.5 896.8h4.7v2.3h-4.7zM1053.9 936.5h2.3v2.3h-2.3zM785.5 1155.8h2.3v2.3h-2.3zM633.9 1214.1h2.3v4.7h-2.3zM1165.9 1151.1h2.3v2.3h-2.3zM997.9 889.8h2.3v4.7h-2.3zM1357.2 1202.5h2.3v2.3h-2.3zM633.9 903.8h2.3v2.3h-2.3zM577.9 1174.5h2.3v4.7h-2.3zM1128.5 903.8h4.7v2.3h-4.7zM638.5 1207.1h2.3v2.3h-2.3zM517.2 908.5h2.3v2.3h-2.3zM1170.5 924.8h2.3v2.3h-2.3zM738.9 1144.1h2.3v2.3h-2.3zM1753.9 1181.5h4.7v4.7h-4.7zM1116.9 1214.1h4.7v2.3h-4.7zM1548.5 920.1h4.7v2.3h-4.7zM967.5 1214.1h2.3v4.7h-2.3zM1651.2 915.5h2.3v4.7h-2.3zM419.2 908.5h4.7v2.3h-4.7zM815.9 894.5h2.3v2.3h-2.3zM1870.5 929.5h2.3v2.3h-2.3zM920.9 1209.5h4.7v2.3h-4.7zM1480.9 1162.8h4.7v4.7h-4.7zM1522.9 950.5h2.3v2.3h-2.3zM785.5 934.1h2.3v2.3h-2.3zM1648.9 1190.8h2.3v2.3h-2.3zM1917.2 945.8h4.7v2.3h-4.7zM514.9 1176.8h2.3v2.3h-2.3zM1830.9 871.1h2.3v2.3h-2.3zM1739.9 1148.8h4.7v2.3h-4.7zM1567.2 920.1h2.3v2.3h-2.3zM1548.5 936.5h2.3v2.3h-2.3zM514.9 936.5h4.7v4.7h-4.7zM1623.2 903.8h2.3v2.3h-2.3zM1548.5 889.8h2.3v2.3h-2.3zM584.9 873.5h2.3v2.3h-2.3zM1102.9 887.5h2.3v4.7h-2.3zM1175.2 1162.8h2.3v2.3h-2.3zM1851.9 913.1h4.7v2.3h-4.7zM339.9 934.1h2.3v2.3h-2.3zM1042.2 922.5h2.3v2.3h-2.3zM986.2 908.5h2.3v2.3h-2.3zM1889.2 936.5h2.3v2.3h-2.3zM503.2 1211.8h4.7v2.3h-4.7zM1438.9 868.8h4.7v4.7h-4.7zM624.5 927.1h2.3v2.3h-2.3zM363.2 908.5h4.7v4.7h-4.7zM706.2 1148.8h4.7v2.3h-4.7zM1284.9 1188.5h2.3v2.3h-2.3zM1366.5 892.1h4.7v2.3h-4.7zM491.5 917.8h4.7v4.7h-4.7zM937.2 1162.8h2.3v4.7h-2.3zM1851.9 1153.5h2.3v2.3h-2.3zM1893.9 1139.5h2.3v2.3h-2.3zM386.5 868.8h4.7v2.3h-4.7zM1163.5 1155.8h2.3v4.7h-2.3zM1434.2 1158.1h4.7v2.3h-4.7zM552.2 945.8h2.3v2.3h-2.3zM1826.2 892.1h4.7v4.7h-4.7zM358.5 941.1h2.3v2.3h-2.3zM379.5 901.5h4.7v2.3h-4.7zM1081.9 892.1h2.3v2.3h-2.3zM911.5 868.8h2.3v2.3h-2.3zM258.2 943.5h4.7v2.3h-4.7zM811.2 896.8h2.3v4.7h-2.3zM528.9 882.8h2.3v4.7h-2.3zM778.5 938.8h2.3v2.3h-2.3zM981.5 1204.8h4.7v4.7h-4.7zM1655.9 1214.1h4.7v4.7h-4.7zM1522.9 924.8h2.3v2.3h-2.3zM1056.2 920.1h4.7v4.7h-4.7zM1655.9 899.1h4.7v4.7h-4.7zM556.9 915.5h4.7v4.7h-4.7zM692.2 906.1h2.3v2.3h-2.3zM1751.5 1200.1h4.7v2.3h-4.7zM843.9 1179.1h2.3v2.3h-2.3zM1942.9 882.8h2.3v2.3h-2.3zM1879.9 889.8h2.3v4.7h-2.3zM981.5 1165.1h2.3v4.7h-2.3zM1812.2 882.8h2.3v4.7h-2.3zM1865.9 1188.5h4.7v2.3h-4.7zM902.2 922.5h2.3v2.3h-2.3zM1294.2 1202.5h2.3v2.3h-2.3zM1056.2 1144.1h4.7v4.7h-4.7zM694.5 1144.1h2.3v2.3h-2.3zM1413.2 892.1h2.3v2.3h-2.3zM1298.9 1169.8h2.3v2.3h-2.3zM1781.9 892.1h2.3v2.3h-2.3zM395.9 922.5h2.3v2.3h-2.3zM1270.9 1151.1h2.3v4.7h-2.3zM535.9 875.8h2.3v4.7h-2.3zM1200.9 1216.5h2.3v2.3h-2.3zM694.5 1200.1h4.7v2.3h-4.7zM521.9 1162.8h4.7v2.3h-4.7zM1742.2 934.1h4.7v4.7h-4.7zM1618.5 927.1h2.3v4.7h-2.3zM825.2 910.8h4.7v2.3h-4.7zM540.5 903.8h4.7v4.7h-4.7zM1688.5 908.5h2.3v2.3h-2.3zM757.5 1160.5h2.3v2.3h-2.3zM286.2 941.1h2.3v2.3h-2.3zM1812.2 1155.8h4.7v2.3h-4.7zM1151.9 908.5h4.7v2.3h-4.7zM892.9 1200.1h2.3v2.3h-2.3zM281.5 894.5h2.3v2.3h-2.3zM1681.5 885.1h2.3v4.7h-2.3zM1175.2 885.1h2.3v2.3h-2.3zM1301.2 924.8h2.3v4.7h-2.3zM255.9 943.5h2.3v2.3h-2.3zM1130.9 915.5h4.7v2.3h-4.7zM941.9 1176.8h4.7v2.3h-4.7zM489.2 1144.1h2.3v4.7h-2.3zM750.5 878.1h2.3v2.3h-2.3zM1688.5 1158.1h2.3v4.7h-2.3zM1133.2 920.1h4.7v4.7h-4.7zM1032.9 922.5h2.3v2.3h-2.3zM636.2 1137.1h2.3v2.3h-2.3zM1210.2 936.5h4.7v2.3h-4.7zM1837.9 1165.1h2.3v2.3h-2.3zM661.9 1148.8h2.3v4.7h-2.3zM388.9 920.1h2.3v4.7h-2.3zM1210.2 908.5h2.3v2.3h-2.3zM1543.9 945.8h2.3v4.7h-2.3zM694.5 1202.5h4.7v2.3h-4.7zM1926.5 896.8h2.3v2.3h-2.3zM1564.9 892.1h4.7v4.7h-4.7zM514.9 927.1h2.3v4.7h-2.3zM729.5 894.5h4.7v2.3h-4.7zM1604.5 887.5h2.3v2.3h-2.3zM1322.2 882.8h4.7v2.3h-4.7zM442.5 901.5h4.7v4.7h-4.7zM603.5 1202.5h2.3v2.3h-2.3zM1494.9 950.5h2.3v2.3h-2.3zM458.9 1179.1h2.3v2.3h-2.3zM1000.2 1183.8h2.3v2.3h-2.3zM1140.2 875.8h2.3v4.7h-2.3zM538.2 936.5h2.3v4.7h-2.3zM916.2 1211.8h2.3v2.3h-2.3zM1301.2 1181.5h2.3v2.3h-2.3zM934.9 924.8h4.7v4.7h-4.7zM1406.2 917.8h4.7v2.3h-4.7zM1149.5 1202.5h2.3v2.3h-2.3zM897.5 938.8h2.3v2.3h-2.3zM358.5 943.5h2.3v2.3h-2.3zM1352.5 1176.8h2.3v4.7h-2.3zM1940.5 1167.5h2.3v2.3h-2.3zM1436.5 1146.5h2.3v2.3h-2.3zM689.9 1214.1h2.3v2.3h-2.3zM1812.2 922.5h2.3v2.3h-2.3zM909.2 1188.5h2.3v2.3h-2.3zM1149.5 924.8h2.3v2.3h-2.3zM857.9 903.8h4.7v4.7h-4.7zM1746.9 892.1h2.3v2.3h-2.3zM1856.5 885.1h4.7v2.3h-4.7zM1366.5 1204.8h4.7v2.3h-4.7zM701.5 938.8h2.3v4.7h-2.3zM605.9 1153.5h2.3v2.3h-2.3zM913.9 943.5h4.7v4.7h-4.7zM703.9 910.8h4.7v2.3h-4.7zM1301.2 1204.8h2.3v2.3h-2.3zM1310.5 875.8h4.7v4.7h-4.7zM493.9 1153.5h2.3v4.7h-2.3zM1669.9 873.5h2.3v4.7h-2.3zM1079.5 1144.1h2.3v4.7h-2.3zM626.9 1146.5h4.7v4.7h-4.7zM491.5 880.5h2.3v2.3h-2.3zM843.9 943.5h2.3v2.3h-2.3zM878.9 1148.8h2.3v2.3h-2.3zM1352.5 920.1h4.7v2.3h-4.7zM521.9 878.1h2.3v2.3h-2.3zM507.9 1193.1h2.3v2.3h-2.3zM750.5 1137.1h2.3v2.3h-2.3zM1807.5 1153.5h2.3v2.3h-2.3zM1728.2 1190.8h4.7v4.7h-4.7zM1387.5 1148.8h2.3v2.3h-2.3zM755.2 903.8h2.3v4.7h-2.3zM834.5 943.5h2.3v2.3h-2.3zM272.2 929.5h2.3v4.7h-2.3zM626.9 910.8h2.3v2.3h-2.3zM1287.2 938.8h2.3v4.7h-2.3zM255.9 1137.1h2.3v4.7h-2.3zM1025.9 922.5h2.3v2.3h-2.3zM1851.9 927.1h2.3v2.3h-2.3zM1553.2 941.1h4.7v4.7h-4.7zM412.2 1137.1h4.7v2.3h-4.7zM1933.5 899.1h4.7v4.7h-4.7zM1240.5 941.1h2.3v2.3h-2.3zM1413.2 1167.5h2.3v2.3h-2.3zM1158.9 924.8h4.7v4.7h-4.7zM1154.2 1176.8h4.7v2.3h-4.7zM512.5 896.8h2.3v2.3h-2.3zM617.5 1167.5h4.7v2.3h-4.7zM1114.5 901.5h2.3v2.3h-2.3zM605.9 1209.5h2.3v2.3h-2.3zM1590.5 915.5h2.3v4.7h-2.3zM1312.9 1209.5h2.3v4.7h-2.3zM400.5 873.5h2.3v2.3h-2.3zM969.9 882.8h2.3v2.3h-2.3zM1380.5 950.5h2.3v4.7h-2.3zM780.9 882.8h4.7v2.3h-4.7zM1693.2 938.8h2.3v2.3h-2.3zM850.9 924.8h2.3v4.7h-2.3zM482.2 1160.5h2.3v2.3h-2.3zM489.2 1139.5h4.7v2.3h-4.7zM1653.5 1190.8h2.3v2.3h-2.3zM1623.2 1137.1h2.3v4.7h-2.3zM1028.2 1181.5h4.7v4.7h-4.7zM1466.9 943.5h4.7v2.3h-4.7zM1063.2 920.1h2.3v4.7h-2.3zM1452.9 1195.5h2.3v2.3h-2.3zM1235.9 1183.8h4.7v2.3h-4.7zM1287.2 1155.8h4.7v2.3h-4.7zM573.2 882.8h4.7v2.3h-4.7zM440.2 1207.1h2.3v2.3h-2.3zM869.5 917.8h2.3v4.7h-2.3zM1805.2 924.8h2.3v2.3h-2.3zM1387.5 1137.1h2.3v2.3h-2.3zM1184.5 1151.1h4.7v4.7h-4.7zM1592.9 1167.5h4.7v2.3h-4.7zM1480.9 1151.1h2.3v4.7h-2.3zM1056.2 1137.1h2.3v2.3h-2.3zM1882.2 892.1h2.3v2.3h-2.3zM890.5 1174.5h2.3v4.7h-2.3zM1130.9 880.5h4.7v2.3h-4.7zM657.2 938.8h4.7v4.7h-4.7zM757.5 1162.8h2.3v4.7h-2.3zM619.9 892.1h2.3v2.3h-2.3zM939.5 1141.8h2.3v2.3h-2.3zM279.2 1153.5h2.3v2.3h-2.3zM1303.5 1200.1h2.3v2.3h-2.3zM1212.5 1153.5h4.7v2.3h-4.7zM1354.9 1183.8h4.7v2.3h-4.7zM839.2 1158.1h2.3v2.3h-2.3zM1620.9 878.1h2.3v4.7h-2.3zM300.2 1179.1h2.3v2.3h-2.3zM1539.2 1155.8h2.3v2.3h-2.3zM706.2 892.1h4.7v4.7h-4.7zM1751.5 1183.8h2.3v2.3h-2.3zM1604.5 1139.5h4.7v2.3h-4.7zM1462.2 948.1h2.3v4.7h-2.3zM1793.5 1188.5h2.3v4.7h-2.3zM1315.2 1172.1h4.7v2.3h-4.7zM512.5 882.8h2.3v4.7h-2.3zM1884.5 934.1h2.3v2.3h-2.3zM1844.9 1151.1h2.3v4.7h-2.3zM1315.2 1200.1h4.7v2.3h-4.7zM388.9 913.1h2.3v2.3h-2.3zM323.5 878.1h4.7v2.3h-4.7zM1455.2 915.5h2.3v2.3h-2.3zM1651.2 1153.5h2.3v4.7h-2.3zM1424.9 1167.5h4.7v4.7h-4.7zM272.2 1137.1h2.3v2.3h-2.3zM778.5 1216.5h2.3v2.3h-2.3zM381.9 1204.8h2.3v4.7h-2.3zM1427.2 1204.8h4.7v2.3h-4.7zM1637.2 1134.8h2.3v4.7h-2.3zM874.2 1186.1h2.3v2.3h-2.3zM1546.2 1144.1h2.3v2.3h-2.3zM1823.9 908.5h2.3v4.7h-2.3zM1679.2 941.1h4.7v2.3h-4.7zM976.9 901.5h2.3v4.7h-2.3zM1674.5 1190.8h2.3v2.3h-2.3zM841.5 1181.5h2.3v2.3h-2.3zM958.2 922.5h4.7v2.3h-4.7zM1604.5 1209.5h4.7v4.7h-4.7zM318.9 1172.1h4.7v4.7h-4.7zM1637.2 899.1h2.3v2.3h-2.3zM1765.5 892.1h4.7v2.3h-4.7zM603.5 1193.1h4.7v2.3h-4.7zM834.5 875.8h2.3v2.3h-2.3zM818.2 1204.8h4.7v4.7h-4.7zM1513.5 1186.1h2.3v2.3h-2.3zM841.5 1176.8h2.3v2.3h-2.3zM617.5 1148.8h4.7v2.3h-4.7zM1135.5 906.1h2.3v2.3h-2.3zM542.9 880.5h2.3v2.3h-2.3zM1557.9 922.5h2.3v2.3h-2.3zM1156.5 873.5h4.7v4.7h-4.7zM346.9 880.5h2.3v4.7h-2.3zM591.9 1202.5h2.3v2.3h-2.3zM617.5 1153.5h2.3v2.3h-2.3zM867.2 875.8h2.3v2.3h-2.3zM1763.2 1216.5h2.3v2.3h-2.3zM1000.2 1190.8h4.7v4.7h-4.7zM1319.9 1202.5h4.7v4.7h-4.7zM687.5 899.1h2.3v2.3h-2.3zM829.9 894.5h2.3v2.3h-2.3zM981.5 924.8h2.3v4.7h-2.3zM923.2 1202.5h4.7v2.3h-4.7zM1308.2 943.5h2.3v2.3h-2.3zM636.2 943.5h2.3v2.3h-2.3zM1844.9 1141.8h2.3v2.3h-2.3zM1835.5 878.1h2.3v4.7h-2.3zM1324.5 948.1h2.3v2.3h-2.3zM827.5 1193.1h2.3v4.7h-2.3zM1114.5 878.1h2.3v2.3h-2.3zM1249.9 1158.1h2.3v2.3h-2.3zM1294.2 1172.1h2.3v4.7h-2.3zM1399.2 1165.1h2.3v2.3h-2.3zM1324.5 903.8h2.3v2.3h-2.3zM1431.9 1167.5h2.3v4.7h-2.3zM1924.2 908.5h2.3v2.3h-2.3zM1399.2 1204.8h2.3v2.3h-2.3zM1781.9 903.8h4.7v4.7h-4.7zM451.9 1188.5h2.3v2.3h-2.3zM1480.9 927.1h2.3v2.3h-2.3zM937.2 1186.1h4.7v2.3h-4.7zM664.2 1188.5h2.3v2.3h-2.3zM1945.2 927.1h4.7v2.3h-4.7zM1144.9 915.5h2.3v2.3h-2.3zM1231.2 892.1h4.7v4.7h-4.7zM470.5 896.8h2.3v2.3h-2.3zM1147.2 915.5h4.7v4.7h-4.7zM1889.2 1186.1h2.3v2.3h-2.3zM507.9 945.8h4.7v2.3h-4.7zM1644.2 1197.8h2.3v4.7h-2.3zM1088.9 1186.1h2.3v4.7h-2.3zM1662.9 1162.8h2.3v2.3h-2.3zM1429.5 1137.1h2.3v4.7h-2.3zM1471.5 896.8h2.3v2.3h-2.3zM1077.2 1200.1h2.3v2.3h-2.3zM1441.2 1172.1h4.7v2.3h-4.7zM1522.9 948.1h2.3v2.3h-2.3zM1844.9 894.5h2.3v2.3h-2.3zM1511.2 1165.1h2.3v4.7h-2.3zM1025.9 1153.5h2.3v2.3h-2.3zM1413.2 1137.1h4.7v2.3h-4.7zM1744.5 1165.1h2.3v2.3h-2.3zM694.5 1148.8h2.3v4.7h-2.3zM1079.5 901.5h4.7v2.3h-4.7zM1592.9 934.1h2.3v4.7h-2.3zM904.5 896.8h2.3v4.7h-2.3zM1049.2 1153.5h2.3v2.3h-2.3zM272.2 1190.8h2.3v4.7h-2.3zM1137.9 1176.8h4.7v4.7h-4.7zM776.2 1151.1h4.7v2.3h-4.7zM1590.5 1181.5h4.7v2.3h-4.7zM447.2 903.8h2.3v4.7h-2.3zM1553.2 1186.1h4.7v2.3h-4.7zM1438.9 915.5h4.7v4.7h-4.7zM1679.2 910.8h2.3v2.3h-2.3zM771.5 1174.5h2.3v4.7h-2.3zM869.5 1190.8h2.3v4.7h-2.3zM1308.2 927.1h2.3v4.7h-2.3zM689.9 868.8h2.3v2.3h-2.3zM302.5 927.1h4.7v2.3h-4.7zM1630.2 936.5h4.7v2.3h-4.7zM528.9 1197.8h2.3v2.3h-2.3zM974.5 1197.8h2.3v2.3h-2.3zM1784.2 1211.8h2.3v4.7h-2.3zM1870.5 1155.8h4.7v2.3h-4.7zM780.9 1153.5h2.3v2.3h-2.3zM878.9 1137.1h4.7v2.3h-4.7zM923.2 908.5h2.3v2.3h-2.3zM757.5 1144.1h2.3v2.3h-2.3zM535.9 915.5h2.3v4.7h-2.3zM1315.2 1160.5h4.7v4.7h-4.7zM351.5 1169.8h4.7v2.3h-4.7zM1592.9 910.8h2.3v2.3h-2.3zM834.5 1186.1h2.3v2.3h-2.3zM841.5 948.1h4.7v4.7h-4.7zM818.2 906.1h2.3v2.3h-2.3zM1441.2 1190.8h2.3v4.7h-2.3zM1746.9 915.5h2.3v2.3h-2.3zM358.5 1137.1h2.3v2.3h-2.3zM531.2 1146.5h4.7v2.3h-4.7zM1758.5 908.5h2.3v2.3h-2.3zM552.2 1153.5h2.3v2.3h-2.3zM437.9 1162.8h2.3v2.3h-2.3zM1072.5 871.1h2.3v2.3h-2.3zM724.9 894.5h2.3v4.7h-2.3zM785.5 922.5h2.3v2.3h-2.3zM706.2 1165.1h2.3v2.3h-2.3zM498.5 927.1h4.7v2.3h-4.7zM1354.9 1158.1h2.3v2.3h-2.3zM1553.2 934.1h2.3v2.3h-2.3zM738.9 1190.8h2.3v2.3h-2.3zM402.9 906.1h4.7v2.3h-4.7zM1697.9 950.5h2.3v2.3h-2.3zM1672.2 1158.1h2.3v2.3h-2.3zM1602.2 1179.1h2.3v2.3h-2.3zM1352.5 889.8h2.3v2.3h-2.3zM601.2 875.8h4.7v4.7h-4.7zM1644.2 1146.5h2.3v2.3h-2.3zM258.2 1169.8h2.3v4.7h-2.3zM498.5 1214.1h4.7v2.3h-4.7zM1217.2 910.8h2.3v2.3h-2.3zM596.5 1200.1h2.3v4.7h-2.3zM1254.5 1155.8h2.3v2.3h-2.3zM1347.9 1181.5h4.7v4.7h-4.7zM1473.9 868.8h2.3v2.3h-2.3zM288.5 922.5h2.3v2.3h-2.3zM545.2 915.5h2.3v2.3h-2.3zM1392.2 1207.1h4.7v4.7h-4.7zM755.2 1160.5h4.7v4.7h-4.7zM743.5 903.8h4.7v2.3h-4.7zM1373.5 948.1h4.7v2.3h-4.7zM1049.2 889.8h2.3v2.3h-2.3zM531.2 1188.5h4.7v4.7h-4.7zM1592.9 873.5h4.7v2.3h-4.7zM1816.9 1183.8h2.3v4.7h-2.3zM1256.9 938.8h2.3v4.7h-2.3zM1256.9 915.5h4.7v4.7h-4.7zM1114.5 1146.5h2.3v2.3h-2.3zM960.5 913.1h2.3v4.7h-2.3zM521.9 1176.8h2.3v4.7h-2.3zM535.9 1137.1h4.7v2.3h-4.7zM610.5 873.5h2.3v2.3h-2.3zM1858.9 1209.5h2.3v4.7h-2.3zM825.2 1155.8h4.7v2.3h-4.7zM1310.5 1144.1h2.3v2.3h-2.3zM524.2 1183.8h4.7v4.7h-4.7zM1347.9 871.1h2.3v4.7h-2.3zM764.5 889.8h2.3v4.7h-2.3zM1634.9 1200.1h4.7v2.3h-4.7zM489.2 915.5h2.3v4.7h-2.3zM540.5 913.1h2.3v4.7h-2.3zM1025.9 913.1h2.3v4.7h-2.3zM1487.9 1214.1h4.7v2.3h-4.7zM1032.9 941.1h2.3v4.7h-2.3zM668.9 1204.8h2.3v2.3h-2.3zM1018.9 936.5h2.3v4.7h-2.3zM1728.2 875.8h4.7v2.3h-4.7zM857.9 1172.1h4.7v2.3h-4.7zM951.2 1193.1h2.3v4.7h-2.3zM645.5 913.1h2.3v4.7h-2.3zM1044.5 917.8h2.3v2.3h-2.3zM1385.2 1146.5h2.3v2.3h-2.3zM1266.2 1148.8h4.7v2.3h-4.7zM1879.9 920.1h2.3v2.3h-2.3zM556.9 1216.5h2.3v4.7h-2.3zM1508.9 938.8h4.7v2.3h-4.7zM1877.5 1134.8h4.7v4.7h-4.7zM1284.9 945.8h2.3v2.3h-2.3zM755.2 882.8h4.7v2.3h-4.7zM1030.5 868.8h2.3v2.3h-2.3zM1868.2 892.1h4.7v4.7h-4.7zM1821.5 903.8h2.3v2.3h-2.3zM1602.2 1207.1h2.3v4.7h-2.3zM1648.9 1151.1h2.3v4.7h-2.3zM1065.5 1139.5h2.3v2.3h-2.3zM531.2 1188.5h2.3v4.7h-2.3zM960.5 889.8h4.7v4.7h-4.7zM1947.5 1158.1h2.3v4.7h-2.3zM456.5 868.8h2.3v2.3h-2.3zM1714.2 1162.8h2.3v4.7h-2.3zM1291.9 1211.8h2.3v4.7h-2.3zM643.2 1148.8h2.3v4.7h-2.3zM666.5 929.5h4.7v4.7h-4.7zM1387.5 903.8h4.7v2.3h-4.7zM1637.2 1148.8h2.3v2.3h-2.3zM293.2 1204.8h2.3v4.7h-2.3zM393.5 938.8h2.3v4.7h-2.3zM510.2 885.1h2.3v4.7h-2.3zM622.2 1160.5h2.3v2.3h-2.3zM643.2 1167.5h2.3v2.3h-2.3zM1170.5 903.8h4.7v2.3h-4.7zM1214.9 1200.1h2.3v4.7h-2.3zM1037.5 1207.1h2.3v4.7h-2.3zM1574.2 903.8h4.7v2.3h-4.7zM612.9 1160.5h2.3v2.3h-2.3zM1536.9 941.1h4.7v2.3h-4.7zM871.9 1139.5h4.7v2.3h-4.7zM1905.5 920.1h2.3v4.7h-2.3zM617.5 1172.1h2.3v2.3h-2.3zM976.9 1193.1h2.3v4.7h-2.3zM1002.5 922.5h4.7v4.7h-4.7zM1214.9 1197.8h4.7v4.7h-4.7zM1116.9 1158.1h2.3v2.3h-2.3zM1751.5 892.1h4.7v2.3h-4.7zM344.5 882.8h4.7v2.3h-4.7zM1574.2 915.5h4.7v4.7h-4.7zM465.9 873.5h2.3v4.7h-2.3zM582.5 1188.5h4.7v2.3h-4.7zM818.2 931.8h4.7v2.3h-4.7zM615.2 1179.1h2.3v2.3h-2.3zM1511.2 1214.1h2.3v2.3h-2.3zM804.2 1160.5h4.7v2.3h-4.7zM332.9 1169.8h2.3v4.7h-2.3zM1739.9 1146.5h4.7v4.7h-4.7zM1513.5 1214.1h2.3v4.7h-2.3zM1935.9 1181.5h4.7v2.3h-4.7zM272.2 1174.5h2.3v2.3h-2.3zM1604.5 896.8h2.3v2.3h-2.3zM1371.2 943.5h2.3v2.3h-2.3zM806.5 1188.5h4.7v2.3h-4.7zM1312.9 1183.8h4.7v4.7h-4.7zM1539.2 1174.5h4.7v2.3h-4.7zM1280.2 915.5h4.7v2.3h-4.7zM552.2 1211.8h4.7v2.3h-4.7zM820.5 931.8h2.3v2.3h-2.3zM1207.9 1158.1h2.3v4.7h-2.3zM1249.9 1211.8h4.7v2.3h-4.7zM1676.9 1197.8h4.7v4.7h-4.7zM1758.5 910.8h2.3v2.3h-2.3zM1207.9 943.5h4.7v2.3h-4.7zM694.5 880.5h2.3v2.3h-2.3zM801.9 1165.1h4.7v4.7h-4.7zM514.9 1134.8h2.3v2.3h-2.3zM1175.2 871.1h2.3v2.3h-2.3zM1037.5 1146.5h2.3v4.7h-2.3zM400.5 1179.1h4.7v2.3h-4.7zM776.2 950.5h2.3v2.3h-2.3zM1527.5 1214.1h2.3v4.7h-2.3zM311.9 871.1h2.3v4.7h-2.3zM1590.5 1141.8h4.7v4.7h-4.7zM1163.5 1209.5h2.3v2.3h-2.3zM1245.2 871.1h2.3v2.3h-2.3zM1128.5 901.5h2.3v4.7h-2.3zM1942.9 1141.8h2.3v2.3h-2.3zM1522.9 1162.8h2.3v2.3h-2.3zM1345.5 1200.1h2.3v4.7h-2.3zM1522.9 1211.8h2.3v4.7h-2.3zM1382.9 1167.5h4.7v4.7h-4.7zM724.9 880.5h2.3v4.7h-2.3zM1532.2 938.8h2.3v2.3h-2.3zM692.2 1169.8h4.7v2.3h-4.7zM1275.5 950.5h2.3v4.7h-2.3zM1550.9 941.1h2.3v4.7h-2.3zM1872.9 892.1h2.3v4.7h-2.3zM1121.5 1137.1h2.3v2.3h-2.3zM815.9 901.5h2.3v2.3h-2.3zM428.5 941.1h2.3v2.3h-2.3zM1298.9 924.8h2.3v2.3h-2.3zM638.5 1174.5h2.3v2.3h-2.3zM1158.9 1148.8h2.3v4.7h-2.3zM1749.2 913.1h2.3v2.3h-2.3zM426.2 894.5h2.3v2.3h-2.3zM449.5 1174.5h2.3v2.3h-2.3zM1889.2 899.1h2.3v2.3h-2.3zM694.5 1158.1h2.3v4.7h-2.3zM1581.2 922.5h2.3v4.7h-2.3zM1756.2 929.5h4.7v2.3h-4.7zM1452.9 1169.8h4.7v2.3h-4.7zM736.5 922.5h2.3v2.3h-2.3zM419.2 1144.1h2.3v4.7h-2.3zM1354.9 1134.8h2.3v4.7h-2.3zM337.5 1151.1h4.7v4.7h-4.7zM552.2 887.5h2.3v2.3h-2.3zM1028.2 920.1h4.7v2.3h-4.7zM1543.9 1151.1h2.3v2.3h-2.3zM1016.5 948.1h2.3v2.3h-2.3zM1707.2 948.1h2.3v4.7h-2.3zM1256.9 1165.1h2.3v4.7h-2.3zM1737.5 1146.5h2.3v2.3h-2.3zM1858.9 1160.5h2.3v4.7h-2.3zM1368.9 927.1h2.3v2.3h-2.3zM412.2 875.8h2.3v4.7h-2.3zM1247.5 885.1h2.3v2.3h-2.3zM538.2 1134.8h2.3v4.7h-2.3zM1753.9 917.8h2.3v2.3h-2.3zM1889.2 1186.1h4.7v4.7h-4.7zM1240.5 868.8h4.7v4.7h-4.7zM269.9 936.5h2.3v2.3h-2.3zM666.5 1216.5h2.3v2.3h-2.3zM1077.2 1190.8h4.7v2.3h-4.7zM724.9 1176.8h2.3v2.3h-2.3zM1238.2 889.8h4.7v2.3h-4.7zM988.5 880.5h4.7v2.3h-4.7zM1620.9 917.8h4.7v2.3h-4.7zM433.2 943.5h2.3v4.7h-2.3zM545.2 1139.5h4.7v2.3h-4.7zM1907.9 934.1h4.7v2.3h-4.7zM1730.5 899.1h2.3v2.3h-2.3zM820.5 1162.8h4.7v2.3h-4.7zM1760.9 1211.8h2.3v2.3h-2.3zM881.2 1139.5h2.3v2.3h-2.3zM1541.5 910.8h4.7v4.7h-4.7zM1772.5 1188.5h4.7v4.7h-4.7zM552.2 941.1h2.3v4.7h-2.3zM1821.5 880.5h2.3v2.3h-2.3zM633.9 906.1h2.3v2.3h-2.3zM741.2 1134.8h2.3v4.7h-2.3zM832.2 1146.5h2.3v2.3h-2.3zM1030.5 1146.5h4.7v2.3h-4.7zM1669.9 1188.5h4.7v2.3h-4.7zM442.5 1172.1h2.3v2.3h-2.3zM575.5 873.5h2.3v4.7h-2.3zM531.2 924.8h4.7v4.7h-4.7zM1858.9 899.1h4.7v2.3h-4.7zM1518.2 896.8h2.3v4.7h-2.3zM960.5 878.1h2.3v2.3h-2.3zM1310.5 1144.1h4.7v2.3h-4.7zM913.9 929.5h4.7v2.3h-4.7zM1858.9 1153.5h2.3v2.3h-2.3zM489.2 1200.1h2.3v2.3h-2.3zM575.5 1146.5h4.7v4.7h-4.7zM589.5 910.8h2.3v2.3h-2.3zM827.5 938.8h2.3v2.3h-2.3zM1086.5 1188.5h2.3v2.3h-2.3zM402.9 948.1h2.3v4.7h-2.3zM1602.2 941.1h2.3v2.3h-2.3zM1658.2 1179.1h2.3v2.3h-2.3zM1196.2 1181.5h4.7v2.3h-4.7zM1877.5 871.1h2.3v2.3h-2.3zM643.2 1172.1h2.3v2.3h-2.3zM1371.2 889.8h2.3v2.3h-2.3zM1270.9 1193.1h4.7v2.3h-4.7zM1294.2 1193.1h2.3v4.7h-2.3zM353.9 1176.8h4.7v2.3h-4.7zM1812.2 1148.8h2.3v2.3h-2.3zM500.9 1174.5h2.3v2.3h-2.3zM1298.9 1214.1h2.3v4.7h-2.3zM911.5 1167.5h2.3v2.3h-2.3zM293.2 871.1h2.3v2.3h-2.3zM1091.2 1160.5h2.3v2.3h-2.3zM1695.5 938.8h2.3v2.3h-2.3zM787.9 1162.8h2.3v4.7h-2.3zM1298.9 896.8h4.7v2.3h-4.7zM1049.2 889.8h2.3v4.7h-2.3zM1641.9 875.8h2.3v2.3h-2.3zM1245.2 1158.1h4.7v2.3h-4.7zM731.9 1176.8h2.3v2.3h-2.3zM1408.5 1148.8h4.7v4.7h-4.7zM526.5 910.8h2.3v2.3h-2.3zM1457.5 1200.1h2.3v2.3h-2.3zM1102.9 1202.5h2.3v2.3h-2.3zM1392.2 1155.8h2.3v2.3h-2.3zM552.2 882.8h4.7v2.3h-4.7zM1620.9 1207.1h2.3v2.3h-2.3zM1396.9 1174.5h2.3v2.3h-2.3zM878.9 908.5h4.7v2.3h-4.7zM503.2 1183.8h2.3v2.3h-2.3zM1770.2 875.8h4.7v2.3h-4.7zM1721.2 1146.5h2.3v2.3h-2.3zM750.5 1160.5h2.3v2.3h-2.3zM1357.2 931.8h2.3v2.3h-2.3zM622.2 1200.1h2.3v2.3h-2.3zM839.2 875.8h2.3v2.3h-2.3zM500.9 1172.1h4.7v2.3h-4.7zM682.9 938.8h2.3v2.3h-2.3zM1709.5 1141.8h2.3v2.3h-2.3zM633.9 889.8h2.3v2.3h-2.3zM811.2 924.8h4.7v2.3h-4.7zM1177.5 1141.8h4.7v2.3h-4.7zM1483.2 906.1h2.3v2.3h-2.3zM1634.9 1204.8h2.3v2.3h-2.3zM1900.9 941.1h2.3v2.3h-2.3zM374.9 929.5h4.7v4.7h-4.7zM363.2 1207.1h2.3v4.7h-2.3zM1380.5 901.5h2.3v2.3h-2.3zM766.9 950.5h2.3v4.7h-2.3zM1898.5 871.1h2.3v2.3h-2.3zM876.5 1151.1h2.3v2.3h-2.3zM1053.9 903.8h4.7v2.3h-4.7zM682.9 899.1h4.7v4.7h-4.7zM337.5 941.1h2.3v4.7h-2.3zM367.9 889.8h2.3v2.3h-2.3zM1154.2 1165.1h2.3v4.7h-2.3zM820.5 903.8h2.3v2.3h-2.3zM1870.5 1172.1h2.3v4.7h-2.3zM1774.9 1148.8h4.7v2.3h-4.7zM1641.9 1134.8h2.3v2.3h-2.3zM1462.2 1160.5h4.7v2.3h-4.7zM1366.5 927.1h2.3v2.3h-2.3zM1469.2 906.1h2.3v2.3h-2.3zM1443.5 920.1h2.3v2.3h-2.3zM969.9 1155.8h2.3v4.7h-2.3zM1758.5 948.1h4.7v2.3h-4.7zM1056.2 1155.8h2.3v2.3h-2.3zM1154.2 1153.5h2.3v4.7h-2.3zM1350.2 941.1h4.7v2.3h-4.7zM325.9 1188.5h4.7v2.3h-4.7zM1408.5 1174.5h4.7v2.3h-4.7zM923.2 913.1h2.3v2.3h-2.3zM255.9 1165.1h2.3v2.3h-2.3zM1739.9 908.5h2.3v2.3h-2.3zM846.2 943.5h2.3v2.3h-2.3zM1924.2 1183.8h4.7v4.7h-4.7zM1445.9 948.1h2.3v4.7h-2.3zM293.2 945.8h2.3v4.7h-2.3zM463.5 934.1h4.7v2.3h-4.7zM892.9 1214.1h2.3v2.3h-2.3zM1861.2 936.5h4.7v4.7h-4.7zM1107.5 941.1h4.7v4.7h-4.7zM1303.5 899.1h2.3v2.3h-2.3zM1042.2 875.8h4.7v2.3h-4.7zM1819.2 875.8h2.3v2.3h-2.3zM1639.5 1211.8h2.3v2.3h-2.3zM1016.5 885.1h4.7v4.7h-4.7zM591.9 1179.1h2.3v4.7h-2.3zM965.2 913.1h2.3v2.3h-2.3zM983.9 936.5h2.3v2.3h-2.3zM1119.2 1139.5h2.3v2.3h-2.3zM391.2 1207.1h4.7v2.3h-4.7zM503.2 943.5h2.3v2.3h-2.3zM365.5 1174.5h4.7v2.3h-4.7zM1497.2 943.5h2.3v2.3h-2.3zM1833.2 1158.1h2.3v4.7h-2.3zM1471.5 1174.5h2.3v4.7h-2.3zM1816.9 894.5h2.3v2.3h-2.3zM862.5 896.8h2.3v2.3h-2.3zM827.5 1172.1h2.3v4.7h-2.3zM629.2 1158.1h4.7v2.3h-4.7zM857.9 915.5h2.3v4.7h-2.3zM433.2 1174.5h4.7v4.7h-4.7zM1324.5 945.8h2.3v4.7h-2.3zM598.9 908.5h2.3v2.3h-2.3zM1851.9 922.5h4.7v4.7h-4.7zM1060.9 1183.8h2.3v2.3h-2.3zM486.9 1158.1h4.7v4.7h-4.7zM542.9 1197.8h2.3v2.3h-2.3zM374.9 945.8h4.7v4.7h-4.7zM759.9 1216.5h2.3v4.7h-2.3zM1133.2 1209.5h2.3v2.3h-2.3zM269.9 910.8h2.3v4.7h-2.3zM1119.2 1216.5h2.3v2.3h-2.3zM1627.9 945.8h4.7v4.7h-4.7zM1487.9 938.8h2.3v2.3h-2.3zM1095.9 906.1h4.7v4.7h-4.7zM1583.5 878.1h2.3v2.3h-2.3zM1399.2 927.1h4.7v2.3h-4.7zM374.9 913.1h4.7v2.3h-4.7zM1632.5 920.1h2.3v2.3h-2.3zM414.5 899.1h2.3v4.7h-2.3zM1350.2 1188.5h4.7v2.3h-4.7zM587.2 938.8h4.7v2.3h-4.7zM1219.5 1137.1h2.3v2.3h-2.3zM1933.5 868.8h4.7v2.3h-4.7zM871.9 1144.1h2.3v2.3h-2.3zM1249.9 1167.5h4.7v2.3h-4.7zM395.9 892.1h4.7v2.3h-4.7zM713.2 1137.1h4.7v2.3h-4.7zM682.9 1211.8h2.3v2.3h-2.3zM1532.2 927.1h4.7v2.3h-4.7zM1233.5 1158.1h2.3v4.7h-2.3zM1581.2 1193.1h4.7v2.3h-4.7zM1256.9 927.1h2.3v2.3h-2.3zM1084.2 899.1h4.7v2.3h-4.7zM808.9 885.1h2.3v2.3h-2.3zM594.2 1141.8h2.3v4.7h-2.3zM1429.5 1207.1h4.7v4.7h-4.7zM1303.5 880.5h2.3v2.3h-2.3zM528.9 943.5h2.3v2.3h-2.3zM993.2 1216.5h2.3v2.3h-2.3zM750.5 945.8h4.7v2.3h-4.7zM1144.9 1214.1h2.3v2.3h-2.3zM559.2 868.8h2.3v4.7h-2.3zM892.9 1169.8h2.3v4.7h-2.3zM598.9 1158.1h2.3v2.3h-2.3zM1273.2 1202.5h4.7v2.3h-4.7zM349.2 934.1h4.7v2.3h-4.7zM1576.5 1139.5h2.3v2.3h-2.3zM1499.5 920.1h4.7v2.3h-4.7zM713.2 931.8h4.7v2.3h-4.7zM325.9 868.8h4.7v2.3h-4.7zM1107.5 908.5h2.3v2.3h-2.3zM1931.2 915.5h4.7v4.7h-4.7zM353.9 1207.1h4.7v2.3h-4.7zM356.2 1211.8h4.7v2.3h-4.7zM1690.9 903.8h2.3v4.7h-2.3zM330.5 889.8h2.3v4.7h-2.3zM1457.5 917.8h2.3v2.3h-2.3zM1812.2 868.8h4.7v2.3h-4.7zM1497.2 950.5h2.3v2.3h-2.3zM762.2 1141.8h2.3v2.3h-2.3zM428.5 1153.5h4.7v2.3h-4.7zM664.2 1190.8h4.7v2.3h-4.7zM1949.9 1214.1h2.3v2.3h-2.3zM1882.2 917.8h4.7v4.7h-4.7zM1576.5 929.5h2.3v2.3h-2.3zM598.9 1179.1h2.3v4.7h-2.3zM1410.9 1211.8h2.3v2.3h-2.3zM1814.5 948.1h2.3v2.3h-2.3zM1359.5 906.1h2.3v2.3h-2.3zM337.5 943.5h2.3v4.7h-2.3zM1231.2 903.8h4.7v4.7h-4.7zM514.9 1172.1h2.3v2.3h-2.3zM1898.5 885.1h2.3v4.7h-2.3zM472.9 1165.1h2.3v4.7h-2.3zM470.5 920.1h2.3v2.3h-2.3zM1396.9 880.5h2.3v2.3h-2.3zM1051.5 913.1h2.3v2.3h-2.3zM1186.9 915.5h2.3v2.3h-2.3zM1289.5 1165.1h4.7v4.7h-4.7zM1429.5 931.8h2.3v2.3h-2.3zM1553.2 1214.1h2.3v2.3h-2.3zM470.5 920.1h2.3v4.7h-2.3zM594.2 894.5h4.7v2.3h-4.7zM666.5 1151.1h2.3v4.7h-2.3zM806.5 941.1h4.7v2.3h-4.7zM1798.2 882.8h2.3v2.3h-2.3zM1564.9 875.8h4.7v4.7h-4.7zM687.5 1151.1h4.7v4.7h-4.7zM610.5 906.1h2.3v2.3h-2.3zM1366.5 887.5h2.3v2.3h-2.3zM1728.2 1155.8h2.3v4.7h-2.3zM1942.9 936.5h2.3v2.3h-2.3zM997.9 1209.5h4.7v2.3h-4.7zM559.2 943.5h4.7v2.3h-4.7zM636.2 887.5h2.3v4.7h-2.3zM545.2 920.1h2.3v4.7h-2.3zM1375.9 922.5h4.7v2.3h-4.7zM1427.2 936.5h2.3v2.3h-2.3zM1599.9 936.5h2.3v2.3h-2.3zM776.2 922.5h2.3v2.3h-2.3zM412.2 1181.5h2.3v2.3h-2.3zM1109.9 1176.8h4.7v2.3h-4.7zM1912.5 1183.8h4.7v2.3h-4.7zM584.9 924.8h2.3v2.3h-2.3zM1758.5 1193.1h2.3v2.3h-2.3zM1389.9 1181.5h2.3v4.7h-2.3zM622.2 1209.5h4.7v2.3h-4.7zM1415.5 936.5h2.3v4.7h-2.3zM1119.2 889.8h2.3v2.3h-2.3zM1574.2 871.1h4.7v4.7h-4.7zM519.5 1174.5h2.3v4.7h-2.3zM1578.9 1141.8h2.3v2.3h-2.3zM976.9 1193.1h2.3v2.3h-2.3zM419.2 1155.8h4.7v4.7h-4.7zM715.5 1167.5h2.3v4.7h-2.3zM650.2 1186.1h4.7v4.7h-4.7zM1536.9 871.1h2.3v2.3h-2.3zM1060.9 1190.8h4.7v4.7h-4.7zM1618.5 894.5h2.3v2.3h-2.3zM958.2 1151.1h2.3v2.3h-2.3zM435.5 1155.8h2.3v2.3h-2.3zM962.9 1207.1h2.3v4.7h-2.3zM1289.5 1179.1h4.7v4.7h-4.7zM1077.2 941.1h2.3v4.7h-2.3zM881.2 1144.1h2.3v4.7h-2.3zM1781.9 887.5h4.7v2.3h-4.7zM1508.9 889.8h2.3v2.3h-2.3zM1637.2 894.5h2.3v2.3h-2.3zM554.5 1202.5h2.3v4.7h-2.3zM673.5 943.5h2.3v2.3h-2.3zM283.9 941.1h4.7v2.3h-4.7zM885.9 922.5h4.7v2.3h-4.7zM1546.2 899.1h2.3v4.7h-2.3zM1688.5 1158.1h2.3v4.7h-2.3zM1256.9 1216.5h4.7v2.3h-4.7zM685.2 927.1h2.3v4.7h-2.3zM1100.5 941.1h2.3v4.7h-2.3zM1702.5 1162.8h2.3v4.7h-2.3zM1655.9 1158.1h2.3v2.3h-2.3zM1770.2 906.1h2.3v2.3h-2.3zM549.9 1137.1h4.7v2.3h-4.7zM937.2 1176.8h2.3v2.3h-2.3zM1450.5 901.5h2.3v4.7h-2.3zM1879.9 882.8h4.7v2.3h-4.7zM468.2 941.1h2.3v4.7h-2.3zM351.5 1204.8h4.7v4.7h-4.7zM967.5 882.8h2.3v2.3h-2.3zM360.9 871.1h2.3v2.3h-2.3zM1928.9 901.5h2.3v4.7h-2.3zM598.9 1190.8h2.3v2.3h-2.3zM1389.9 917.8h4.7v4.7h-4.7zM1900.9 945.8h4.7v4.7h-4.7zM745.9 1195.5h4.7v4.7h-4.7zM883.5 1153.5h2.3v2.3h-2.3zM262.9 1176.8h4.7v2.3h-4.7zM750.5 913.1h4.7v4.7h-4.7zM1343.2 908.5h2.3v4.7h-2.3zM1273.2 889.8h2.3v2.3h-2.3zM934.9 1153.5h2.3v2.3h-2.3zM834.5 1165.1h4.7v4.7h-4.7zM1007.2 887.5h2.3v2.3h-2.3zM1497.2 882.8h2.3v4.7h-2.3zM594.2 1202.5h2.3v2.3h-2.3zM1086.5 1172.1h4.7v2.3h-4.7zM1184.5 1148.8h2.3v2.3h-2.3zM267.5 934.1h2.3v2.3h-2.3zM1840.2 1174.5h4.7v4.7h-4.7zM1821.5 1153.5h2.3v4.7h-2.3zM267.5 1158.1h2.3v4.7h-2.3zM951.2 1155.8h2.3v2.3h-2.3zM253.5 906.1h2.3v2.3h-2.3zM927.9 1186.1h4.7v2.3h-4.7zM1728.2 887.5h2.3v4.7h-2.3zM626.9 929.5h2.3v2.3h-2.3zM1567.2 934.1h2.3v2.3h-2.3zM458.9 1146.5h2.3v2.3h-2.3zM1840.2 943.5h4.7v2.3h-4.7zM484.5 906.1h2.3v4.7h-2.3zM351.5 943.5h4.7v2.3h-4.7zM1462.2 920.1h4.7v2.3h-4.7zM1928.9 938.8h4.7v2.3h-4.7zM1662.9 1195.5h2.3v4.7h-2.3zM1884.5 934.1h2.3v2.3h-2.3zM1779.5 1193.1h2.3v2.3h-2.3zM1599.9 1207.1h2.3v4.7h-2.3zM1247.5 1197.8h2.3v2.3h-2.3zM699.2 1169.8h2.3v2.3h-2.3zM321.2 880.5h4.7v2.3h-4.7zM1872.9 1153.5h4.7v2.3h-4.7zM454.2 889.8h2.3v2.3h-2.3zM650.2 1188.5h2.3v2.3h-2.3zM323.5 917.8h2.3v4.7h-2.3zM598.9 882.8h2.3v4.7h-2.3zM1616.2 934.1h2.3v2.3h-2.3zM1935.9 1211.8h2.3v4.7h-2.3zM1207.9 924.8h2.3v2.3h-2.3zM1744.5 1179.1h2.3v2.3h-2.3zM1249.9 878.1h2.3v4.7h-2.3zM1665.2 896.8h4.7v2.3h-4.7zM1508.9 882.8h2.3v2.3h-2.3zM1249.9 892.1h4.7v2.3h-4.7zM1161.2 1195.5h2.3v2.3h-2.3zM1249.9 948.1h2.3v2.3h-2.3zM524.2 1181.5h2.3v4.7h-2.3zM822.9 908.5h2.3v4.7h-2.3zM713.2 1137.1h4.7v2.3h-4.7zM1140.2 901.5h2.3v2.3h-2.3zM1658.2 885.1h2.3v2.3h-2.3zM1539.2 1211.8h2.3v4.7h-2.3zM309.5 1155.8h2.3v2.3h-2.3zM1508.9 1139.5h2.3v2.3h-2.3zM1254.5 868.8h2.3v4.7h-2.3zM1625.5 1202.5h4.7v2.3h-4.7zM1161.2 892.1h2.3v2.3h-2.3zM1723.5 950.5h2.3v2.3h-2.3zM988.5 1211.8h2.3v2.3h-2.3zM468.2 871.1h4.7v2.3h-4.7zM1695.5 1204.8h2.3v2.3h-2.3zM701.5 1200.1h2.3v2.3h-2.3zM449.5 906.1h4.7v4.7h-4.7zM1891.5 1148.8h4.7v2.3h-4.7zM766.9 1151.1h2.3v4.7h-2.3zM1301.2 1214.1h4.7v2.3h-4.7zM808.9 903.8h2.3v2.3h-2.3zM1114.5 1181.5h4.7v2.3h-4.7zM1427.2 950.5h2.3v2.3h-2.3zM351.5 1188.5h2.3v2.3h-2.3zM1254.5 868.8h4.7v2.3h-4.7zM1252.2 906.1h4.7v2.3h-4.7zM722.5 1162.8h2.3v4.7h-2.3zM1060.9 906.1h2.3v4.7h-2.3zM1347.9 943.5h2.3v4.7h-2.3zM573.2 1165.1h4.7v2.3h-4.7zM794.9 931.8h2.3v2.3h-2.3zM1553.2 910.8h2.3v2.3h-2.3zM276.9 1167.5h2.3v2.3h-2.3zM710.9 1193.1h2.3v2.3h-2.3zM1016.5 1165.1h2.3v2.3h-2.3zM787.9 894.5h2.3v2.3h-2.3zM1770.2 1181.5h2.3v2.3h-2.3zM1914.9 1176.8h2.3v4.7h-2.3zM351.5 1151.1h2.3v2.3h-2.3zM671.2 885.1h2.3v2.3h-2.3zM1681.5 1137.1h2.3v2.3h-2.3zM990.9 1144.1h4.7v4.7h-4.7zM839.2 887.5h2.3v2.3h-2.3zM682.9 913.1h2.3v4.7h-2.3zM1623.2 943.5h2.3v2.3h-2.3zM1378.2 871.1h2.3v2.3h-2.3zM1912.5 1216.5h2.3v4.7h-2.3zM1364.2 906.1h2.3v4.7h-2.3zM260.5 878.1h2.3v2.3h-2.3zM1725.9 915.5h2.3v4.7h-2.3zM853.2 901.5h4.7v2.3h-4.7zM1058.5 1144.1h2.3v2.3h-2.3zM1534.5 896.8h4.7v4.7h-4.7zM818.2 901.5h2.3v2.3h-2.3zM437.9 1172.1h2.3v2.3h-2.3zM1585.9 929.5h2.3v2.3h-2.3zM1105.2 1155.8h4.7v2.3h-4.7zM799.5 1162.8h2.3v2.3h-2.3zM962.9 934.1h2.3v4.7h-2.3zM909.2 922.5h2.3v4.7h-2.3zM1942.9 1188.5h4.7v2.3h-4.7zM1420.2 915.5h2.3v4.7h-2.3zM1151.9 906.1h2.3v2.3h-2.3zM393.5 917.8h2.3v2.3h-2.3zM587.2 871.1h2.3v4.7h-2.3zM897.5 931.8h4.7v2.3h-4.7zM258.2 1137.1h4.7v2.3h-4.7zM1205.5 1179.1h4.7v2.3h-4.7zM1879.9 1144.1h2.3v2.3h-2.3zM890.5 1200.1h4.7v4.7h-4.7zM1184.5 906.1h4.7v2.3h-4.7zM1016.5 892.1h2.3v4.7h-2.3zM1697.9 1167.5h4.7v4.7h-4.7zM286.2 1148.8h4.7v2.3h-4.7zM1161.2 1197.8h2.3v2.3h-2.3zM1723.5 1146.5h2.3v4.7h-2.3zM475.2 915.5h2.3v2.3h-2.3zM1170.5 927.1h2.3v4.7h-2.3zM1347.9 1137.1h2.3v4.7h-2.3zM1056.2 936.5h2.3v2.3h-2.3zM897.5 1190.8h4.7v2.3h-4.7zM911.5 915.5h4.7v2.3h-4.7zM1534.5 1211.8h2.3v4.7h-2.3zM300.2 910.8h4.7v2.3h-4.7zM1434.2 913.1h2.3v4.7h-2.3zM1438.9 1144.1h2.3v4.7h-2.3zM759.9 1139.5h2.3v2.3h-2.3zM1732.9 1174.5h2.3v4.7h-2.3zM358.5 1183.8h2.3v2.3h-2.3zM559.2 1153.5h2.3v4.7h-2.3zM1312.9 1183.8h4.7v2.3h-4.7zM1870.5 948.1h2.3v2.3h-2.3zM1406.2 938.8h2.3v2.3h-2.3zM1357.2 915.5h4.7v2.3h-4.7zM1378.2 878.1h2.3v2.3h-2.3zM647.9 875.8h4.7v2.3h-4.7zM409.9 1137.1h4.7v2.3h-4.7zM1018.9 1134.8h4.7v2.3h-4.7zM1924.2 1165.1h2.3v2.3h-2.3zM1189.2 1200.1h2.3v4.7h-2.3zM1270.9 1174.5h4.7v2.3h-4.7zM1371.2 880.5h2.3v2.3h-2.3zM1259.2 1197.8h4.7v2.3h-4.7zM1520.5 1148.8h2.3v4.7h-2.3zM990.9 1200.1h2.3v2.3h-2.3zM983.9 1211.8h2.3v4.7h-2.3zM1109.9 894.5h4.7v2.3h-4.7zM1415.5 938.8h4.7v4.7h-4.7zM1392.2 882.8h2.3v2.3h-2.3zM1385.2 1190.8h4.7v2.3h-4.7zM1049.2 920.1h4.7v2.3h-4.7zM262.9 920.1h2.3v2.3h-2.3zM1695.5 887.5h2.3v4.7h-2.3zM402.9 868.8h4.7v2.3h-4.7zM356.2 1169.8h2.3v2.3h-2.3zM1550.9 889.8h2.3v4.7h-2.3zM1443.5 1176.8h2.3v2.3h-2.3zM1343.2 1216.5h4.7v2.3h-4.7zM673.5 887.5h2.3v4.7h-2.3zM1676.9 1160.5h4.7v2.3h-4.7zM1133.2 1183.8h4.7v2.3h-4.7zM918.5 950.5h2.3v4.7h-2.3zM430.9 882.8h4.7v2.3h-4.7zM1415.5 1167.5h4.7v2.3h-4.7zM1116.9 1158.1h2.3v2.3h-2.3zM1233.5 880.5h2.3v2.3h-2.3zM440.2 1211.8h2.3v2.3h-2.3zM1443.5 887.5h2.3v4.7h-2.3zM1784.2 1195.5h4.7v2.3h-4.7zM258.2 1193.1h2.3v2.3h-2.3zM365.5 924.8h2.3v4.7h-2.3zM1112.2 887.5h2.3v2.3h-2.3zM325.9 903.8h4.7v2.3h-4.7zM1886.9 1134.8h2.3v4.7h-2.3zM1620.9 1162.8h2.3v2.3h-2.3zM1674.5 950.5h4.7v2.3h-4.7zM1235.9 910.8h2.3v2.3h-2.3zM715.5 1144.1h2.3v2.3h-2.3zM890.5 1179.1h4.7v2.3h-4.7zM1331.5 1139.5h2.3v4.7h-2.3zM1007.2 1200.1h4.7v2.3h-4.7zM946.5 915.5h2.3v4.7h-2.3zM500.9 880.5h2.3v4.7h-2.3zM1051.5 927.1h2.3v4.7h-2.3zM484.5 917.8h4.7v2.3h-4.7zM458.9 1207.1h2.3v4.7h-2.3zM1333.9 1176.8h4.7v2.3h-4.7zM1200.9 1209.5h4.7v4.7h-4.7zM1527.5 1162.8h2.3v2.3h-2.3zM752.9 920.1h4.7v2.3h-4.7zM1800.5 1153.5h2.3v4.7h-2.3zM1674.5 941.1h2.3v4.7h-2.3zM699.2 896.8h4.7v2.3h-4.7zM1403.9 903.8h2.3v2.3h-2.3zM1191.5 1195.5h4.7v2.3h-4.7zM1744.5 1141.8h2.3v4.7h-2.3zM717.9 1179.1h4.7v2.3h-4.7zM701.5 1200.1h4.7v2.3h-4.7zM878.9 1155.8h4.7v4.7h-4.7zM367.9 910.8h2.3v2.3h-2.3zM1574.2 941.1h2.3v4.7h-2.3zM1373.5 1169.8h2.3v4.7h-2.3zM1018.9 906.1h4.7v2.3h-4.7zM1326.9 882.8h2.3v2.3h-2.3zM1455.2 906.1h4.7v2.3h-4.7zM799.5 913.1h2.3v2.3h-2.3zM547.5 889.8h4.7v4.7h-4.7zM1665.2 943.5h2.3v4.7h-2.3zM1770.2 1153.5h2.3v2.3h-2.3zM575.5 868.8h2.3v2.3h-2.3zM1063.2 1176.8h4.7v2.3h-4.7zM1123.9 882.8h2.3v2.3h-2.3zM1207.9 868.8h2.3v2.3h-2.3zM1478.5 1186.1h2.3v2.3h-2.3zM1802.9 1214.1h2.3v4.7h-2.3zM1571.9 875.8h2.3v2.3h-2.3zM1473.9 1204.8h2.3v2.3h-2.3zM860.2 948.1h2.3v4.7h-2.3zM584.9 924.8h2.3v4.7h-2.3zM799.5 915.5h2.3v4.7h-2.3zM1123.9 1158.1h2.3v2.3h-2.3zM1452.9 1183.8h4.7v2.3h-4.7zM428.5 901.5h2.3v2.3h-2.3zM1275.5 868.8h4.7v2.3h-4.7zM503.2 1181.5h2.3v4.7h-2.3zM1319.9 880.5h2.3v2.3h-2.3zM713.2 917.8h2.3v4.7h-2.3zM503.2 1204.8h2.3v2.3h-2.3zM1273.2 936.5h2.3v4.7h-2.3zM1578.9 1209.5h2.3v2.3h-2.3zM304.9 1190.8h4.7v4.7h-4.7zM619.9 1144.1h4.7v4.7h-4.7zM475.2 1148.8h4.7v2.3h-4.7zM981.5 1167.5h4.7v4.7h-4.7zM1338.5 924.8h4.7v2.3h-4.7zM1609.2 1207.1h4.7v4.7h-4.7zM1553.2 873.5h2.3v4.7h-2.3zM1266.2 938.8h2.3v2.3h-2.3zM1175.2 882.8h4.7v2.3h-4.7zM1317.5 868.8h4.7v2.3h-4.7zM1599.9 889.8h4.7v4.7h-4.7zM1112.2 887.5h2.3v4.7h-2.3zM517.2 938.8h4.7v4.7h-4.7zM937.2 1190.8h4.7v2.3h-4.7zM1912.5 908.5h2.3v4.7h-2.3zM559.2 1141.8h4.7v2.3h-4.7zM587.2 1179.1h2.3v4.7h-2.3zM344.5 915.5h4.7v2.3h-4.7zM603.5 934.1h4.7v4.7h-4.7zM1562.5 1186.1h2.3v4.7h-2.3zM1389.9 1204.8h4.7v4.7h-4.7zM832.2 1167.5h2.3v4.7h-2.3zM1392.2 1216.5h2.3v4.7h-2.3zM1336.2 1167.5h2.3v2.3h-2.3zM1259.2 875.8h2.3v2.3h-2.3zM720.2 1146.5h2.3v2.3h-2.3zM1079.5 880.5h4.7v4.7h-4.7zM353.9 892.1h2.3v2.3h-2.3zM1186.9 899.1h2.3v2.3h-2.3zM696.9 1144.1h2.3v2.3h-2.3zM1130.9 1195.5h2.3v4.7h-2.3zM475.2 873.5h2.3v2.3h-2.3zM596.5 1214.1h4.7v2.3h-4.7zM1128.5 1144.1h2.3v4.7h-2.3zM1268.5 1169.8h4.7v4.7h-4.7zM1359.5 1207.1h4.7v4.7h-4.7zM1597.5 889.8h2.3v2.3h-2.3zM1898.5 882.8h2.3v4.7h-2.3zM1000.2 868.8h4.7v4.7h-4.7zM1135.5 1172.1h4.7v2.3h-4.7zM1245.2 875.8h2.3v2.3h-2.3zM1494.9 868.8h2.3v2.3h-2.3zM281.5 882.8h4.7v2.3h-4.7zM1196.2 910.8h2.3v2.3h-2.3zM1574.2 1146.5h4.7v2.3h-4.7zM1151.9 1190.8h2.3v4.7h-2.3zM727.2 1162.8h2.3v2.3h-2.3zM913.9 1214.1h4.7v2.3h-4.7zM486.9 1209.5h4.7v2.3h-4.7zM1667.5 917.8h2.3v4.7h-2.3zM1219.5 1172.1h4.7v4.7h-4.7zM458.9 922.5h2.3v2.3h-2.3zM594.2 917.8h2.3v2.3h-2.3zM794.9 1153.5h2.3v2.3h-2.3zM276.9 1153.5h2.3v2.3h-2.3zM1214.9 915.5h4.7v2.3h-4.7zM930.2 1169.8h4.7v2.3h-4.7zM1275.5 1197.8h4.7v2.3h-4.7zM384.2 922.5h4.7v2.3h-4.7zM804.2 1174.5h2.3v2.3h-2.3zM535.9 892.1h2.3v2.3h-2.3zM885.9 943.5h4.7v4.7h-4.7zM713.2 1202.5h2.3v4.7h-2.3zM1011.9 924.8h2.3v4.7h-2.3zM1821.5 1167.5h2.3v4.7h-2.3zM1898.5 875.8h2.3v2.3h-2.3zM1070.2 1176.8h2.3v2.3h-2.3zM1777.2 1174.5h2.3v2.3h-2.3zM1427.2 915.5h4.7v4.7h-4.7zM1205.5 1209.5h2.3v4.7h-2.3zM405.2 1202.5h2.3v4.7h-2.3zM1296.5 1172.1h2.3v2.3h-2.3zM307.2 1172.1h4.7v4.7h-4.7zM1588.2 924.8h4.7v4.7h-4.7zM1298.9 948.1h2.3v2.3h-2.3zM498.5 1176.8h4.7v2.3h-4.7zM941.9 1148.8h4.7v4.7h-4.7zM442.5 868.8h2.3v2.3h-2.3zM274.5 1134.8h4.7v2.3h-4.7zM1072.5 941.1h2.3v4.7h-2.3zM864.9 1139.5h2.3v4.7h-2.3zM486.9 1155.8h2.3v2.3h-2.3zM773.9 1169.8h2.3v4.7h-2.3zM1777.2 948.1h4.7v2.3h-4.7zM1889.2 934.1h4.7v2.3h-4.7zM876.5 906.1h2.3v4.7h-2.3zM1569.5 1167.5h2.3v2.3h-2.3zM1730.5 1162.8h2.3v4.7h-2.3zM1123.9 1190.8h4.7v2.3h-4.7zM1275.5 1158.1h2.3v4.7h-2.3zM643.2 1162.8h4.7v2.3h-4.7zM1907.9 882.8h4.7v2.3h-4.7zM1728.2 938.8h4.7v4.7h-4.7zM1795.9 924.8h2.3v4.7h-2.3zM1942.9 1165.1h4.7v4.7h-4.7zM540.5 917.8h2.3v2.3h-2.3zM1854.2 1183.8h2.3v2.3h-2.3zM1130.9 882.8h4.7v4.7h-4.7zM1364.2 1202.5h2.3v2.3h-2.3zM1205.5 1169.8h4.7v2.3h-4.7zM958.2 1169.8h2.3v2.3h-2.3zM281.5 1204.8h2.3v4.7h-2.3zM1305.9 1137.1h2.3v4.7h-2.3zM251.2 1209.5h2.3v2.3h-2.3zM1018.9 1139.5h4.7v2.3h-4.7zM1793.5 1188.5h2.3v2.3h-2.3zM955.9 915.5h2.3v2.3h-2.3zM323.5 1158.1h4.7v2.3h-4.7zM650.2 894.5h2.3v2.3h-2.3zM1760.9 1144.1h2.3v4.7h-2.3zM430.9 1162.8h2.3v4.7h-2.3zM696.9 880.5h4.7v2.3h-4.7zM274.5 917.8h2.3v2.3h-2.3zM1457.5 1190.8h4.7v2.3h-4.7zM1039.9 948.1h4.7v2.3h-4.7zM647.9 906.1h4.7v4.7h-4.7zM517.2 887.5h2.3v4.7h-2.3zM1548.5 1148.8h2.3v4.7h-2.3zM794.9 1202.5h2.3v2.3h-2.3zM1366.5 892.1h2.3v4.7h-2.3zM1114.5 1193.1h2.3v2.3h-2.3zM883.5 885.1h2.3v2.3h-2.3zM706.2 1144.1h4.7v4.7h-4.7zM1910.2 938.8h2.3v2.3h-2.3zM1641.9 938.8h2.3v4.7h-2.3zM1275.5 882.8h4.7v4.7h-4.7zM832.2 1181.5h2.3v4.7h-2.3zM1840.2 913.1h2.3v2.3h-2.3zM584.9 1216.5h2.3v4.7h-2.3zM622.2 1148.8h2.3v2.3h-2.3zM848.5 1214.1h2.3v2.3h-2.3zM927.9 1202.5h2.3v2.3h-2.3zM904.5 1165.1h2.3v2.3h-2.3zM1896.2 1211.8h2.3v2.3h-2.3zM311.9 1179.1h4.7v4.7h-4.7zM836.9 1179.1h2.3v2.3h-2.3zM1191.5 1197.8h2.3v2.3h-2.3zM1536.9 1209.5h4.7v2.3h-4.7zM1695.5 1155.8h2.3v4.7h-2.3zM1249.9 1197.8h2.3v2.3h-2.3zM1322.2 924.8h4.7v2.3h-4.7zM1798.2 1146.5h2.3v2.3h-2.3zM1046.9 1195.5h4.7v4.7h-4.7zM1914.9 1151.1h2.3v2.3h-2.3zM1317.5 1193.1h2.3v2.3h-2.3zM1504.2 1151.1h2.3v2.3h-2.3zM1574.2 903.8h4.7v2.3h-4.7zM1319.9 1214.1h2.3v2.3h-2.3zM1254.5 1179.1h2.3v2.3h-2.3zM1352.5 887.5h4.7v2.3h-4.7zM1534.5 1214.1h2.3v2.3h-2.3zM1338.5 889.8h4.7v2.3h-4.7zM808.9 1188.5h2.3v2.3h-2.3zM1672.2 948.1h2.3v4.7h-2.3zM1681.5 924.8h4.7v2.3h-4.7zM1459.9 915.5h2.3v2.3h-2.3zM1765.5 1167.5h2.3v4.7h-2.3zM1128.5 938.8h4.7v2.3h-4.7zM1795.9 1153.5h4.7v2.3h-4.7zM582.5 871.1h4.7v2.3h-4.7zM1448.2 1153.5h4.7v2.3h-4.7zM1718.9 1144.1h4.7v4.7h-4.7zM1828.5 892.1h2.3v2.3h-2.3zM505.5 868.8h2.3v2.3h-2.3zM706.2 936.5h2.3v2.3h-2.3zM937.2 948.1h4.7v2.3h-4.7zM1280.2 917.8h4.7v2.3h-4.7zM867.2 1174.5h2.3v2.3h-2.3zM288.5 878.1h2.3v2.3h-2.3zM1270.9 1167.5h2.3v2.3h-2.3zM419.2 1200.1h4.7v2.3h-4.7zM1245.2 934.1h2.3v2.3h-2.3zM1205.5 1153.5h2.3v2.3h-2.3zM1532.2 1169.8h2.3v4.7h-2.3zM657.2 896.8h2.3v4.7h-2.3zM1294.2 1139.5h4.7v2.3h-4.7zM1014.2 1165.1h4.7v2.3h-4.7zM1128.5 1169.8h2.3v2.3h-2.3zM1284.9 948.1h2.3v2.3h-2.3zM797.2 936.5h4.7v2.3h-4.7zM549.9 934.1h4.7v4.7h-4.7zM1560.2 1169.8h2.3v2.3h-2.3zM475.2 929.5h2.3v2.3h-2.3zM913.9 880.5h4.7v2.3h-4.7zM1259.2 880.5h2.3v2.3h-2.3zM834.5 908.5h4.7v4.7h-4.7zM498.5 915.5h4.7v2.3h-4.7zM661.9 885.1h2.3v2.3h-2.3zM561.5 1181.5h2.3v4.7h-2.3zM500.9 892.1h4.7v2.3h-4.7zM897.5 1155.8h4.7v2.3h-4.7zM433.2 1186.1h4.7v2.3h-4.7zM1361.9 924.8h4.7v2.3h-4.7zM1543.9 868.8h2.3v2.3h-2.3zM603.5 1183.8h4.7v2.3h-4.7zM1021.2 1144.1h4.7v4.7h-4.7zM1662.9 1202.5h4.7v2.3h-4.7zM1287.2 901.5h2.3v4.7h-2.3zM1252.2 1165.1h2.3v4.7h-2.3zM1268.5 1197.8h2.3v4.7h-2.3zM309.5 1195.5h2.3v4.7h-2.3zM687.5 1146.5h4.7v4.7h-4.7zM785.5 1139.5h2.3v2.3h-2.3zM1669.9 1183.8h2.3v4.7h-2.3zM360.9 1179.1h2.3v4.7h-2.3zM1196.2 1211.8h2.3v2.3h-2.3zM1634.9 1158.1h2.3v2.3h-2.3zM1373.5 1137.1h2.3v4.7h-2.3zM1905.5 920.1h2.3v2.3h-2.3zM1672.2 1195.5h2.3v4.7h-2.3zM253.5 945.8h2.3v4.7h-2.3zM458.9 899.1h2.3v2.3h-2.3zM988.5 1141.8h2.3v2.3h-2.3zM1688.5 1195.5h2.3v2.3h-2.3zM846.2 927.1h4.7v2.3h-4.7zM1184.5 1197.8h4.7v2.3h-4.7zM1284.9 1172.1h2.3v2.3h-2.3zM904.5 1155.8h2.3v4.7h-2.3zM1284.9 1160.5h4.7v2.3h-4.7zM1681.5 1214.1h2.3v2.3h-2.3zM1639.5 1176.8h4.7v2.3h-4.7zM1870.5 1158.1h2.3v2.3h-2.3zM687.5 929.5h2.3v4.7h-2.3zM1210.2 1211.8h2.3v4.7h-2.3zM258.2 899.1h2.3v2.3h-2.3zM1581.2 1137.1h2.3v2.3h-2.3zM1728.2 906.1h2.3v2.3h-2.3zM1343.2 882.8h2.3v2.3h-2.3zM447.2 915.5h2.3v2.3h-2.3zM1882.2 924.8h4.7v2.3h-4.7zM1051.5 1134.8h2.3v4.7h-2.3zM479.9 901.5h2.3v2.3h-2.3zM1525.2 1214.1h4.7v2.3h-4.7zM1058.5 1195.5h4.7v2.3h-4.7zM1863.5 917.8h4.7v2.3h-4.7zM1091.2 1153.5h2.3v2.3h-2.3zM1571.9 936.5h2.3v2.3h-2.3zM960.5 920.1h2.3v2.3h-2.3zM1506.5 1134.8h2.3v4.7h-2.3zM1499.5 1141.8h4.7v2.3h-4.7zM566.2 945.8h2.3v2.3h-2.3zM1553.2 1141.8h2.3v2.3h-2.3zM1450.5 1158.1h2.3v2.3h-2.3zM979.2 878.1h2.3v2.3h-2.3zM1175.2 1209.5h2.3v2.3h-2.3zM1837.9 1144.1h2.3v4.7h-2.3zM1172.9 880.5h2.3v2.3h-2.3zM1009.5 868.8h2.3v2.3h-2.3zM790.2 922.5h4.7v2.3h-4.7zM1737.5 875.8h2.3v2.3h-2.3zM890.5 1209.5h4.7v2.3h-4.7zM1205.5 936.5h4.7v2.3h-4.7zM1723.5 882.8h4.7v4.7h-4.7zM255.9 1158.1h2.3v4.7h-2.3zM1707.2 1195.5h4.7v2.3h-4.7zM1287.2 922.5h4.7v2.3h-4.7zM1347.9 901.5h4.7v2.3h-4.7zM1401.5 1204.8h4.7v2.3h-4.7zM979.2 1176.8h2.3v4.7h-2.3zM976.9 1148.8h2.3v2.3h-2.3zM661.9 1144.1h2.3v4.7h-2.3zM1620.9 941.1h4.7v4.7h-4.7zM715.5 945.8h2.3v2.3h-2.3zM339.9 1137.1h2.3v4.7h-2.3zM356.2 945.8h4.7v4.7h-4.7zM1093.5 1193.1h2.3v2.3h-2.3zM1506.5 1162.8h2.3v2.3h-2.3zM785.5 1197.8h2.3v2.3h-2.3zM876.5 1148.8h2.3v2.3h-2.3zM1179.9 943.5h2.3v2.3h-2.3zM1399.2 1137.1h2.3v4.7h-2.3zM1147.2 1148.8h2.3v4.7h-2.3zM1802.9 936.5h2.3v4.7h-2.3zM1931.2 1186.1h2.3v2.3h-2.3zM631.5 1190.8h2.3v2.3h-2.3zM1373.5 950.5h2.3v2.3h-2.3zM519.5 1167.5h4.7v2.3h-4.7zM1018.9 1162.8h2.3v4.7h-2.3zM1585.9 1176.8h4.7v2.3h-4.7zM545.2 1200.1h2.3v4.7h-2.3zM1109.9 931.8h2.3v2.3h-2.3zM505.5 1216.5h2.3v4.7h-2.3zM659.5 1176.8h4.7v2.3h-4.7zM1119.2 871.1h2.3v2.3h-2.3zM1826.2 1155.8h2.3v2.3h-2.3zM1644.2 873.5h4.7v2.3h-4.7zM769.2 1204.8h2.3v2.3h-2.3zM794.9 1195.5h2.3v4.7h-2.3zM832.2 1195.5h4.7v4.7h-4.7zM1317.5 1181.5h4.7v2.3h-4.7zM778.5 948.1h2.3v2.3h-2.3zM1289.5 882.8h4.7v2.3h-4.7zM794.9 934.1h2.3v4.7h-2.3zM1924.2 880.5h2.3v4.7h-2.3zM1037.5 1155.8h2.3v2.3h-2.3zM1879.9 1160.5h4.7v2.3h-4.7zM1522.9 887.5h4.7v2.3h-4.7zM1336.2 1172.1h4.7v2.3h-4.7zM577.9 1195.5h4.7v2.3h-4.7zM934.9 1167.5h4.7v4.7h-4.7zM799.5 887.5h2.3v4.7h-2.3zM916.2 875.8h2.3v2.3h-2.3zM307.2 1146.5h4.7v2.3h-4.7zM295.5 1141.8h2.3v4.7h-2.3zM1147.2 929.5h4.7v4.7h-4.7zM1550.9 1165.1h2.3v4.7h-2.3zM463.5 1144.1h2.3v2.3h-2.3zM493.9 880.5h2.3v4.7h-2.3zM762.2 1207.1h2.3v4.7h-2.3zM1189.2 1183.8h2.3v2.3h-2.3zM934.9 924.8h2.3v4.7h-2.3zM1172.9 1155.8h2.3v2.3h-2.3zM1695.5 1188.5h2.3v4.7h-2.3zM1060.9 1207.1h2.3v2.3h-2.3zM1858.9 913.1h2.3v4.7h-2.3zM1469.2 868.8h2.3v2.3h-2.3zM1567.2 1155.8h2.3v4.7h-2.3zM1217.2 1167.5h2.3v2.3h-2.3zM755.2 1202.5h2.3v4.7h-2.3zM1224.2 1165.1h4.7v4.7h-4.7zM1856.5 1190.8h4.7v2.3h-4.7zM1408.5 1167.5h2.3v2.3h-2.3zM279.2 1167.5h4.7v2.3h-4.7zM437.9 1174.5h4.7v2.3h-4.7zM762.2 950.5h4.7v4.7h-4.7zM1536.9 1165.1h2.3v2.3h-2.3zM836.9 945.8h2.3v2.3h-2.3zM916.2 1181.5h2.3v2.3h-2.3zM563.9 1216.5h2.3v2.3h-2.3zM1072.5 922.5h2.3v2.3h-2.3zM1891.5 917.8h2.3v2.3h-2.3zM1459.9 943.5h2.3v4.7h-2.3zM752.9 1195.5h4.7v2.3h-4.7zM580.2 917.8h2.3v4.7h-2.3zM997.9 920.1h2.3v2.3h-2.3zM701.5 1207.1h2.3v4.7h-2.3zM1590.5 882.8h4.7v4.7h-4.7zM624.5 1162.8h2.3v4.7h-2.3zM323.5 920.1h4.7v2.3h-4.7zM1550.9 880.5h2.3v2.3h-2.3zM1053.9 878.1h2.3v2.3h-2.3zM547.5 1216.5h4.7v2.3h-4.7zM1770.2 1200.1h2.3v2.3h-2.3zM836.9 1137.1h2.3v2.3h-2.3zM909.2 927.1h2.3v4.7h-2.3zM1830.9 1167.5h4.7v4.7h-4.7zM316.5 880.5h4.7v4.7h-4.7zM1242.9 868.8h4.7v4.7h-4.7zM694.5 1139.5h2.3v2.3h-2.3zM437.9 1181.5h2.3v4.7h-2.3zM944.2 1202.5h2.3v2.3h-2.3zM745.9 1144.1h4.7v2.3h-4.7zM750.5 1181.5h2.3v4.7h-2.3zM1312.9 929.5h4.7v2.3h-4.7zM545.2 913.1h4.7v2.3h-4.7zM1088.9 1207.1h2.3v2.3h-2.3zM1483.2 1160.5h4.7v2.3h-4.7zM883.5 908.5h2.3v2.3h-2.3zM1319.9 880.5h2.3v2.3h-2.3zM447.2 1211.8h2.3v2.3h-2.3zM1672.2 922.5h2.3v4.7h-2.3zM1651.2 1183.8h2.3v4.7h-2.3zM1009.5 936.5h2.3v4.7h-2.3zM346.9 887.5h2.3v4.7h-2.3zM482.2 1162.8h4.7v2.3h-4.7zM1732.9 1207.1h2.3v2.3h-2.3zM498.5 917.8h4.7v2.3h-4.7zM1872.9 894.5h2.3v4.7h-2.3zM1275.5 1139.5h4.7v2.3h-4.7zM1368.9 931.8h2.3v2.3h-2.3zM456.5 878.1h2.3v2.3h-2.3zM631.5 1209.5h2.3v2.3h-2.3zM559.2 1183.8h2.3v2.3h-2.3zM1893.9 1153.5h2.3v4.7h-2.3zM1730.5 931.8h2.3v4.7h-2.3zM1144.9 1153.5h4.7v4.7h-4.7zM806.5 901.5h2.3v2.3h-2.3zM692.2 941.1h2.3v2.3h-2.3zM743.5 903.8h4.7v2.3h-4.7zM276.9 1165.1h4.7v4.7h-4.7zM428.5 927.1h2.3v4.7h-2.3zM1900.9 927.1h4.7v4.7h-4.7zM1410.9 1209.5h2.3v2.3h-2.3zM1361.9 922.5h2.3v2.3h-2.3zM1753.9 1204.8h4.7v4.7h-4.7zM815.9 1188.5h2.3v2.3h-2.3zM1420.2 917.8h2.3v2.3h-2.3zM288.5 885.1h4.7v2.3h-4.7zM1924.2 1155.8h2.3v2.3h-2.3zM1730.5 920.1h2.3v2.3h-2.3zM1912.5 1139.5h2.3v2.3h-2.3zM1343.2 908.5h4.7v4.7h-4.7zM650.2 1172.1h2.3v2.3h-2.3zM1051.5 1181.5h2.3v2.3h-2.3zM258.2 1204.8h4.7v4.7h-4.7zM559.2 1141.8h2.3v2.3h-2.3zM988.5 1148.8h2.3v4.7h-2.3zM538.2 938.8h4.7v2.3h-4.7zM1324.5 901.5h2.3v2.3h-2.3zM1079.5 943.5h4.7v2.3h-4.7zM1399.2 1148.8h2.3v4.7h-2.3zM1814.5 1141.8h2.3v2.3h-2.3zM918.5 1197.8h4.7v2.3h-4.7zM517.2 1202.5h2.3v2.3h-2.3zM883.5 1211.8h2.3v4.7h-2.3zM1515.9 906.1h4.7v2.3h-4.7zM1207.9 899.1h2.3v4.7h-2.3zM323.5 875.8h4.7v4.7h-4.7zM332.9 948.1h2.3v2.3h-2.3zM1567.2 1137.1h2.3v2.3h-2.3zM1140.2 1146.5h2.3v4.7h-2.3zM745.9 1195.5h2.3v2.3h-2.3zM1233.5 1151.1h2.3v2.3h-2.3zM584.9 1207.1h2.3v4.7h-2.3zM1245.2 920.1h2.3v2.3h-2.3zM1630.2 1169.8h2.3v4.7h-2.3zM612.9 901.5h4.7v2.3h-4.7zM738.9 1151.1h2.3v2.3h-2.3zM1184.5 1214.1h2.3v2.3h-2.3zM1168.2 924.8h4.7v4.7h-4.7zM1030.5 892.1h4.7v4.7h-4.7zM708.5 1216.5h2.3v2.3h-2.3zM1126.2 1139.5h4.7v2.3h-4.7zM1394.5 1151.1h2.3v2.3h-2.3zM549.9 1153.5h2.3v2.3h-2.3zM804.2 1211.8h2.3v4.7h-2.3zM1849.5 931.8h4.7v4.7h-4.7zM920.9 908.5h2.3v2.3h-2.3zM1910.2 948.1h4.7v2.3h-4.7zM1084.2 945.8h4.7v2.3h-4.7zM391.2 927.1h2.3v2.3h-2.3zM1585.9 1148.8h2.3v2.3h-2.3zM1091.2 896.8h4.7v2.3h-4.7zM584.9 929.5h2.3v2.3h-2.3zM344.5 1181.5h4.7v2.3h-4.7zM1065.5 1172.1h2.3v2.3h-2.3zM1896.2 1151.1h2.3v4.7h-2.3zM325.9 868.8h4.7v4.7h-4.7zM689.9 1209.5h4.7v4.7h-4.7zM344.5 892.1h2.3v2.3h-2.3zM283.9 896.8h2.3v4.7h-2.3zM580.2 1139.5h4.7v2.3h-4.7zM708.5 1174.5h2.3v2.3h-2.3zM421.5 1197.8h2.3v2.3h-2.3zM300.2 927.1h2.3v4.7h-2.3zM500.9 892.1h2.3v4.7h-2.3zM1672.2 931.8h2.3v4.7h-2.3zM262.9 1181.5h2.3v4.7h-2.3zM1046.9 913.1h2.3v4.7h-2.3zM260.5 899.1h4.7v2.3h-4.7zM365.5 938.8h2.3v2.3h-2.3zM1875.2 894.5h2.3v4.7h-2.3zM1672.2 924.8h4.7v2.3h-4.7zM1583.5 903.8h4.7v2.3h-4.7zM1595.2 1202.5h2.3v4.7h-2.3zM918.5 875.8h2.3v2.3h-2.3zM1368.9 927.1h2.3v4.7h-2.3zM267.5 1137.1h2.3v4.7h-2.3zM426.2 948.1h2.3v2.3h-2.3zM1074.9 892.1h4.7v2.3h-4.7zM1037.5 938.8h2.3v4.7h-2.3zM836.9 936.5h4.7v4.7h-4.7zM1035.2 1139.5h2.3v4.7h-2.3zM1329.2 1188.5h4.7v2.3h-4.7zM682.9 906.1h4.7v4.7h-4.7zM1079.5 873.5h4.7v2.3h-4.7zM965.2 1176.8h4.7v2.3h-4.7zM1730.5 875.8h2.3v2.3h-2.3zM563.9 1148.8h2.3v4.7h-2.3zM479.9 1181.5h2.3v2.3h-2.3zM1494.9 931.8h2.3v2.3h-2.3zM1497.2 1146.5h2.3v2.3h-2.3zM1263.9 1202.5h2.3v2.3h-2.3zM395.9 1211.8h2.3v4.7h-2.3zM1084.2 899.1h2.3v2.3h-2.3zM521.9 887.5h4.7v2.3h-4.7zM1707.2 929.5h2.3v2.3h-2.3zM1662.9 913.1h2.3v2.3h-2.3zM878.9 1148.8h4.7v4.7h-4.7zM1914.9 1207.1h2.3v2.3h-2.3zM1028.2 899.1h2.3v2.3h-2.3zM477.5 950.5h4.7v2.3h-4.7zM1422.5 945.8h2.3v2.3h-2.3zM745.9 892.1h2.3v2.3h-2.3zM1028.2 1158.1h4.7v2.3h-4.7zM790.2 1146.5h4.7v2.3h-4.7zM1317.5 1207.1h4.7v2.3h-4.7zM321.2 934.1h4.7v2.3h-4.7zM1280.2 1148.8h4.7v2.3h-4.7zM1308.2 941.1h4.7v2.3h-4.7zM899.9 931.8h2.3v2.3h-2.3zM1196.2 1167.5h2.3v2.3h-2.3zM1758.5 1209.5h4.7v2.3h-4.7zM864.9 875.8h4.7v4.7h-4.7zM1499.5 892.1h2.3v4.7h-2.3zM1830.9 922.5h2.3v2.3h-2.3zM1021.2 915.5h2.3v2.3h-2.3zM591.9 929.5h2.3v2.3h-2.3zM1238.2 1181.5h2.3v2.3h-2.3zM1067.9 1176.8h2.3v2.3h-2.3zM1401.5 1188.5h2.3v2.3h-2.3zM1679.2 868.8h4.7v4.7h-4.7zM1119.2 1158.1h2.3v4.7h-2.3zM1536.9 1174.5h2.3v4.7h-2.3zM1574.2 903.8h4.7v2.3h-4.7zM1478.5 910.8h2.3v2.3h-2.3zM1072.5 1172.1h2.3v2.3h-2.3zM456.5 938.8h4.7v2.3h-4.7zM1602.2 1141.8h2.3v2.3h-2.3zM1548.5 1216.5h4.7v2.3h-4.7zM1065.5 1200.1h2.3v2.3h-2.3zM1515.9 1151.1h2.3v4.7h-2.3zM1112.2 929.5h4.7v2.3h-4.7zM748.2 892.1h4.7v2.3h-4.7zM818.2 899.1h2.3v2.3h-2.3zM1247.5 931.8h4.7v2.3h-4.7zM822.9 1155.8h2.3v2.3h-2.3zM654.9 1139.5h2.3v2.3h-2.3zM260.5 894.5h2.3v2.3h-2.3zM1396.9 875.8h4.7v4.7h-4.7zM981.5 1179.1h4.7v2.3h-4.7zM1501.9 922.5h2.3v2.3h-2.3zM1497.2 915.5h2.3v2.3h-2.3zM1721.2 934.1h4.7v2.3h-4.7zM1905.5 1190.8h4.7v2.3h-4.7zM1319.9 1151.1h2.3v2.3h-2.3zM1905.5 1165.1h2.3v2.3h-2.3zM449.5 936.5h2.3v2.3h-2.3zM808.9 880.5h2.3v2.3h-2.3zM790.2 878.1h2.3v2.3h-2.3zM1679.2 1158.1h2.3v2.3h-2.3zM1814.5 1153.5h2.3v2.3h-2.3zM302.5 873.5h4.7v4.7h-4.7zM582.5 894.5h2.3v2.3h-2.3zM678.2 1155.8h4.7v2.3h-4.7zM1401.5 1202.5h2.3v4.7h-2.3zM1116.9 889.8h4.7v2.3h-4.7zM1714.2 1207.1h2.3v4.7h-2.3zM1462.2 873.5h4.7v2.3h-4.7zM1142.5 1172.1h4.7v2.3h-4.7zM1903.2 1172.1h4.7v4.7h-4.7zM1940.5 1216.5h2.3v4.7h-2.3zM1865.9 917.8h2.3v2.3h-2.3zM738.9 1193.1h2.3v2.3h-2.3zM510.2 882.8h2.3v2.3h-2.3zM773.9 920.1h2.3v4.7h-2.3zM423.9 1172.1h2.3v2.3h-2.3zM804.2 1167.5h4.7v4.7h-4.7zM797.2 1158.1h4.7v2.3h-4.7zM1331.5 887.5h2.3v2.3h-2.3zM596.5 950.5h4.7v2.3h-4.7zM1662.9 868.8h2.3v2.3h-2.3zM337.5 894.5h4.7v4.7h-4.7zM1686.2 1160.5h2.3v2.3h-2.3zM1049.2 929.5h2.3v4.7h-2.3zM780.9 892.1h4.7v2.3h-4.7zM692.2 1183.8h4.7v2.3h-4.7zM937.2 1209.5h2.3v4.7h-2.3zM1196.2 885.1h2.3v2.3h-2.3zM1858.9 934.1h2.3v4.7h-2.3zM1065.5 871.1h2.3v2.3h-2.3zM988.5 868.8h4.7v2.3h-4.7zM722.5 906.1h2.3v2.3h-2.3zM1049.2 1155.8h2.3v4.7h-2.3zM1415.5 1148.8h2.3v2.3h-2.3zM465.9 1137.1h4.7v4.7h-4.7zM484.5 1151.1h2.3v2.3h-2.3zM405.2 873.5h4.7v4.7h-4.7zM843.9 924.8h2.3v2.3h-2.3zM722.5 880.5h2.3v2.3h-2.3zM414.5 901.5h2.3v2.3h-2.3zM1947.5 1176.8h2.3v2.3h-2.3zM647.9 1167.5h2.3v4.7h-2.3zM258.2 1165.1h2.3v2.3h-2.3zM1569.5 936.5h2.3v2.3h-2.3zM1802.9 887.5h2.3v2.3h-2.3zM482.2 1193.1h2.3v4.7h-2.3zM1088.9 908.5h2.3v4.7h-2.3zM738.9 1176.8h4.7v2.3h-4.7zM1627.9 1151.1h2.3v2.3h-2.3zM489.2 1162.8h2.3v4.7h-2.3zM1046.9 936.5h4.7v4.7h-4.7zM601.2 941.1h2.3v2.3h-2.3zM540.5 920.1h2.3v2.3h-2.3zM1821.5 873.5h2.3v2.3h-2.3zM1632.5 1169.8h2.3v2.3h-2.3zM841.5 917.8h4.7v4.7h-4.7zM941.9 913.1h2.3v4.7h-2.3zM701.5 903.8h4.7v4.7h-4.7zM1214.9 1179.1h2.3v2.3h-2.3zM951.2 1137.1h4.7v2.3h-4.7zM939.5 1165.1h4.7v2.3h-4.7zM1436.5 1181.5h4.7v2.3h-4.7zM1765.5 1204.8h2.3v2.3h-2.3zM633.9 1197.8h4.7v2.3h-4.7zM346.9 882.8h2.3v2.3h-2.3zM498.5 901.5h2.3v2.3h-2.3zM1520.5 1193.1h2.3v2.3h-2.3zM1130.9 1190.8h2.3v4.7h-2.3zM785.5 1197.8h2.3v2.3h-2.3zM757.5 1190.8h4.7v2.3h-4.7zM1434.2 950.5h2.3v2.3h-2.3zM1648.9 913.1h4.7v2.3h-4.7zM1459.9 1158.1h2.3v2.3h-2.3zM839.2 1181.5h4.7v4.7h-4.7zM990.9 899.1h2.3v4.7h-2.3zM1357.2 880.5h2.3v2.3h-2.3zM1648.9 1200.1h2.3v4.7h-2.3zM1116.9 1209.5h2.3v2.3h-2.3zM1004.9 1190.8h2.3v4.7h-2.3zM1798.2 1211.8h4.7v2.3h-4.7zM1464.5 929.5h4.7v4.7h-4.7zM290.9 1172.1h2.3v2.3h-2.3zM489.2 1188.5h4.7v2.3h-4.7zM869.5 1186.1h2.3v4.7h-2.3zM617.5 1162.8h2.3v2.3h-2.3zM731.9 908.5h2.3v2.3h-2.3zM589.5 934.1h4.7v4.7h-4.7zM1891.5 1155.8h2.3v2.3h-2.3zM1049.2 1216.5h2.3v2.3h-2.3zM822.9 1190.8h2.3v2.3h-2.3zM1380.5 887.5h2.3v2.3h-2.3zM927.9 913.1h2.3v4.7h-2.3zM1361.9 1153.5h2.3v2.3h-2.3zM1683.9 922.5h4.7v2.3h-4.7zM1933.5 1197.8h2.3v4.7h-2.3zM430.9 913.1h2.3v4.7h-2.3zM885.9 934.1h4.7v2.3h-4.7zM1466.9 1209.5h2.3v2.3h-2.3zM1364.2 913.1h2.3v4.7h-2.3zM694.5 917.8h4.7v2.3h-4.7zM575.5 1195.5h2.3v2.3h-2.3zM1403.9 1209.5h4.7v4.7h-4.7zM1072.5 941.1h2.3v4.7h-2.3zM1088.9 896.8h4.7v2.3h-4.7zM1695.5 1181.5h2.3v4.7h-2.3zM1072.5 892.1h2.3v2.3h-2.3zM1513.5 1153.5h4.7v2.3h-4.7zM1394.5 1134.8h2.3v4.7h-2.3zM748.2 1174.5h2.3v2.3h-2.3zM1931.2 915.5h2.3v2.3h-2.3zM528.9 892.1h2.3v2.3h-2.3zM535.9 908.5h2.3v2.3h-2.3zM1277.9 899.1h2.3v2.3h-2.3zM1592.9 1197.8h2.3v2.3h-2.3zM1802.9 901.5h4.7v4.7h-4.7zM1849.5 901.5h4.7v2.3h-4.7zM505.5 1153.5h2.3v2.3h-2.3zM1046.9 1151.1h4.7v2.3h-4.7zM1021.2 1216.5h4.7v2.3h-4.7zM386.5 1144.1h4.7v2.3h-4.7zM561.5 1160.5h4.7v2.3h-4.7zM416.9 1155.8h2.3v4.7h-2.3zM811.2 948.1h2.3v4.7h-2.3zM841.5 931.8h2.3v2.3h-2.3zM1149.5 1214.1h2.3v2.3h-2.3zM920.9 1148.8h2.3v2.3h-2.3zM1543.9 934.1h4.7v2.3h-4.7zM440.2 1160.5h2.3v2.3h-2.3zM1756.2 943.5h2.3v2.3h-2.3zM556.9 927.1h4.7v2.3h-4.7zM416.9 948.1h2.3v2.3h-2.3zM503.2 1216.5h2.3v2.3h-2.3zM1028.2 882.8h2.3v4.7h-2.3zM1550.9 1176.8h2.3v4.7h-2.3zM1784.2 1144.1h2.3v4.7h-2.3zM797.2 1197.8h4.7v2.3h-4.7zM1924.2 929.5h4.7v2.3h-4.7zM379.5 887.5h2.3v4.7h-2.3zM517.2 938.8h4.7v2.3h-4.7zM1588.2 887.5h4.7v2.3h-4.7zM1501.9 1134.8h2.3v4.7h-2.3zM1676.9 1141.8h4.7v4.7h-4.7zM1266.2 910.8h2.3v2.3h-2.3zM710.9 1155.8h4.7v2.3h-4.7zM1823.9 1158.1h2.3v2.3h-2.3zM1676.9 1209.5h2.3v2.3h-2.3zM1653.5 1195.5h2.3v2.3h-2.3zM1527.5 915.5h4.7v2.3h-4.7zM407.5 1186.1h2.3v2.3h-2.3zM1604.5 1209.5h4.7v4.7h-4.7zM1252.2 1144.1h4.7v2.3h-4.7zM675.9 1207.1h2.3v4.7h-2.3zM372.5 1183.8h2.3v2.3h-2.3zM944.2 878.1h2.3v2.3h-2.3zM1802.9 1179.1h4.7v4.7h-4.7zM1835.5 1190.8h4.7v2.3h-4.7zM1753.9 899.1h4.7v2.3h-4.7zM1809.9 1137.1h4.7v2.3h-4.7zM1450.5 1174.5h2.3v2.3h-2.3zM1903.2 1179.1h2.3v2.3h-2.3zM1235.9 1153.5h2.3v2.3h-2.3zM1513.5 927.1h2.3v2.3h-2.3zM1126.2 1195.5h2.3v2.3h-2.3zM1109.9 941.1h2.3v2.3h-2.3zM477.5 1207.1h4.7v2.3h-4.7zM890.5 1197.8h2.3v2.3h-2.3zM1627.9 906.1h2.3v2.3h-2.3zM1046.9 882.8h4.7v4.7h-4.7zM1933.5 920.1h2.3v4.7h-2.3zM811.2 948.1h2.3v2.3h-2.3zM267.5 908.5h4.7v2.3h-4.7zM1028.2 910.8h2.3v2.3h-2.3zM729.5 1186.1h2.3v2.3h-2.3zM738.9 892.1h4.7v2.3h-4.7zM1931.2 1179.1h2.3v2.3h-2.3zM1373.5 941.1h4.7v2.3h-4.7zM1345.5 908.5h4.7v2.3h-4.7zM1758.5 1174.5h2.3v2.3h-2.3zM1758.5 901.5h2.3v2.3h-2.3zM848.5 943.5h2.3v2.3h-2.3zM484.5 868.8h4.7v4.7h-4.7zM1807.5 871.1h2.3v2.3h-2.3zM626.9 913.1h2.3v2.3h-2.3zM433.2 901.5h2.3v2.3h-2.3zM1868.2 1190.8h2.3v4.7h-2.3zM339.9 1144.1h2.3v2.3h-2.3zM643.2 931.8h2.3v2.3h-2.3zM1114.5 1176.8h4.7v2.3h-4.7zM1527.5 1141.8h2.3v2.3h-2.3zM860.2 1169.8h2.3v2.3h-2.3zM1443.5 889.8h2.3v2.3h-2.3zM1471.5 908.5h2.3v2.3h-2.3zM1268.5 1172.1h4.7v4.7h-4.7zM328.2 938.8h4.7v2.3h-4.7zM762.2 889.8h4.7v2.3h-4.7zM258.2 868.8h2.3v4.7h-2.3zM1569.5 1174.5h2.3v2.3h-2.3zM535.9 1139.5h2.3v2.3h-2.3zM1933.5 1207.1h2.3v2.3h-2.3zM1639.5 1216.5h2.3v2.3h-2.3zM1819.2 896.8h4.7v2.3h-4.7zM1907.9 934.1h2.3v2.3h-2.3zM1261.5 903.8h2.3v2.3h-2.3zM1562.5 1214.1h4.7v2.3h-4.7zM1478.5 938.8h4.7v4.7h-4.7zM1854.2 875.8h2.3v2.3h-2.3zM1924.2 1134.8h2.3v2.3h-2.3zM1282.5 894.5h4.7v4.7h-4.7zM1289.5 880.5h2.3v2.3h-2.3zM650.2 1172.1h2.3v2.3h-2.3zM1919.5 906.1h2.3v2.3h-2.3zM1256.9 899.1h4.7v2.3h-4.7zM1896.2 1146.5h2.3v2.3h-2.3zM559.2 915.5h2.3v2.3h-2.3zM281.5 1139.5h4.7v4.7h-4.7zM1674.5 908.5h4.7v2.3h-4.7zM1354.9 1139.5h2.3v4.7h-2.3zM1375.9 922.5h2.3v4.7h-2.3zM1051.5 1207.1h4.7v2.3h-4.7zM650.2 882.8h4.7v2.3h-4.7zM1541.5 943.5h2.3v2.3h-2.3zM1065.5 1193.1h2.3v2.3h-2.3zM612.9 1153.5h2.3v2.3h-2.3zM1704.9 880.5h4.7v4.7h-4.7zM1023.5 1160.5h4.7v4.7h-4.7zM652.5 871.1h2.3v2.3h-2.3zM808.9 1202.5h4.7v4.7h-4.7zM286.2 1195.5h2.3v2.3h-2.3zM610.5 1174.5h2.3v2.3h-2.3zM598.9 1183.8h2.3v4.7h-2.3zM853.2 1188.5h2.3v4.7h-2.3zM524.2 903.8h4.7v2.3h-4.7zM1366.5 1174.5h2.3v4.7h-2.3zM1200.9 871.1h2.3v2.3h-2.3zM1455.2 1169.8h2.3v4.7h-2.3zM759.9 943.5h2.3v2.3h-2.3zM1569.5 906.1h4.7v2.3h-4.7zM1371.2 1169.8h2.3v2.3h-2.3zM1534.5 1188.5h2.3v2.3h-2.3zM1730.5 934.1h2.3v2.3h-2.3zM1532.2 1202.5h4.7v2.3h-4.7zM1366.5 936.5h4.7v4.7h-4.7zM1417.9 1139.5h4.7v2.3h-4.7zM1207.9 917.8h2.3v4.7h-2.3zM906.9 948.1h2.3v4.7h-2.3zM869.5 1137.1h4.7v4.7h-4.7zM972.2 871.1h2.3v4.7h-2.3zM1767.9 1195.5h2.3v2.3h-2.3zM1149.5 1183.8h4.7v4.7h-4.7zM750.5 1214.1h2.3v2.3h-2.3zM1660.5 1155.8h2.3v2.3h-2.3zM1273.2 1183.8h2.3v2.3h-2.3zM514.9 934.1h4.7v2.3h-4.7zM1116.9 913.1h4.7v2.3h-4.7zM839.2 1207.1h4.7v4.7h-4.7zM482.2 892.1h4.7v2.3h-4.7zM1359.5 1181.5h4.7v2.3h-4.7zM407.5 880.5h4.7v4.7h-4.7zM484.5 1151.1h2.3v2.3h-2.3zM1459.9 1148.8h2.3v2.3h-2.3zM1751.5 934.1h4.7v2.3h-4.7zM841.5 929.5h2.3v2.3h-2.3zM584.9 889.8h2.3v2.3h-2.3zM1791.2 899.1h4.7v2.3h-4.7zM1641.9 950.5h2.3v2.3h-2.3zM363.2 1139.5h2.3v2.3h-2.3zM1702.5 948.1h2.3v2.3h-2.3zM1947.5 938.8h2.3v4.7h-2.3zM1543.9 1216.5h2.3v4.7h-2.3zM297.9 885.1h4.7v4.7h-4.7zM1282.5 1167.5h2.3v2.3h-2.3zM1555.5 1211.8h4.7v2.3h-4.7zM302.5 1183.8h2.3v2.3h-2.3zM650.2 892.1h2.3v2.3h-2.3zM1382.9 868.8h4.7v2.3h-4.7zM1882.2 938.8h4.7v2.3h-4.7zM925.5 1144.1h2.3v2.3h-2.3zM1476.2 934.1h4.7v4.7h-4.7zM720.2 1209.5h2.3v2.3h-2.3zM1644.2 915.5h2.3v4.7h-2.3zM1217.2 1214.1h2.3v2.3h-2.3zM309.5 1207.1h4.7v4.7h-4.7zM1366.5 1195.5h2.3v2.3h-2.3zM1422.5 934.1h2.3v2.3h-2.3zM1772.5 1172.1h2.3v2.3h-2.3zM1721.2 1214.1h2.3v4.7h-2.3zM1007.2 875.8h4.7v2.3h-4.7zM1788.9 1197.8h2.3v2.3h-2.3zM1835.5 901.5h2.3v4.7h-2.3zM388.9 1148.8h4.7v4.7h-4.7zM1879.9 1162.8h2.3v2.3h-2.3zM1658.2 948.1h2.3v2.3h-2.3zM1161.2 1162.8h4.7v2.3h-4.7zM1361.9 1169.8h2.3v2.3h-2.3zM790.2 924.8h2.3v2.3h-2.3zM1504.2 1174.5h2.3v2.3h-2.3zM1217.2 948.1h2.3v2.3h-2.3zM867.2 1190.8h2.3v2.3h-2.3zM981.5 938.8h4.7v2.3h-4.7zM1508.9 1195.5h2.3v4.7h-2.3zM507.9 1188.5h2.3v2.3h-2.3zM1371.2 1155.8h4.7v2.3h-4.7zM1676.9 868.8h4.7v2.3h-4.7zM521.9 908.5h2.3v2.3h-2.3zM636.2 1160.5h4.7v2.3h-4.7zM566.2 920.1h4.7v2.3h-4.7zM470.5 1204.8h2.3v4.7h-2.3zM1585.9 1183.8h4.7v2.3h-4.7zM1676.9 1167.5h2.3v4.7h-2.3zM346.9 1155.8h4.7v4.7h-4.7zM1809.9 899.1h4.7v2.3h-4.7zM1191.5 868.8h2.3v4.7h-2.3zM1548.5 913.1h2.3v4.7h-2.3zM1207.9 899.1h2.3v2.3h-2.3zM622.2 1144.1h2.3v2.3h-2.3zM650.2 934.1h2.3v4.7h-2.3zM1093.5 1183.8h2.3v2.3h-2.3zM626.9 906.1h2.3v2.3h-2.3zM1795.9 941.1h2.3v4.7h-2.3zM687.5 885.1h2.3v2.3h-2.3zM1016.5 894.5h2.3v2.3h-2.3zM664.2 1209.5h2.3v4.7h-2.3zM1121.5 885.1h4.7v2.3h-4.7zM997.9 1209.5h2.3v4.7h-2.3zM365.5 1188.5h2.3v2.3h-2.3zM1851.9 1204.8h2.3v4.7h-2.3zM1576.5 927.1h2.3v2.3h-2.3zM1686.2 1197.8h2.3v4.7h-2.3zM1723.5 885.1h4.7v2.3h-4.7zM1403.9 1211.8h4.7v2.3h-4.7zM1770.2 950.5h2.3v4.7h-2.3zM703.9 1158.1h2.3v2.3h-2.3zM1793.5 1186.1h2.3v2.3h-2.3zM1634.9 934.1h2.3v2.3h-2.3zM1079.5 927.1h2.3v2.3h-2.3zM1900.9 1165.1h2.3v4.7h-2.3zM1700.2 1207.1h2.3v4.7h-2.3zM1406.2 1207.1h4.7v4.7h-4.7zM1609.2 1139.5h2.3v2.3h-2.3zM1280.2 875.8h4.7v2.3h-4.7zM1123.9 1141.8h4.7v4.7h-4.7zM409.9 868.8h4.7v2.3h-4.7zM806.5 880.5h4.7v2.3h-4.7zM806.5 917.8h2.3v4.7h-2.3zM1191.5 924.8h2.3v4.7h-2.3zM885.9 899.1h2.3v2.3h-2.3zM1387.5 1165.1h2.3v2.3h-2.3zM433.2 1211.8h2.3v2.3h-2.3zM584.9 941.1h2.3v2.3h-2.3zM1011.9 887.5h2.3v2.3h-2.3zM1760.9 880.5h2.3v4.7h-2.3zM1947.5 1137.1h2.3v2.3h-2.3zM491.5 871.1h4.7v2.3h-4.7zM1767.9 927.1h2.3v4.7h-2.3zM1786.5 885.1h2.3v4.7h-2.3zM986.2 922.5h2.3v4.7h-2.3zM1893.9 899.1h4.7v4.7h-4.7zM1606.9 871.1h2.3v4.7h-2.3zM1802.9 945.8h2.3v2.3h-2.3zM967.5 1195.5h4.7v2.3h-4.7zM1900.9 945.8h2.3v2.3h-2.3zM1648.9 948.1h2.3v4.7h-2.3zM1478.5 1193.1h2.3v4.7h-2.3zM444.9 915.5h4.7v4.7h-4.7zM1905.5 934.1h2.3v4.7h-2.3zM1413.2 1190.8h4.7v2.3h-4.7zM960.5 1158.1h2.3v4.7h-2.3zM470.5 1207.1h4.7v4.7h-4.7zM1690.9 1151.1h2.3v2.3h-2.3zM1858.9 1190.8h4.7v2.3h-4.7zM1781.9 1202.5h4.7v4.7h-4.7zM1445.9 892.1h4.7v4.7h-4.7zM1380.5 878.1h2.3v2.3h-2.3zM1308.2 1162.8h4.7v2.3h-4.7zM1198.5 875.8h2.3v2.3h-2.3zM687.5 906.1h4.7v2.3h-4.7zM1914.9 896.8h2.3v2.3h-2.3zM1347.9 915.5h2.3v2.3h-2.3zM983.9 1190.8h4.7v2.3h-4.7zM1679.2 927.1h2.3v2.3h-2.3zM1350.2 868.8h2.3v2.3h-2.3zM286.2 906.1h4.7v2.3h-4.7zM706.2 1190.8h2.3v2.3h-2.3zM1933.5 1204.8h2.3v4.7h-2.3zM652.5 1153.5h2.3v2.3h-2.3zM1765.5 913.1h2.3v2.3h-2.3zM1683.9 910.8h2.3v2.3h-2.3zM1693.2 1195.5h2.3v2.3h-2.3zM1529.9 894.5h4.7v2.3h-4.7zM542.9 1153.5h4.7v2.3h-4.7zM1324.5 1183.8h2.3v4.7h-2.3zM1319.9 1167.5h2.3v2.3h-2.3zM582.5 1160.5h2.3v2.3h-2.3zM783.2 901.5h2.3v4.7h-2.3zM696.9 901.5h4.7v4.7h-4.7zM1070.2 1139.5h2.3v4.7h-2.3zM666.5 1165.1h4.7v4.7h-4.7zM1886.9 1202.5h2.3v4.7h-2.3zM1023.5 1197.8h4.7v2.3h-4.7zM598.9 1146.5h2.3v4.7h-2.3zM328.2 1144.1h2.3v4.7h-2.3zM913.9 892.1h2.3v2.3h-2.3zM454.2 880.5h4.7v4.7h-4.7zM1676.9 1146.5h2.3v2.3h-2.3zM1324.5 927.1h2.3v2.3h-2.3zM701.5 1214.1h2.3v2.3h-2.3zM549.9 889.8h2.3v4.7h-2.3zM1753.9 887.5h2.3v2.3h-2.3zM1385.2 950.5h2.3v2.3h-2.3zM988.5 1186.1h2.3v2.3h-2.3zM871.9 878.1h2.3v2.3h-2.3zM1721.2 1190.8h2.3v4.7h-2.3zM1914.9 1137.1h2.3v4.7h-2.3zM559.2 1165.1h2.3v2.3h-2.3zM1686.2 948.1h4.7v2.3h-4.7zM783.2 920.1h2.3v2.3h-2.3zM741.2 927.1h2.3v4.7h-2.3zM1599.9 929.5h2.3v2.3h-2.3zM1669.9 1134.8h4.7v2.3h-4.7zM1919.5 922.5h2.3v4.7h-2.3zM610.5 915.5h2.3v2.3h-2.3zM612.9 901.5h2.3v2.3h-2.3zM402.9 915.5h2.3v2.3h-2.3zM678.2 945.8h2.3v2.3h-2.3zM983.9 1188.5h4.7v2.3h-4.7zM1735.2 885.1h2.3v2.3h-2.3zM1011.9 901.5h2.3v2.3h-2.3zM353.9 920.1h4.7v2.3h-4.7zM510.2 901.5h2.3v2.3h-2.3zM556.9 1179.1h2.3v4.7h-2.3zM974.5 945.8h2.3v2.3h-2.3zM1842.5 936.5h4.7v2.3h-4.7zM1798.2 1153.5h2.3v2.3h-2.3zM363.2 871.1h4.7v4.7h-4.7zM1721.2 920.1h4.7v2.3h-4.7zM587.2 1179.1h2.3v2.3h-2.3zM1844.9 1169.8h2.3v4.7h-2.3zM944.2 1179.1h2.3v4.7h-2.3zM692.2 1160.5h2.3v2.3h-2.3zM1623.2 927.1h2.3v2.3h-2.3zM1011.9 873.5h4.7v2.3h-4.7zM857.9 1214.1h2.3v4.7h-2.3zM409.9 938.8h2.3v2.3h-2.3zM958.2 917.8h4.7v4.7h-4.7zM979.2 880.5h4.7v2.3h-4.7zM1373.5 1146.5h4.7v2.3h-4.7zM1721.2 1202.5h2.3v2.3h-2.3zM1837.9 880.5h2.3v2.3h-2.3zM664.2 1176.8h4.7v4.7h-4.7zM836.9 1137.1h2.3v2.3h-2.3zM972.2 1176.8h4.7v2.3h-4.7zM587.2 878.1h2.3v2.3h-2.3zM1907.9 1197.8h2.3v2.3h-2.3zM1032.9 871.1h4.7v4.7h-4.7zM1830.9 922.5h2.3v4.7h-2.3zM1578.9 917.8h2.3v2.3h-2.3zM421.5 1153.5h4.7v2.3h-4.7zM1667.5 1153.5h2.3v2.3h-2.3zM827.5 906.1h2.3v4.7h-2.3zM1548.5 1162.8h4.7v4.7h-4.7zM853.2 1169.8h2.3v2.3h-2.3zM876.5 1193.1h2.3v2.3h-2.3zM1571.9 1162.8h2.3v2.3h-2.3zM337.5 889.8h2.3v4.7h-2.3zM836.9 1211.8h2.3v2.3h-2.3zM1119.2 934.1h4.7v4.7h-4.7zM1842.5 1137.1h4.7v2.3h-4.7zM1686.2 1151.1h2.3v4.7h-2.3zM993.2 1169.8h4.7v2.3h-4.7zM745.9 1141.8h2.3v2.3h-2.3zM1039.9 880.5h2.3v2.3h-2.3zM1263.9 1144.1h4.7v4.7h-4.7zM920.9 1151.1h2.3v2.3h-2.3zM1375.9 1190.8h2.3v2.3h-2.3zM1364.2 943.5h4.7v2.3h-4.7zM1660.5 1162.8h2.3v2.3h-2.3zM1011.9 950.5h2.3v2.3h-2.3zM1210.2 1148.8h2.3v4.7h-2.3zM283.9 945.8h4.7v2.3h-4.7zM328.2 1153.5h2.3v4.7h-2.3zM624.5 894.5h2.3v4.7h-2.3zM1128.5 938.8h2.3v4.7h-2.3zM974.5 922.5h4.7v2.3h-4.7zM1051.5 1160.5h4.7v4.7h-4.7zM724.9 887.5h2.3v2.3h-2.3zM584.9 1148.8h2.3v2.3h-2.3zM745.9 1155.8h2.3v2.3h-2.3zM1732.9 878.1h2.3v2.3h-2.3zM372.5 1193.1h2.3v2.3h-2.3zM456.5 938.8h4.7v2.3h-4.7zM759.9 936.5h4.7v2.3h-4.7zM1401.5 1190.8h2.3v2.3h-2.3zM279.2 880.5h4.7v2.3h-4.7zM617.5 1165.1h2.3v2.3h-2.3zM1352.5 873.5h2.3v4.7h-2.3zM1784.2 1193.1h4.7v2.3h-4.7zM1837.9 871.1h2.3v2.3h-2.3zM449.5 1169.8h4.7v4.7h-4.7zM923.2 913.1h2.3v2.3h-2.3zM1536.9 1167.5h2.3v2.3h-2.3zM1765.5 915.5h2.3v2.3h-2.3zM346.9 1151.1h2.3v2.3h-2.3zM1669.9 1141.8h4.7v4.7h-4.7zM692.2 1141.8h4.7v2.3h-4.7zM986.2 1183.8h2.3v2.3h-2.3zM1725.9 934.1h2.3v2.3h-2.3zM1644.2 945.8h2.3v2.3h-2.3zM1252.2 929.5h2.3v2.3h-2.3zM848.5 1188.5h2.3v2.3h-2.3zM1851.9 1214.1h2.3v2.3h-2.3zM911.5 1209.5h4.7v2.3h-4.7zM335.2 945.8h4.7v2.3h-4.7zM323.5 931.8h2.3v2.3h-2.3zM367.9 1214.1h2.3v2.3h-2.3zM1889.2 1174.5h4.7v2.3h-4.7zM1317.5 887.5h2.3v4.7h-2.3zM790.2 1158.1h2.3v2.3h-2.3zM1814.5 885.1h2.3v2.3h-2.3zM717.9 1183.8h2.3v2.3h-2.3zM1179.9 1172.1h2.3v2.3h-2.3zM1214.9 1207.1h2.3v2.3h-2.3zM1828.5 903.8h2.3v2.3h-2.3zM920.9 1174.5h2.3v4.7h-2.3zM1322.2 880.5h2.3v2.3h-2.3zM1805.2 1193.1h2.3v4.7h-2.3zM1856.5 1141.8h2.3v2.3h-2.3zM1436.5 934.1h2.3v4.7h-2.3zM1886.9 945.8h4.7v2.3h-4.7zM552.2 945.8h2.3v2.3h-2.3zM1105.2 948.1h4.7v4.7h-4.7zM1856.5 1146.5h2.3v4.7h-2.3zM1590.5 931.8h4.7v4.7h-4.7zM974.5 1153.5h2.3v2.3h-2.3zM643.2 1167.5h2.3v2.3h-2.3zM806.5 948.1h2.3v4.7h-2.3zM251.2 1153.5h4.7v2.3h-4.7zM1900.9 896.8h2.3v4.7h-2.3zM281.5 875.8h2.3v4.7h-2.3zM1200.9 1179.1h2.3v4.7h-2.3zM1114.5 1144.1h2.3v2.3h-2.3zM1072.5 1169.8h2.3v2.3h-2.3zM1352.5 1172.1h4.7v2.3h-4.7zM1074.9 927.1h2.3v2.3h-2.3zM458.9 1207.1h4.7v4.7h-4.7zM1737.5 1141.8h4.7v2.3h-4.7zM1205.5 887.5h2.3v4.7h-2.3zM1296.5 1141.8h2.3v2.3h-2.3zM1571.9 924.8h2.3v2.3h-2.3zM398.2 922.5h2.3v2.3h-2.3zM360.9 948.1h2.3v2.3h-2.3zM1441.2 1139.5h2.3v2.3h-2.3zM1924.2 1197.8h2.3v2.3h-2.3zM1074.9 1193.1h2.3v2.3h-2.3zM1338.5 868.8h2.3v4.7h-2.3zM1765.5 920.1h4.7v4.7h-4.7zM743.5 906.1h2.3v2.3h-2.3zM687.5 931.8h2.3v4.7h-2.3zM717.9 913.1h4.7v2.3h-4.7zM1779.5 1195.5h2.3v4.7h-2.3zM1903.2 1181.5h4.7v2.3h-4.7zM911.5 1207.1h2.3v2.3h-2.3zM1154.2 908.5h4.7v4.7h-4.7zM1077.2 927.1h2.3v4.7h-2.3zM820.5 1207.1h2.3v2.3h-2.3zM955.9 1183.8h2.3v2.3h-2.3zM1436.5 1200.1h2.3v2.3h-2.3zM729.5 1174.5h4.7v2.3h-4.7zM505.5 938.8h2.3v2.3h-2.3zM430.9 1207.1h2.3v2.3h-2.3zM850.9 929.5h4.7v2.3h-4.7zM1469.2 894.5h2.3v2.3h-2.3zM267.5 1183.8h2.3v2.3h-2.3zM1107.5 1172.1h4.7v2.3h-4.7zM848.5 1153.5h2.3v2.3h-2.3zM367.9 1139.5h2.3v2.3h-2.3zM939.5 1137.1h2.3v4.7h-2.3zM1452.9 1165.1h2.3v4.7h-2.3zM1690.9 1186.1h2.3v2.3h-2.3zM1856.5 1167.5h4.7v2.3h-4.7zM731.9 901.5h4.7v2.3h-4.7zM962.9 908.5h2.3v4.7h-2.3zM841.5 868.8h4.7v2.3h-4.7zM965.2 1141.8h2.3v2.3h-2.3zM965.2 922.5h2.3v2.3h-2.3zM1849.5 1155.8h2.3v2.3h-2.3zM358.5 1141.8h4.7v2.3h-4.7zM883.5 871.1h2.3v2.3h-2.3zM629.2 1165.1h4.7v4.7h-4.7zM421.5 894.5h4.7v2.3h-4.7zM860.2 901.5h2.3v2.3h-2.3zM1287.2 1167.5h2.3v4.7h-2.3zM549.9 1190.8h2.3v2.3h-2.3zM468.2 1183.8h2.3v2.3h-2.3zM1238.2 1169.8h2.3v4.7h-2.3zM1436.5 1195.5h2.3v4.7h-2.3zM384.2 894.5h2.3v4.7h-2.3zM1030.5 1172.1h2.3v2.3h-2.3zM505.5 1146.5h2.3v2.3h-2.3zM281.5 1169.8h2.3v2.3h-2.3zM850.9 1214.1h2.3v4.7h-2.3zM1536.9 1146.5h2.3v4.7h-2.3zM1163.5 1197.8h2.3v2.3h-2.3zM1088.9 906.1h2.3v2.3h-2.3zM1711.9 1137.1h4.7v2.3h-4.7zM1403.9 1197.8h4.7v4.7h-4.7zM1487.9 899.1h2.3v2.3h-2.3zM1436.5 1202.5h2.3v4.7h-2.3zM304.9 882.8h4.7v4.7h-4.7zM1420.2 1200.1h2.3v2.3h-2.3zM1415.5 1202.5h2.3v2.3h-2.3zM631.5 1169.8h2.3v4.7h-2.3zM853.2 889.8h2.3v4.7h-2.3zM1469.2 938.8h4.7v4.7h-4.7zM1616.2 1167.5h2.3v2.3h-2.3zM1886.9 922.5h2.3v2.3h-2.3zM1884.5 948.1h4.7v2.3h-4.7zM1781.9 880.5h2.3v2.3h-2.3zM500.9 906.1h4.7v2.3h-4.7zM1051.5 1209.5h2.3v2.3h-2.3zM729.5 1167.5h2.3v2.3h-2.3zM1625.5 1179.1h2.3v4.7h-2.3zM1098.2 1181.5h2.3v4.7h-2.3zM661.9 1181.5h2.3v2.3h-2.3zM734.2 1176.8h2.3v2.3h-2.3zM1653.5 920.1h4.7v2.3h-4.7zM465.9 885.1h2.3v2.3h-2.3zM1784.2 896.8h2.3v2.3h-2.3zM570.9 1216.5h2.3v4.7h-2.3zM1210.2 885.1h2.3v4.7h-2.3zM722.5 929.5h2.3v2.3h-2.3zM367.9 1169.8h2.3v2.3h-2.3zM1774.9 1167.5h4.7v4.7h-4.7zM1214.9 922.5h2.3v4.7h-2.3zM1044.5 878.1h2.3v4.7h-2.3zM1368.9 892.1h2.3v2.3h-2.3zM1184.5 1179.1h2.3v2.3h-2.3zM1455.2 1204.8h2.3v4.7h-2.3zM925.5 892.1h2.3v2.3h-2.3zM946.5 1141.8h2.3v2.3h-2.3zM755.2 929.5h2.3v2.3h-2.3zM1765.5 1139.5h4.7v4.7h-4.7zM559.2 1204.8h2.3v2.3h-2.3zM447.2 1195.5h2.3v2.3h-2.3zM1912.5 1167.5h2.3v2.3h-2.3zM1217.2 1216.5h2.3v4.7h-2.3zM1175.2 931.8h2.3v2.3h-2.3zM953.5 917.8h4.7v4.7h-4.7zM596.5 910.8h2.3v4.7h-2.3zM253.5 873.5h2.3v2.3h-2.3zM1779.5 1141.8h2.3v2.3h-2.3zM1018.9 899.1h2.3v2.3h-2.3zM783.2 1190.8h4.7v2.3h-4.7zM272.2 1181.5h2.3v2.3h-2.3zM1056.2 1144.1h2.3v2.3h-2.3zM1606.9 896.8h2.3v2.3h-2.3zM1784.2 1141.8h4.7v2.3h-4.7zM1707.2 871.1h4.7v2.3h-4.7zM582.5 868.8h4.7v2.3h-4.7zM811.2 880.5h2.3v2.3h-2.3zM419.2 938.8h4.7v4.7h-4.7zM1471.5 871.1h2.3v2.3h-2.3zM787.9 924.8h2.3v2.3h-2.3zM979.2 887.5h2.3v4.7h-2.3zM1595.2 1158.1h2.3v4.7h-2.3zM1795.9 1179.1h2.3v2.3h-2.3zM1681.5 908.5h2.3v4.7h-2.3zM986.2 1197.8h2.3v4.7h-2.3zM288.5 887.5h2.3v2.3h-2.3zM1683.9 1197.8h2.3v2.3h-2.3zM1795.9 950.5h2.3v2.3h-2.3zM1434.2 1190.8h4.7v2.3h-4.7zM470.5 1155.8h2.3v2.3h-2.3zM465.9 1188.5h2.3v4.7h-2.3zM836.9 910.8h2.3v2.3h-2.3zM759.9 1141.8h2.3v4.7h-2.3zM1329.2 950.5h2.3v2.3h-2.3zM916.2 889.8h2.3v4.7h-2.3zM643.2 938.8h4.7v4.7h-4.7zM1497.2 908.5h4.7v2.3h-4.7zM962.9 1151.1h4.7v2.3h-4.7zM710.9 1195.5h2.3v2.3h-2.3zM1569.5 1137.1h4.7v2.3h-4.7zM1303.5 931.8h2.3v2.3h-2.3zM757.5 910.8h4.7v2.3h-4.7zM300.2 1214.1h2.3v2.3h-2.3zM1711.9 896.8h2.3v2.3h-2.3zM1676.9 945.8h4.7v2.3h-4.7zM678.2 913.1h2.3v2.3h-2.3zM675.9 1169.8h2.3v2.3h-2.3zM1161.2 1211.8h4.7v2.3h-4.7zM542.9 1195.5h2.3v2.3h-2.3zM1690.9 903.8h4.7v2.3h-4.7zM1032.9 887.5h4.7v2.3h-4.7zM1849.5 941.1h2.3v2.3h-2.3zM766.9 1153.5h4.7v4.7h-4.7zM757.5 1204.8h2.3v2.3h-2.3zM724.9 1209.5h4.7v2.3h-4.7zM1798.2 873.5h2.3v2.3h-2.3zM500.9 950.5h4.7v2.3h-4.7zM1872.9 868.8h2.3v4.7h-2.3zM727.2 903.8h2.3v2.3h-2.3zM685.2 894.5h2.3v2.3h-2.3zM1014.2 1179.1h2.3v4.7h-2.3zM1616.2 1151.1h2.3v2.3h-2.3zM405.2 1186.1h2.3v4.7h-2.3zM524.2 1200.1h2.3v2.3h-2.3zM911.5 1162.8h4.7v2.3h-4.7zM1653.5 1174.5h4.7v2.3h-4.7zM346.9 915.5h2.3v2.3h-2.3zM932.5 875.8h2.3v4.7h-2.3zM300.2 1169.8h2.3v2.3h-2.3zM1226.5 1186.1h4.7v4.7h-4.7zM1506.5 1174.5h4.7v4.7h-4.7zM673.5 1148.8h4.7v2.3h-4.7zM367.9 1193.1h4.7v2.3h-4.7zM885.9 922.5h2.3v2.3h-2.3zM1277.9 924.8h2.3v4.7h-2.3zM426.2 1144.1h2.3v4.7h-2.3zM773.9 892.1h4.7v2.3h-4.7zM428.5 1137.1h4.7v2.3h-4.7zM780.9 894.5h2.3v2.3h-2.3zM808.9 948.1h4.7v2.3h-4.7zM1245.2 903.8h2.3v2.3h-2.3zM1555.5 934.1h2.3v4.7h-2.3zM1518.2 1165.1h4.7v2.3h-4.7zM1844.9 1162.8h2.3v4.7h-2.3zM1303.5 1153.5h2.3v2.3h-2.3zM958.2 1181.5h2.3v2.3h-2.3zM841.5 868.8h2.3v2.3h-2.3zM400.5 1181.5h2.3v2.3h-2.3zM1186.9 1211.8h4.7v4.7h-4.7zM1667.5 1158.1h2.3v4.7h-2.3zM393.5 931.8h2.3v2.3h-2.3zM1721.2 917.8h2.3v2.3h-2.3zM603.5 917.8h4.7v4.7h-4.7zM1772.5 929.5h4.7v4.7h-4.7zM1791.2 889.8h4.7v4.7h-4.7zM1025.9 896.8h2.3v2.3h-2.3zM1170.5 924.8h4.7v4.7h-4.7zM1707.2 941.1h2.3v2.3h-2.3zM1382.9 1158.1h2.3v4.7h-2.3zM587.2 948.1h2.3v2.3h-2.3zM559.2 875.8h4.7v2.3h-4.7zM1072.5 920.1h2.3v2.3h-2.3zM1809.9 892.1h2.3v2.3h-2.3zM1336.2 920.1h4.7v4.7h-4.7zM1618.5 1186.1h2.3v4.7h-2.3zM897.5 1160.5h2.3v4.7h-2.3zM472.9 929.5h2.3v2.3h-2.3zM841.5 1211.8h2.3v4.7h-2.3zM1919.5 908.5h4.7v2.3h-4.7zM1224.2 1162.8h2.3v2.3h-2.3zM659.5 936.5h2.3v2.3h-2.3zM288.5 915.5h2.3v4.7h-2.3zM724.9 1165.1h2.3v4.7h-2.3zM1765.5 1200.1h4.7v2.3h-4.7zM255.9 1172.1h4.7v2.3h-4.7zM995.5 948.1h4.7v4.7h-4.7zM1158.9 913.1h2.3v4.7h-2.3zM1548.5 878.1h4.7v4.7h-4.7zM1511.2 941.1h2.3v2.3h-2.3zM706.2 887.5h4.7v4.7h-4.7zM575.5 1165.1h2.3v4.7h-2.3zM300.2 1202.5h4.7v2.3h-4.7zM738.9 941.1h2.3v4.7h-2.3zM874.2 1167.5h2.3v2.3h-2.3zM687.5 943.5h2.3v2.3h-2.3zM1305.9 1214.1h2.3v2.3h-2.3zM771.5 875.8h2.3v2.3h-2.3zM801.9 1167.5h2.3v2.3h-2.3zM1933.5 934.1h4.7v2.3h-4.7zM1081.9 871.1h4.7v4.7h-4.7zM1854.2 920.1h4.7v2.3h-4.7zM794.9 1216.5h4.7v2.3h-4.7zM696.9 1202.5h2.3v2.3h-2.3zM1114.5 1193.1h4.7v2.3h-4.7zM1697.9 889.8h2.3v4.7h-2.3zM1116.9 1160.5h2.3v4.7h-2.3zM689.9 878.1h4.7v4.7h-4.7zM1392.2 1183.8h2.3v2.3h-2.3zM1910.2 1160.5h2.3v2.3h-2.3zM990.9 1160.5h2.3v2.3h-2.3zM1910.2 1181.5h4.7v2.3h-4.7zM689.9 885.1h2.3v2.3h-2.3zM1203.2 1195.5h4.7v2.3h-4.7zM267.5 1167.5h2.3v4.7h-2.3zM1770.2 896.8h2.3v2.3h-2.3zM1571.9 1179.1h4.7v2.3h-4.7zM1123.9 875.8h4.7v2.3h-4.7zM1928.9 903.8h4.7v2.3h-4.7zM1438.9 1181.5h2.3v4.7h-2.3zM1044.5 1195.5h4.7v4.7h-4.7zM1805.2 1176.8h4.7v2.3h-4.7zM1326.9 1202.5h4.7v4.7h-4.7zM428.5 1174.5h2.3v2.3h-2.3zM358.5 1174.5h4.7v2.3h-4.7zM1016.5 1144.1h2.3v4.7h-2.3zM255.9 908.5h2.3v2.3h-2.3zM491.5 1176.8h4.7v2.3h-4.7zM874.2 1162.8h2.3v4.7h-2.3zM1350.2 903.8h2.3v4.7h-2.3zM1840.2 1146.5h2.3v4.7h-2.3zM1198.5 1155.8h4.7v2.3h-4.7zM1128.5 908.5h4.7v4.7h-4.7zM972.2 1165.1h4.7v4.7h-4.7zM990.9 1204.8h4.7v4.7h-4.7zM1023.5 1202.5h4.7v2.3h-4.7zM899.9 871.1h2.3v2.3h-2.3zM1858.9 1193.1h2.3v2.3h-2.3zM666.5 1179.1h4.7v2.3h-4.7zM1436.5 878.1h2.3v2.3h-2.3zM1919.5 1197.8h4.7v2.3h-4.7zM1534.5 927.1h4.7v2.3h-4.7zM363.2 1195.5h2.3v2.3h-2.3zM1424.9 1183.8h2.3v2.3h-2.3zM920.9 913.1h4.7v2.3h-4.7zM1879.9 1186.1h2.3v4.7h-2.3zM1718.9 941.1h4.7v2.3h-4.7zM552.2 882.8h4.7v2.3h-4.7zM692.2 1190.8h2.3v2.3h-2.3zM934.9 922.5h4.7v2.3h-4.7zM1926.5 1169.8h2.3v4.7h-2.3zM428.5 1134.8h2.3v2.3h-2.3zM1186.9 934.1h4.7v2.3h-4.7zM1536.9 943.5h2.3v2.3h-2.3zM1721.2 931.8h4.7v2.3h-4.7zM846.2 1169.8h2.3v2.3h-2.3zM869.5 1174.5h2.3v2.3h-2.3zM979.2 903.8h4.7v4.7h-4.7zM1154.2 1202.5h2.3v4.7h-2.3zM1487.9 1207.1h4.7v2.3h-4.7zM1261.5 1176.8h2.3v4.7h-2.3zM412.2 941.1h2.3v2.3h-2.3zM454.2 1209.5h2.3v2.3h-2.3zM1746.9 922.5h2.3v4.7h-2.3zM253.5 868.8h4.7v4.7h-4.7zM302.5 908.5h2.3v2.3h-2.3zM398.2 1190.8h2.3v2.3h-2.3zM624.5 1197.8h4.7v2.3h-4.7zM902.2 1134.8h2.3v4.7h-2.3zM1742.2 913.1h2.3v2.3h-2.3zM1175.2 927.1h2.3v2.3h-2.3zM1567.2 1190.8h2.3v4.7h-2.3zM358.5 906.1h2.3v4.7h-2.3zM825.2 873.5h2.3v2.3h-2.3zM631.5 1137.1h2.3v2.3h-2.3zM652.5 1160.5h2.3v4.7h-2.3zM577.9 1179.1h4.7v4.7h-4.7zM906.9 920.1h2.3v4.7h-2.3zM258.2 1169.8h4.7v4.7h-4.7zM1744.5 1216.5h2.3v2.3h-2.3zM1193.9 922.5h4.7v4.7h-4.7zM608.2 1186.1h4.7v2.3h-4.7zM559.2 899.1h2.3v2.3h-2.3zM661.9 906.1h4.7v2.3h-4.7zM1574.2 943.5h4.7v2.3h-4.7zM1165.9 1169.8h4.7v4.7h-4.7zM1585.9 868.8h4.7v4.7h-4.7zM1889.2 1172.1h2.3v4.7h-2.3zM1322.2 901.5h2.3v4.7h-2.3zM806.5 945.8h2.3v2.3h-2.3zM1063.2 1148.8h2.3v2.3h-2.3zM449.5 868.8h4.7v4.7h-4.7zM785.5 894.5h2.3v2.3h-2.3zM678.2 943.5h4.7v2.3h-4.7zM332.9 887.5h2.3v2.3h-2.3zM1686.2 1172.1h2.3v2.3h-2.3zM839.2 1209.5h4.7v4.7h-4.7zM1441.2 1169.8h2.3v4.7h-2.3zM489.2 1197.8h2.3v2.3h-2.3zM381.9 915.5h2.3v4.7h-2.3zM1840.2 922.5h2.3v2.3h-2.3zM771.5 1200.1h2.3v2.3h-2.3zM1158.9 1160.5h2.3v4.7h-2.3zM1455.2 906.1h2.3v2.3h-2.3zM323.5 1153.5h2.3v2.3h-2.3zM673.5 1200.1h4.7v2.3h-4.7zM720.2 901.5h2.3v2.3h-2.3zM386.5 873.5h2.3v4.7h-2.3zM498.5 878.1h2.3v4.7h-2.3zM1445.9 915.5h2.3v2.3h-2.3zM937.2 915.5h2.3v4.7h-2.3zM993.2 873.5h2.3v4.7h-2.3zM1464.5 915.5h4.7v4.7h-4.7zM1588.2 1162.8h2.3v2.3h-2.3zM1758.5 899.1h2.3v2.3h-2.3zM1494.9 948.1h4.7v2.3h-4.7zM827.5 882.8h2.3v4.7h-2.3zM535.9 917.8h2.3v2.3h-2.3zM783.2 1214.1h2.3v2.3h-2.3zM1249.9 1137.1h2.3v2.3h-2.3zM1275.5 920.1h4.7v2.3h-4.7zM514.9 880.5h2.3v2.3h-2.3zM1431.9 1193.1h2.3v2.3h-2.3zM1291.9 1176.8h2.3v4.7h-2.3zM1532.2 908.5h4.7v2.3h-4.7zM1490.2 1197.8h2.3v4.7h-2.3zM1695.5 1176.8h2.3v2.3h-2.3zM633.9 1209.5h2.3v2.3h-2.3zM1912.5 1151.1h2.3v2.3h-2.3zM1889.2 913.1h2.3v2.3h-2.3zM598.9 1151.1h2.3v4.7h-2.3zM1520.5 948.1h2.3v2.3h-2.3zM1102.9 1216.5h2.3v2.3h-2.3zM524.2 950.5h4.7v2.3h-4.7zM1644.2 899.1h2.3v4.7h-2.3zM1702.5 1137.1h2.3v2.3h-2.3zM1375.9 892.1h2.3v2.3h-2.3zM1002.5 875.8h2.3v2.3h-2.3zM1417.9 1155.8h4.7v2.3h-4.7zM1226.5 1134.8h4.7v2.3h-4.7zM1455.2 1197.8h2.3v4.7h-2.3zM638.5 924.8h2.3v4.7h-2.3zM1693.2 1153.5h2.3v4.7h-2.3zM414.5 936.5h2.3v4.7h-2.3zM785.5 873.5h2.3v4.7h-2.3zM1079.5 1179.1h4.7v2.3h-4.7zM1021.2 1148.8h4.7v2.3h-4.7zM297.9 1209.5h2.3v2.3h-2.3zM1168.2 1204.8h2.3v4.7h-2.3zM1868.2 948.1h2.3v2.3h-2.3zM374.9 1144.1h4.7v2.3h-4.7zM1224.2 1209.5h2.3v2.3h-2.3zM444.9 908.5h4.7v2.3h-4.7zM314.2 871.1h2.3v2.3h-2.3zM1653.5 931.8h2.3v2.3h-2.3zM1578.9 903.8h2.3v2.3h-2.3zM1338.5 945.8h2.3v2.3h-2.3zM1630.2 1141.8h2.3v2.3h-2.3zM563.9 1160.5h4.7v4.7h-4.7zM1770.2 1204.8h2.3v4.7h-2.3zM682.9 931.8h2.3v2.3h-2.3zM762.2 871.1h2.3v2.3h-2.3zM962.9 1183.8h2.3v2.3h-2.3zM1399.2 908.5h2.3v2.3h-2.3zM500.9 873.5h2.3v2.3h-2.3zM463.5 899.1h4.7v2.3h-4.7zM645.5 1144.1h2.3v2.3h-2.3zM1548.5 1176.8h2.3v4.7h-2.3zM1406.2 1176.8h2.3v2.3h-2.3zM391.2 941.1h2.3v4.7h-2.3zM531.2 1204.8h2.3v4.7h-2.3zM636.2 908.5h2.3v2.3h-2.3zM1233.5 931.8h4.7v2.3h-4.7zM1478.5 1155.8h2.3v2.3h-2.3zM412.2 906.1h2.3v4.7h-2.3zM1716.5 938.8h2.3v2.3h-2.3zM1014.2 948.1h2.3v2.3h-2.3z"/>
<path fill="#00f" d="M249.2 985.4V985.4H255.9V976.1H260.5V972.5H265.2V959.7H269.9V984H274.5V964.6H279.2V964.2H283.9V980.1H288.5V972.9H293.2V969.3H297.9V960.1H302.5V976.3H307.2V979.8H311.9V988.2H316.5V984.4H321.2V973.5H325.9V974.1H330.5V945H335.2V977.9H339.9V975.3H344.5V963.2H349.2V977.8H353.9V965.9H358.5V985.1H363.2V954.1H367.9V966.1H372.5V984.4H377.2V954.1H381.9V987.5H386.5V977.4H391.2V951H395.9V972.2H400.5V986.1H405.2V972.2H409.9V968.6H414.5V982.1H419.2V975.1H423.9V956.1H428.5V982.9H433.2V976.1H437.9V970.1H442.5V974.6H447.2V984.7H451.9V988.2H456.5V978.2H461.2V980.5H465.9V979.4H470.5V967.7H475.2V971.9H479.9V985.6H484.5V963.8H489.2V955.6H493.9V974.8H498.5V964.2H503.2V943.7H507.9V976.6H512.5V982.5H517.2V969.7H521.9V975.8H526.5V966.7H531.2V988.3H535.9V978.4H540.5V956.3H545.2V983.7H549.9V986.7H554.5V981.4H559.2V975.8H563.9V967.7H568.5V979.3H573.2V973.5H577.9V946.5H582.5V958.2H587.2V980.5H591.9V974.7H596.5V988.1H601.2V959.1H605.9V960.8H610.5V976.3H615.2V960.3H619.9V975.8H624.5V959.9H629.2V985.5H633.9V985.7H638.5V970.8H643.2V987.1H647.9V973.5H652.5V961.2H657.2V987.7H661.9V983.3H666.5V975.1H671.2V984H675.9V949.6H680.5V978.7H685.2V967.9H689.9V965H694.5V978H699.2V976.6H703.9V981.2H708.5V982.6H713.2V959.6H717.9V986.9H722.5V988.3H727.2V935.2H731.9V974.4H736.5V960.2H741.2V962.7H745.9V947.6H750.5V986.8H755.2V954.1H759.9V985.8H764.5V964.6H769.2V983.3H773.9V970.3H778.5V972.7H783.2V978.2H787.9V976.9H792.5V977H797.2V965.9H801.9V969.2H806.5V978.1H811.2V959.3H815.9V984.8H820.5V967H825.2V977.1H829.9V962.3H834.5V967H839.2V970H843.9V971.7H848.5V983.2H853.2V986.7H857.9V975.2H862.5V986.6H867.2V960.5H871.9V985.4H876.5V986.7H881.2V981.4H885.9V973.8H890.5V946.2H895.2V970.4H899.9V975.6H904.5V981.8H909.2V980.9H913.9V986.7H918.5V975.7H923.2V984.4H927.9V978.4H932.5V979.5H937.2V964.7H941.9V946.2H946.5V971.8H951.2V973.4H955.9V977.8H960.5V988.1H965.2V976.2H969.9V972.5H974.5V945.1H979.2V949.1H983.9V985H988.5V971.6H993.2V973.3H997.9V973.5H1002.5V952.1H1007.2V962.8H1011.9V966.2H1016.5V965H1021.2V972.4H1025.9V975.1H1030.5V967.9H1035.2V951.7H1039.9V954.9H1044.5V987.7H1049.2V969.3H1053.9V983.2H1058.5V979.1H1063.2V978.6H1067.9V985.5H1072.5V974.9H1077.2V975.9H1081.9V961.9H1086.5V971.2H1091.2V976.6H1095.9V967.4H1100.5V968H1105.2V951.9H1109.9V986.3H1114.5V982.1H1119.2V970.1H1123.9V977.4H1128.5V983.6H1133.2V976.1H1137.9V975H1142.5V983.2H1147.2V939.9H1151.9V978.9H1156.5V958.8H1161.2V987.1H1165.9V982.1H1170.5V981.7H1175.2V978.7H1179.9V973.8H1184.5V977.1H1189.2V983.7H1193.9V982.1H1198.5V942.6H1203.2V961.2H1207.9V965H1212.5V988.6H1217.2V978.6H1221.9V985.5H1226.5V988H1231.2V981.7H1235.9V974.4H1240.5V974H1245.2V986.5H1249.9V979.4H1254.5V978.4H1259.2V964.8H1263.9V986.4H1268.5V988.6H1273.2V984.8H1277.9V952.8H1282.5V978.9H1287.2V985H1291.9V986.5H1296.5V983.6H1301.2V983.5H1305.9V978.4H1310.5V975H1315.2V973.6H1319.9V972.7H1324.5V980.7H1329.2V963H1333.9V980.5H1338.5V985.2H1343.2V986.1H1347.9V983.5H1352.5V967.6H1357.2V979.7H1361.9V974.8H1366.5V957.7H1371.2V983.2H1375.9V937.3H1380.5V972.9H1385.2V984.5H1389.9V983.3H1394.5V977.3H1399.2V957.9H1403.9V986.9H1408.5V966.7H1413.2V963.3H1417.9V982.4H1422.5V959.4H1427.2V985.6H1431.9V982.5H1436.5V970.8H1441.2V976.2H1445.9V942.6H1450.5V964.1H1455.2V984.2H1459.9V945H1464.5V987H1469.2V987.1H1473.9V934.5H1478.5V986.5H1483.2V978.4H1487.9V985.3H1492.5V967.7H1497.2V983.7H1501.9V981.6H1506.5V972.6H1511.2V985.8H1515.9V978.2H1520.5V974.2H1525.2V980H1529.9V981.6H1534.5V978H1539.2V985.8H1543.9V979.2H1548.5V968.8H1553.2V962H1557.9V958.1H1562.5V977.1H1567.2V944.6H1571.9V982.6H1576.5V952.6H1581.2V971.4H1585.9V984.2H1590.5V981.1H1595.2V964.3H1599.9V986H1604.5V970.1H1609.2V976.2H1613.9V967.1H1618.5V985.2H1623.2V970.7H1627.9V986.8H1632.5V971.7H1637.2V978.5H1641.9V977.9H1646.5V961.3H1651.2V971.7H1655.9V977.1H1660.5V986.8H1665.2V985.1H1669.9V967.7H1674.5V974.5H1679.2V987.6H1683.9V987.5H1688.5V987H1693.2V978.4H1697.9V978.6H1702.5V987.2H1707.2V974.4H1711.9V972.3H1716.5V982H1721.2V980.6H1725.9V971.2H1730.5V950.1H1735.2V960.7H1739.9V962.3H1744.5V979.1H1749.2V960.6H1753.9V941.4H1758.5V961.8H1763.2V958.4H1767.9V965.2H1772.5V952.5H1777.2V967.3H1781.9V976.7H1786.5V973.1H1791.2V974.7H1795.9V986H1800.5V974.4H1805.2V986.9H1809.9V978.4H1814.5V985H1819.2V979H1823.9V946H1828.5V981H1833.2V952.9H1837.9V975.8H1842.5V985.9H1847.2V976.7H1851.9V988.2H1856.5V980.5H1861.2V977.8H1865.9V980.7H1870.5V975.3H1875.2V977.2H1879.9V973H1884.5V984H1889.2V977.7H1893.9V972H1898.5V975.1H1903.2V950.9H1907.9V978.5H1912.5V971.3H1917.2V972.2H1921.9V966.8H1926.5V983.3H1931.2V980.8H1935.9V978.1H1940.5V986H1945.2V988.5H1949.9V975.3H1954.5V957.3H1956.6V1112.6H1954.5V1105.7H1949.9V1119H1945.2V1132H1940.5V1111.1H1935.9V1115.1H1931.2V1103H1926.5V1104H1921.9V1119H1917.2V1102.1H1912.5V1125.6H1907.9V1106.8H1903.2V1107.6H1898.5V1101.2H1893.9V1097.1H1889.2V1112.3H1884.5V1101.3H1879.9V1132.4H1875.2V1103.5H1870.5V1115.1H1865.9V1115H1861.2V1122.5H1856.5V1100.7H1851.9V1128.2H1847.2V1106.3H1842.5V1111.4H1837.9V1110H1833.2V1116.6H1828.5V1105.2H1823.9V1106.9H1819.2V1100.3H1814.5V1131.6H1809.9V1099.8H1805.2V1120.2H1800.5V1132.2H1795.9V1112H1791.2V1125.6H1786.5V1101.1H1781.9V1124.1H1777.2V1109.1H1772.5V1126H1767.9V1095.8H1763.2V1106H1758.5V1115.1H1753.9V1136H1749.2V1102H1744.5V1101.6H1739.9V1105.2H1735.2V1111.9H1730.5V1141.4H1725.9V1102H1721.2V1109.5H1716.5V1098.7H1711.9V1135.9H1707.2V1122.8H1702.5V1096H1697.9V1108.7H1693.2V1121H1688.5V1115.5H1683.9V1102.9H1679.2V1105.2H1674.5V1120.2H1669.9V1110.3H1665.2V1129.6H1660.5V1110.7H1655.9V1137.7H1651.2V1101.1H1646.5V1106H1641.9V1108H1637.2V1110.6H1632.5V1114.4H1627.9V1129.2H1623.2V1125.2H1618.5V1151.9H1613.9V1099.8H1609.2V1107H1604.5V1134H1599.9V1101.7H1595.2V1103.8H1590.5V1095.9H1585.9V1111H1581.2V1105.7H1576.5V1100.9H1571.9V1102.4H1567.2V1101.7H1562.5V1097H1557.9V1122.9H1553.2V1115.2H1548.5V1142.1H1543.9V1103.5H1539.2V1132.3H1534.5V1125.6H1529.9V1120.2H1525.2V1101.6H1520.5V1098H1515.9V1098.2H1511.2V1100.7H1506.5V1113.6H1501.9V1104.4H1497.2V1101H1492.5V1103.1H1487.9V1125.7H1483.2V1096.9H1478.5V1099.5H1473.9V1098.1H1469.2V1103.1H1464.5V1101.9H1459.9V1108.8H1455.2V1121H1450.5V1103.2H1445.9V1098.2H1441.2V1107.5H1436.5V1114.7H1431.9V1097.5H1427.2V1108.9H1422.5V1105.8H1417.9V1101.4H1413.2V1100.1H1408.5V1099.1H1403.9V1102.2H1399.2V1102.9H1394.5V1119.6H1389.9V1116.9H1385.2V1098.5H1380.5V1113.2H1375.9V1106.1H1371.2V1104.2H1366.5V1102.6H1361.9V1102.8H1357.2V1096.5H1352.5V1117.5H1347.9V1116.7H1343.2V1111.4H1338.5V1119.2H1333.9V1101.5H1329.2V1121H1324.5V1100.1H1319.9V1099.5H1315.2V1113.2H1310.5V1115.2H1305.9V1125H1301.2V1104.6H1296.5V1108.2H1291.9V1101.4H1287.2V1115.8H1282.5V1113.7H1277.9V1118.1H1273.2V1113.7H1268.5V1112.6H1263.9V1111.8H1259.2V1113.3H1254.5V1142.6H1249.9V1096.3H1245.2V1095.8H1240.5V1115.7H1235.9V1122.1H1231.2V1103.3H1226.5V1104.8H1221.9V1127.9H1217.2V1097.8H1212.5V1097.8H1207.9V1122.2H1203.2V1099.2H1198.5V1114.8H1193.9V1107H1189.2V1109.9H1184.5V1098.7H1179.9V1100.3H1175.2V1112.4H1170.5V1103.3H1165.9V1097.6H1161.2V1107.5H1156.5V1129.6H1151.9V1128H1147.2V1112.7H1142.5V1098.1H1137.9V1101.5H1133.2V1099.1H1128.5V1103.3H1123.9V1101H1119.2V1123.1H1114.5V1105.2H1109.9V1117.1H1105.2V1103.6H1100.5V1108H1095.9V1112.1H1091.2V1102.1H1086.5V1114.5H1081.9V1106.7H1077.2V1113H1072.5V1102.3H1067.9V1109.6H1063.2V1110.7H1058.5V1107.1H1053.9V1102.7H1049.2V1119.1H1044.5V1100.4H1039.9V1107.1H1035.2V1113.8H1030.5V1100.3H1025.9V1101.7H1021.2V1138.6H1016.5V1120.3H1011.9V1104.4H1007.2V1097.4H1002.5V1104.5H997.9V1098.9H993.2V1120H988.5V1112H983.9V1107.7H979.2V1113.7H974.5V1114H969.9V1098.3H965.2V1106.9H960.5V1130.6H955.9V1108H951.2V1124.9H946.5V1102.7H941.9V1107H937.2V1127.9H932.5V1119.5H927.9V1098.9H923.2V1104.8H918.5V1110.6H913.9V1106.5H909.2V1112.7H904.5V1118.7H899.9V1111.2H895.2V1122.9H890.5V1100.1H885.9V1100.8H881.2V1118.1H876.5V1109.3H871.9V1135.8H867.2V1096.9H862.5V1098.1H857.9V1106.6H853.2V1114.7H848.5V1104.3H843.9V1101H839.2V1104H834.5V1102.7H829.9V1096.2H825.2V1125.5H820.5V1112H815.9V1120.8H811.2V1108.6H806.5V1097.8H801.9V1127.1H797.2V1115.4H792.5V1104.1H787.9V1110.6H783.2V1102.6H778.5V1097.6H773.9V1096.2H769.2V1107.5H764.5V1114.1H759.9V1098H755.2V1104.7H750.5V1128.2H745.9V1112.2H741.2V1107H736.5V1116.2H731.9V1106.9H727.2V1097.3H722.5V1100.2H717.9V1118.1H713.2V1103.9H708.5V1109H703.9V1109H699.2V1102.1H694.5V1116.8H689.9V1130.4H685.2V1143.1H680.5V1098H675.9V1108.4H671.2V1103.2H666.5V1110.4H661.9V1096.6H657.2V1101.8H652.5V1099.5H647.9V1102.4H643.2V1121.1H638.5V1122.6H633.9V1115.6H629.2V1112.9H624.5V1099H619.9V1143.7H615.2V1130.9H610.5V1136.5H605.9V1105.8H601.2V1131.4H596.5V1116.6H591.9V1126.1H587.2V1122.2H582.5V1102.9H577.9V1111.5H573.2V1098.3H568.5V1099.2H563.9V1116H559.2V1105.9H554.5V1111.8H549.9V1126.5H545.2V1099.3H540.5V1103.6H535.9V1125.5H531.2V1108.4H526.5V1095.9H521.9V1101.4H517.2V1121.3H512.5V1098.8H507.9V1097H503.2V1122.4H498.5V1123.1H493.9V1114H489.2V1121.8H484.5V1123.1H479.9V1112.7H475.2V1104.2H470.5V1101.6H465.9V1126.8H461.2V1096.4H456.5V1104.1H451.9V1110.6H447.2V1119.3H442.5V1123.9H437.9V1102.9H433.2V1111.9H428.5V1125.7H423.9V1120.8H419.2V1114.1H414.5V1097.3H409.9V1108.7H405.2V1125.7H400.5V1131.7H395.9V1117.3H391.2V1111.8H386.5V1140.8H381.9V1122H377.2V1113.3H372.5V1103.9H367.9V1109H363.2V1110.3H358.5V1113.2H353.9V1127.8H349.2V1113.1H344.5V1100.3H339.9V1110.1H335.2V1099H330.5V1102.2H325.9V1123.2H321.2V1100H316.5V1097.9H311.9V1103.2H307.2V1116.6H302.5V1118.9H297.9V1105H293.2V1109.8H288.5V1118.8H283.9V1113.6H279.2V1120.9H274.5V1130.5H269.9V1109.5H265.2V1095.9H260.5V1116.5H255.9V1112.3H249.2Z"/>
<path fill="none" stroke="#00f" stroke-width="4.67" stroke-dasharray="14 7" d="M253.2 944.6V1043.8M257.9 1129.4V1043.8M262.5 945.5V1043.8M267.2 938.1V1043.8M271.9 1138.1V1043.8M281.2 942.8V1043.8M290.5 1124.1V1043.8M304.5 1136.7V1043.8M309.2 1123.2V1043.8M332.5 943.7V1043.8M346.5 1129.4V1043.8M351.2 955.9V1043.8M355.9 969.6V1043.8M379.2 939.8V1043.8M393.2 963V1043.8M397.9 1123.2V1043.8M407.2 966V1043.8M411.9 962.2V1043.8M411.9 1141.7V1043.8M430.5 1129.4V1043.8M439.9 970.5V1043.8M439.9 1143.8V1043.8M467.9 1118.7V1043.8M472.5 1127.4V1043.8M477.2 953.3V1043.8M481.9 1139.9V1043.8M495.9 954.1V1043.8M495.9 1122.3V1043.8M500.5 965.7V1043.8M519.2 1118.5V1043.8M523.9 954.5V1043.8M528.5 951.1V1043.8M537.9 1113.3V1043.8M551.9 1122.5V1043.8M556.5 945V1043.8M556.5 1130.9V1043.8M565.9 1144V1043.8M570.5 1130.3V1043.8M575.2 1113.2V1043.8M589.2 947.1V1043.8M603.2 959V1043.8M617.2 954.1V1043.8M621.9 969.1V1043.8M640.5 960.9V1043.8M640.5 1142.7V1043.8M649.9 944.7V1043.8M654.5 961.9V1043.8M654.5 1140.5V1043.8M659.2 966V1043.8M668.5 939.3V1043.8M682.5 1119.5V1043.8M687.2 956.5V1043.8M705.9 962.9V1043.8M719.9 1134.3V1043.8M724.5 942.7V1043.8M743.2 946.5V1043.8M752.5 1118V1043.8M757.2 968.5V1043.8M771.2 1144.9V1043.8M775.9 967.9V1043.8M803.9 961.7V1043.8M803.9 1112.8V1043.8M813.2 966.5V1043.8M813.2 1142.1V1043.8M827.2 1145.2V1043.8M836.5 1113.8V1043.8M841.2 966V1043.8M841.2 1125.2V1043.8M859.9 948.9V1043.8M869.2 1121V1043.8M873.9 969.4V1043.8M887.9 1118.5V1043.8M892.5 939.4V1043.8M897.2 940.2V1043.8M897.2 1135.5V1043.8M901.9 1132.1V1043.8M906.5 953.9V1043.8M915.9 1118.9V1043.8M920.5 959.8V1043.8M920.5 1122.1V1043.8M925.2 955.4V1043.8M925.2 1143.3V1043.8M934.5 1113.9V1043.8M939.2 1124.3V1043.8M943.9 964.7V1043.8M943.9 1119.3V1043.8M948.5 1133.9V1043.8M953.2 940.1V1043.8M967.2 1114.4V1043.8M990.5 1113.6V1043.8M995.2 1129.6V1043.8M1004.5 1121.3V1043.8M1009.2 1142.2V1043.8M1018.5 949.6V1043.8M1023.2 1119V1043.8M1027.9 939.8V1043.8M1027.9 1125.2V1043.8M1032.5 1136.3V1043.8M1037.2 958V1043.8M1037.2 1139.7V1043.8M1041.9 944.1V1043.8M1046.5 961.6V1043.8M1055.9 966.1V1043.8M1074.5 1113.3V1043.8M1083.9 1123.6V1043.8M1088.5 949.6V1043.8M1093.2 958.7V1043.8M1102.5 947.3V1043.8M1107.2 1140.3V1043.8M1116.5 960V1043.8M1121.2 1125.9V1043.8M1130.5 1119.7V1043.8M1135.2 955.1V1043.8M1144.5 938.1V1043.8M1144.5 1118.4V1043.8M1167.9 947.5V1043.8M1167.9 1131.5V1043.8M1177.2 1139.2V1043.8M1181.9 964.1V1043.8M1181.9 1134.9V1043.8M1186.5 1128.8V1043.8M1191.2 947.2V1043.8M1191.2 1142.6V1043.8M1195.9 1139.9V1043.8M1214.5 1132.7V1043.8M1228.5 953V1043.8M1233.2 962V1043.8M1233.2 1135.8V1043.8M1237.9 965.8V1043.8M1242.5 948.5V1043.8M1247.2 1119.2V1043.8M1261.2 947.6V1043.8M1289.2 958.5V1043.8M1303.2 965.8V1043.8M1317.2 944.6V1043.8M1317.2 1132V1043.8M1326.5 964.6V1043.8M1331.2 940.2V1043.8M1335.9 947V1043.8M1340.5 1124.4V1043.8M1349.9 957.1V1043.8M1363.9 1122.7V1043.8M1368.5 962.4V1043.8M1373.2 959.3V1043.8M1377.9 939.4V1043.8M1377.9 1121.8V1043.8M1387.2 1136.1V1043.8M1396.5 1134.7V1043.8M1401.2 952.6V1043.8M1410.5 1130.2V1043.8M1419.9 964.7V1043.8M1424.5 964V1043.8M1424.5 1135.2V1043.8M1429.2 962.5V1043.8M1447.9 965.6V1043.8M1457.2 947.5V1043.8M1461.9 947.4V1043.8M1466.5 956.5V1043.8M1471.2 938.3V1043.8M1475.9 1116.8V1043.8M1480.5 969.4V1043.8M1489.9 944.5V1043.8M1494.5 965.1V1043.8M1494.5 1141.4V1043.8M1499.2 1120V1043.8M1503.9 950.5V1043.8M1513.2 962.5V1043.8M1522.5 942.3V1043.8M1550.5 956.4V1043.8M1559.9 1125.2V1043.8M1569.2 952.3V1043.8M1573.9 1114.2V1043.8M1578.5 953.3V1043.8M1578.5 1118.7V1043.8M1587.9 1129.4V1043.8M1592.5 1142.7V1043.8M1601.9 971V1043.8M1611.2 944.4V1043.8M1629.9 955.4V1043.8M1643.9 962.2V1043.8M1643.9 1141.4V1043.8M1648.5 1121.5V1043.8M1653.2 951.2V1043.8M1657.9 943.7V1043.8M1667.2 1113.1V1043.8M1671.9 1123.7V1043.8M1681.2 942.2V1043.8M1685.9 1116.1V1043.8M1690.5 945.7V1043.8M1704.5 965.5V1043.8M1709.2 1138.3V1043.8M1718.5 967.4V1043.8M1723.2 971V1043.8M1741.9 956.4V1043.8M1741.9 1131.4V1043.8M1751.2 1133.4V1043.8M1755.9 946V1043.8M1765.2 1143.8V1043.8M1788.5 1144.5V1043.8M1793.2 957V1043.8M1811.9 1143.5V1043.8M1821.2 1117.9V1043.8M1825.9 1115.4V1043.8M1835.2 954.3V1043.8M1844.5 970.5V1043.8M1853.9 970V1043.8M1858.5 1121.2V1043.8M1863.2 943.1V1043.8M1867.9 959.6V1043.8M1867.9 1112.6V1043.8M1881.9 1135.7V1043.8M1895.9 1117.7V1043.8M1909.9 964.1V1043.8M1914.5 956.4V1043.8M1914.5 1133.4V1043.8M1919.2 1138.6V1043.8M1942.5 1141.8V1043.8"/>
<path fill="#000" d="M447.2 1096h4.7v2.3h-4.7zM293.2 1103.4h4.7v4.7h-4.7zM1182.2 1101.1h4.7v7h-4.7zM1023.5 975.8h2.3v4.7h-2.3zM1933.5 988.6h2.3v7h-2.3zM302.5 1003h2.3v4.7h-2.3zM706.2 1085.9h4.7v2.3h-4.7zM969.9 996.5h4.7v2.3h-4.7zM1709.5 1091.6h4.7v4.7h-4.7zM722.5 1089h2.3v4.7h-2.3zM1501.9 1090.3h4.7v7h-4.7zM1312.9 1108.5h2.3v4.7h-2.3zM1023.5 1115.7h2.3v7h-2.3zM668.9 1111.6h2.3v4.7h-2.3zM685.2 1112.7h4.7v4.7h-4.7zM1492.5 989.2h2.3v2.3h-2.3zM822.9 1087.7h2.3v2.3h-2.3zM1340.9 986.9h2.3v4.7h-2.3zM1851.9 978.1h4.7v7h-4.7zM1028.2 979.9h2.3v2.3h-2.3zM974.5 1084.6h4.7v7h-4.7zM1352.5 1113.2h2.3v7h-2.3zM696.9 989.3h2.3v4.7h-2.3zM834.5 992.7h2.3v2.3h-2.3zM1427.2 1078.1h2.3v7h-2.3zM1798.2 984.8h2.3v4.7h-2.3zM1429.5 988.2h2.3v4.7h-2.3zM1644.2 974.7h2.3v2.3h-2.3zM1224.2 990.1h2.3v2.3h-2.3zM1532.2 1110.8h2.3v4.7h-2.3zM1718.9 976h4.7v7h-4.7zM1868.2 985h2.3v2.3h-2.3zM724.9 1002.1h4.7v2.3h-4.7zM1921.9 972.8h4.7v4.7h-4.7zM533.5 985.2h2.3v7h-2.3zM629.2 1084h4.7v2.3h-4.7zM1032.9 976.3h4.7v7h-4.7zM1182.2 999.7h2.3v4.7h-2.3zM1924.2 1006.8h4.7v2.3h-4.7zM675.9 1092.1h2.3v2.3h-2.3zM1779.5 1082h2.3v2.3h-2.3zM1571.9 1084.8h2.3v4.7h-2.3zM1788.9 999.5h2.3v4.7h-2.3zM743.5 1115.1h2.3v2.3h-2.3zM1483.2 1091.8h2.3v2.3h-2.3zM787.9 1001.5h4.7v7h-4.7zM1368.9 982.2h2.3v7h-2.3zM1779.5 980.7h2.3v2.3h-2.3zM570.9 1006.6h4.7v7h-4.7zM815.9 995.5h2.3v7h-2.3zM1809.9 976.4h2.3v4.7h-2.3zM1830.9 1008.8h2.3v2.3h-2.3zM1772.5 1115.2h2.3v4.7h-2.3zM1464.5 999h2.3v4.7h-2.3zM675.9 1101.2h4.7v4.7h-4.7zM612.9 1083h4.7v2.3h-4.7zM1067.9 1113.4h2.3v2.3h-2.3zM1858.9 999.5h2.3v7h-2.3zM1665.2 1083.9h2.3v2.3h-2.3zM1541.5 994.6h4.7v4.7h-4.7zM384.2 997.6h2.3v4.7h-2.3zM353.9 1004.5h2.3v4.7h-2.3zM1287.2 1008h4.7v4.7h-4.7zM1464.5 983.3h2.3v2.3h-2.3zM1466.9 995h4.7v4.7h-4.7zM727.2 1000.6h2.3v4.7h-2.3zM1672.2 1091.1h2.3v4.7h-2.3zM1126.2 1101.3h2.3v4.7h-2.3zM260.5 1094h4.7v7h-4.7zM1609.2 1115.3h2.3v2.3h-2.3zM1634.9 1089.5h4.7v4.7h-4.7zM1784.2 1115.2h2.3v7h-2.3zM591.9 990.9h4.7v4.7h-4.7zM386.5 1093.3h2.3v2.3h-2.3zM1653.5 993.1h4.7v7h-4.7zM419.2 993.4h2.3v4.7h-2.3zM519.5 1090.4h2.3v7h-2.3zM1583.5 1096.3h4.7v2.3h-4.7zM1653.5 1092h2.3v4.7h-2.3zM1891.5 1084.4h2.3v2.3h-2.3zM1893.9 982.7h2.3v4.7h-2.3zM1529.9 1089.3h4.7v7h-4.7zM603.5 1102h2.3v4.7h-2.3zM1527.5 980.5h2.3v2.3h-2.3zM874.2 1105.9h2.3v7h-2.3zM1480.9 1006.6h2.3v2.3h-2.3zM1595.2 982.1h2.3v7h-2.3zM1487.9 975.8h4.7v4.7h-4.7zM1546.2 1082.1h4.7v4.7h-4.7zM489.2 1113.5h2.3v7h-2.3zM1343.2 990h4.7v4.7h-4.7zM1938.2 988.1h4.7v2.3h-4.7zM1100.5 1115h2.3v4.7h-2.3zM862.5 1004.6h2.3v7h-2.3zM1170.5 1007.7h2.3v4.7h-2.3zM1856.5 1111.6h2.3v7h-2.3zM624.5 996h2.3v7h-2.3zM1891.5 1097.1h4.7v7h-4.7zM1716.5 1082.2h2.3v7h-2.3zM1450.5 974h4.7v4.7h-4.7zM843.9 1088.6h2.3v4.7h-2.3zM1205.5 972.7h2.3v4.7h-2.3zM1347.9 1083.8h4.7v4.7h-4.7zM288.5 973.2h2.3v4.7h-2.3zM1641.9 988.1h4.7v7h-4.7zM344.5 1109.8h2.3v7h-2.3zM1665.2 1083.7h2.3v2.3h-2.3zM659.5 1002.4h2.3v2.3h-2.3zM325.9 1101.1h4.7v4.7h-4.7zM1109.9 1000.3h4.7v7h-4.7zM1522.9 1100.1h2.3v4.7h-2.3zM1816.9 1107.2h2.3v7h-2.3zM1436.5 1081.7h2.3v2.3h-2.3zM1256.9 1006.4h2.3v4.7h-2.3zM1679.2 1090.9h2.3v7h-2.3zM1046.9 971.9h2.3v4.7h-2.3zM1478.5 1007.2h2.3v4.7h-2.3zM808.9 990.3h4.7v7h-4.7zM983.9 1102.6h4.7v7h-4.7zM1336.2 1008.7h2.3v2.3h-2.3zM519.5 1079h4.7v4.7h-4.7zM388.9 1090.2h4.7v7h-4.7zM1385.2 1008.5h2.3v4.7h-2.3zM1709.5 1005.9h4.7v2.3h-4.7zM1541.5 1002.9h2.3v2.3h-2.3zM1252.2 1081h2.3v4.7h-2.3zM643.2 1096.5h2.3v4.7h-2.3zM701.5 1095.5h2.3v7h-2.3zM1189.2 1002.8h4.7v7h-4.7zM916.2 1004.6h2.3v4.7h-2.3zM1490.2 984h2.3v4.7h-2.3zM848.5 1003.4h4.7v2.3h-4.7zM1389.9 1089.6h2.3v4.7h-2.3zM757.5 1106.5h2.3v4.7h-2.3zM1926.5 974.7h4.7v4.7h-4.7zM1203.2 1089h4.7v4.7h-4.7zM1676.9 1003.7h4.7v2.3h-4.7zM1798.2 983.1h4.7v4.7h-4.7zM283.9 1106.3h2.3v4.7h-2.3zM1296.5 1100.4h4.7v2.3h-4.7zM848.5 1109.1h2.3v2.3h-2.3zM1322.2 1081.1h2.3v4.7h-2.3zM1406.2 984.2h2.3v4.7h-2.3zM449.5 1004.6h2.3v4.7h-2.3zM1284.9 1099.7h4.7v7h-4.7zM673.5 982h2.3v7h-2.3zM976.9 1000.8h4.7v4.7h-4.7zM1203.2 1089.2h4.7v4.7h-4.7zM1368.9 1097.1h2.3v4.7h-2.3zM276.9 1108.7h4.7v2.3h-4.7zM1140.2 1003.6h2.3v7h-2.3zM1238.2 1114.1h4.7v4.7h-4.7zM748.2 1099.7h4.7v4.7h-4.7zM365.5 1097.7h4.7v4.7h-4.7zM696.9 1092.1h4.7v4.7h-4.7zM862.5 1089.7h2.3v7h-2.3zM647.9 1083.1h2.3v7h-2.3zM1294.2 1084.1h4.7v4.7h-4.7zM951.2 999.5h2.3v7h-2.3zM1147.2 1007.1h4.7v2.3h-4.7zM1896.2 1082.8h2.3v2.3h-2.3zM465.9 1005.4h2.3v4.7h-2.3zM738.9 988.1h2.3v4.7h-2.3zM1924.2 983.2h2.3v4.7h-2.3zM736.5 1002.5h2.3v2.3h-2.3zM1107.5 1109.7h4.7v2.3h-4.7zM1595.2 1096.8h2.3v4.7h-2.3zM437.9 1083.8h2.3v4.7h-2.3zM1947.5 1096.5h2.3v4.7h-2.3zM1354.9 1094.2h2.3v2.3h-2.3zM972.2 1096.8h4.7v4.7h-4.7zM974.5 1088.4h2.3v4.7h-2.3zM1658.2 1109.6h2.3v7h-2.3zM1548.5 987.7h4.7v2.3h-4.7zM1035.2 980h2.3v7h-2.3zM580.2 988.7h4.7v4.7h-4.7zM573.2 980.4h4.7v7h-4.7zM407.5 1005h4.7v7h-4.7zM1128.5 1095.8h4.7v4.7h-4.7zM524.2 994.4h4.7v2.3h-4.7zM993.2 1001.2h2.3v2.3h-2.3zM694.5 984.3h2.3v2.3h-2.3zM437.9 995h4.7v4.7h-4.7zM1525.2 1087.7h4.7v2.3h-4.7zM682.9 1090.5h2.3v7h-2.3zM288.5 984.5h4.7v4.7h-4.7zM1690.9 1113.2h2.3v7h-2.3zM503.2 995.2h4.7v2.3h-4.7zM1471.5 974.2h2.3v4.7h-2.3zM1760.9 1098.7h2.3v7h-2.3zM1112.2 974.5h2.3v2.3h-2.3zM1207.9 977.7h4.7v7h-4.7zM1921.9 1087.2h2.3v4.7h-2.3zM349.2 1112h2.3v4.7h-2.3zM1331.5 987.9h4.7v2.3h-4.7zM1420.2 1100.1h2.3v4.7h-2.3zM923.2 1089.2h4.7v4.7h-4.7zM979.2 1115.1h4.7v4.7h-4.7zM944.2 1113.6h2.3v2.3h-2.3zM934.9 1082h2.3v4.7h-2.3zM251.2 997h4.7v4.7h-4.7zM1574.2 1001h4.7v7h-4.7zM755.2 1097.7h4.7v4.7h-4.7zM1835.5 1097.9h2.3v7h-2.3zM300.2 1004.1h2.3v4.7h-2.3zM468.2 1001.5h4.7v4.7h-4.7zM1338.5 993.8h2.3v7h-2.3zM1175.2 987.6h2.3v4.7h-2.3zM1310.5 982.5h2.3v7h-2.3zM1851.9 997h4.7v4.7h-4.7zM1016.5 1004.3h2.3v4.7h-2.3zM1926.5 983.5h2.3v7h-2.3zM416.9 1008.4h4.7v4.7h-4.7zM281.5 995.4h2.3v4.7h-2.3zM1688.5 980.1h4.7v4.7h-4.7zM1105.2 1084.3h2.3v7h-2.3zM1786.5 1080.2h2.3v4.7h-2.3zM1536.9 985.1h4.7v2.3h-4.7zM505.5 1003.8h4.7v2.3h-4.7zM1763.2 1086.7h2.3v2.3h-2.3zM465.9 1001.6h2.3v2.3h-2.3zM1567.2 1114.3h4.7v7h-4.7zM881.2 978.6h2.3v2.3h-2.3zM1079.5 977.5h2.3v4.7h-2.3zM1765.5 978.7h4.7v4.7h-4.7zM717.9 1111.8h4.7v4.7h-4.7zM552.2 1082.2h2.3v4.7h-2.3zM489.2 993.6h4.7v2.3h-4.7zM1193.9 1080.6h4.7v4.7h-4.7zM1137.9 976h2.3v4.7h-2.3zM596.5 1082.1h4.7v4.7h-4.7zM1492.5 972.9h4.7v4.7h-4.7zM346.9 1105.3h4.7v2.3h-4.7zM1331.5 1079.8h4.7v2.3h-4.7zM1529.9 1108.9h4.7v4.7h-4.7zM1161.2 978.7h2.3v4.7h-2.3zM846.2 981.1h2.3v4.7h-2.3zM1672.2 995.3h2.3v2.3h-2.3zM1070.2 1106.1h4.7v2.3h-4.7zM1903.2 987.3h2.3v4.7h-2.3zM503.2 1112.2h4.7v4.7h-4.7zM1884.5 1088.1h4.7v4.7h-4.7zM255.9 997.6h2.3v2.3h-2.3zM283.9 1101.2h4.7v2.3h-4.7zM1861.2 985.8h2.3v2.3h-2.3zM603.5 985.6h2.3v2.3h-2.3zM342.2 998.9h4.7v4.7h-4.7zM1175.2 973.4h2.3v7h-2.3zM1039.9 1110h2.3v2.3h-2.3zM335.2 979.8h2.3v4.7h-2.3zM703.9 980.2h2.3v4.7h-2.3zM1627.9 986.6h4.7v2.3h-4.7zM883.5 1004.9h2.3v4.7h-2.3zM1030.5 1092h4.7v4.7h-4.7zM1196.2 1110.9h2.3v7h-2.3zM729.5 1096.5h4.7v4.7h-4.7zM668.9 1105.3h2.3v2.3h-2.3zM1198.5 1107.7h4.7v4.7h-4.7zM528.9 1078.5h2.3v7h-2.3zM1665.2 986.8h4.7v7h-4.7zM454.2 1112.3h4.7v2.3h-4.7zM444.9 1001.6h2.3v4.7h-2.3zM862.5 1008.7h2.3v4.7h-2.3zM722.5 1080.3h4.7v2.3h-4.7zM258.2 972.3h2.3v4.7h-2.3zM1487.9 1112.8h2.3v2.3h-2.3zM1653.5 1099.4h4.7v2.3h-4.7zM997.9 1115h4.7v4.7h-4.7zM1704.9 974h4.7v7h-4.7zM314.2 1096.8h4.7v2.3h-4.7zM1581.2 1095h2.3v4.7h-2.3zM1529.9 1098.4h4.7v2.3h-4.7zM1448.2 1001.3h2.3v7h-2.3zM990.9 999.4h2.3v2.3h-2.3zM465.9 980.9h2.3v4.7h-2.3zM274.5 1110.2h2.3v4.7h-2.3zM547.5 1109h4.7v4.7h-4.7zM988.5 989.4h4.7v4.7h-4.7zM731.9 1110.6h4.7v4.7h-4.7zM1408.5 1004.8h2.3v4.7h-2.3zM951.2 1115.6h2.3v2.3h-2.3zM1550.9 1082.3h2.3v2.3h-2.3zM941.9 1108h4.7v4.7h-4.7zM1630.2 1101.6h4.7v2.3h-4.7zM1693.2 1107.5h2.3v7h-2.3zM946.5 1091.7h2.3v2.3h-2.3zM1226.5 972.6h2.3v4.7h-2.3zM1312.9 1090.8h4.7v4.7h-4.7zM1116.9 1115.6h4.7v4.7h-4.7zM1543.9 1092.5h2.3v7h-2.3zM589.5 986.1h4.7v2.3h-4.7zM260.5 977.9h4.7v4.7h-4.7zM1011.9 995.4h2.3v4.7h-2.3zM412.2 1111.7h2.3v2.3h-2.3zM1688.5 1112.7h4.7v4.7h-4.7zM344.5 996.1h2.3v4.7h-2.3zM1812.2 1078.7h2.3v4.7h-2.3zM1382.9 983.3h4.7v4.7h-4.7zM1366.5 1007h2.3v4.7h-2.3zM1784.2 977.5h2.3v4.7h-2.3zM1655.9 994.4h2.3v7h-2.3zM1455.2 984.2h2.3v4.7h-2.3zM309.5 1109.6h2.3v7h-2.3zM444.9 994.9h2.3v4.7h-2.3zM339.9 999.3h2.3v7h-2.3zM657.2 1095.2h4.7v2.3h-4.7zM1564.9 1111.1h2.3v4.7h-2.3zM1595.2 999h2.3v7h-2.3zM1401.5 998.8h2.3v4.7h-2.3zM526.5 1099.5h4.7v7h-4.7zM260.5 1085.3h2.3v4.7h-2.3zM1522.9 1004h2.3v7h-2.3zM850.9 984h2.3v2.3h-2.3zM1338.5 973.9h2.3v7h-2.3zM1389.9 984.3h4.7v2.3h-4.7zM927.9 1101.7h2.3v7h-2.3zM825.2 973.5h4.7v2.3h-4.7zM1805.2 1002h2.3v7h-2.3zM722.5 1112.6h4.7v4.7h-4.7zM1168.2 1115.4h2.3v7h-2.3zM381.9 1105.2h4.7v7h-4.7zM566.2 996.2h2.3v4.7h-2.3zM1770.2 989.8h2.3v7h-2.3zM1452.9 1102.1h2.3v4.7h-2.3zM1926.5 993.9h2.3v7h-2.3zM556.9 1082.8h2.3v4.7h-2.3zM337.5 1009.4h2.3v7h-2.3zM1408.5 1110.8h2.3v4.7h-2.3zM353.9 995.8h2.3v2.3h-2.3zM1240.5 1110.2h2.3v4.7h-2.3zM1396.9 983.5h4.7v2.3h-4.7zM1665.2 1001.3h4.7v4.7h-4.7zM806.5 974.4h2.3v4.7h-2.3zM1529.9 1084.4h4.7v7h-4.7zM1420.2 986.6h2.3v4.7h-2.3zM622.2 1002.1h4.7v2.3h-4.7zM468.2 1081.8h2.3v7h-2.3zM1392.2 1006.8h2.3v2.3h-2.3zM1543.9 976.6h4.7v4.7h-4.7zM1905.5 1095.2h2.3v2.3h-2.3zM1725.9 1103.5h2.3v4.7h-2.3zM1228.9 1099.3h2.3v4.7h-2.3zM1436.5 997.2h4.7v4.7h-4.7zM696.9 972.2h2.3v4.7h-2.3zM1000.2 1006.1h2.3v4.7h-2.3zM1011.9 1005.8h2.3v4.7h-2.3zM477.5 1082h2.3v2.3h-2.3zM694.5 1084h4.7v4.7h-4.7zM563.9 1081h2.3v4.7h-2.3zM780.9 1112.5h2.3v4.7h-2.3zM1884.5 994.7h2.3v7h-2.3zM1875.2 1006.6h2.3v2.3h-2.3zM906.9 984.7h4.7v4.7h-4.7zM1616.2 986.7h2.3v4.7h-2.3zM1758.5 1002.7h2.3v4.7h-2.3zM822.9 1091.1h2.3v4.7h-2.3zM1590.5 989.7h2.3v4.7h-2.3zM1074.9 1106.7h2.3v7h-2.3zM1322.2 1082.1h4.7v7h-4.7zM339.9 1002.8h2.3v2.3h-2.3zM1172.9 1106h4.7v4.7h-4.7zM1494.9 1088.1h2.3v4.7h-2.3zM955.9 1079.2h2.3v4.7h-2.3zM976.9 980.6h2.3v4.7h-2.3zM1548.5 1083h4.7v7h-4.7zM804.2 1003.1h4.7v4.7h-4.7zM1140.2 988.1h4.7v4.7h-4.7zM1422.5 1001.3h2.3v7h-2.3zM862.5 983.8h2.3v4.7h-2.3zM542.9 1082.7h4.7v4.7h-4.7zM1648.9 1078.3h2.3v4.7h-2.3zM1261.5 993.1h2.3v7h-2.3zM1014.2 1112.7h2.3v4.7h-2.3zM1147.2 1085.6h2.3v4.7h-2.3zM951.2 1009.7h4.7v4.7h-4.7zM916.2 988.6h2.3v4.7h-2.3zM1375.9 980.6h4.7v7h-4.7zM1030.5 989.6h4.7v4.7h-4.7zM500.9 991.2h4.7v7h-4.7zM269.9 974.4h2.3v4.7h-2.3zM1688.5 1092.7h2.3v4.7h-2.3zM407.5 1004.7h2.3v2.3h-2.3zM1718.9 1102h4.7v4.7h-4.7zM946.5 1082.1h2.3v4.7h-2.3zM1753.9 1086h2.3v7h-2.3zM1067.9 1102.4h4.7v2.3h-4.7zM806.5 1082h2.3v4.7h-2.3zM1249.9 1087.2h2.3v7h-2.3zM640.9 1109h2.3v7h-2.3zM1772.5 1112.3h2.3v4.7h-2.3zM402.9 1093.2h2.3v4.7h-2.3zM1252.2 992.1h2.3v2.3h-2.3zM1637.2 1102.3h2.3v7h-2.3zM293.2 1008.3h4.7v2.3h-4.7zM407.5 974.3h4.7v4.7h-4.7zM1599.9 988.1h2.3v4.7h-2.3zM1483.2 1092.2h2.3v4.7h-2.3zM1938.2 1090.6h4.7v2.3h-4.7zM883.5 1100.2h4.7v4.7h-4.7zM1616.2 1082h4.7v2.3h-4.7zM1042.2 1007.1h4.7v4.7h-4.7zM787.9 1100.1h2.3v4.7h-2.3zM1126.2 989h4.7v4.7h-4.7zM1522.9 982.7h4.7v2.3h-4.7zM862.5 990.9h2.3v2.3h-2.3zM1865.9 981h2.3v4.7h-2.3zM1021.2 993.6h2.3v4.7h-2.3zM1525.2 987.7h2.3v4.7h-2.3zM265.2 973.5h4.7v4.7h-4.7zM547.5 979.2h2.3v7h-2.3zM1142.5 1111.1h2.3v4.7h-2.3zM1856.5 1085.6h4.7v7h-4.7zM1506.5 980.2h2.3v4.7h-2.3zM255.9 1102.9h4.7v2.3h-4.7zM1247.5 1083h2.3v4.7h-2.3zM542.9 989.9h4.7v2.3h-4.7zM892.9 983.8h2.3v4.7h-2.3zM1653.5 1006.5h4.7v2.3h-4.7zM405.2 1000.6h4.7v7h-4.7zM605.9 1094.7h4.7v4.7h-4.7zM1574.2 1006.6h4.7v4.7h-4.7zM269.9 1104.3h2.3v2.3h-2.3zM1653.5 1087.9h2.3v4.7h-2.3zM1371.2 1086.1h2.3v7h-2.3zM1518.2 1096h2.3v2.3h-2.3zM573.2 976.2h2.3v7h-2.3zM678.2 1008.4h4.7v7h-4.7zM276.9 1003.9h2.3v2.3h-2.3zM1487.9 1113.6h2.3v4.7h-2.3zM1053.9 983h4.7v2.3h-4.7zM258.2 1093.9h2.3v2.3h-2.3zM1819.2 974.6h4.7v2.3h-4.7zM1945.2 976.3h2.3v2.3h-2.3zM337.5 1112.5h2.3v4.7h-2.3zM682.9 977.8h2.3v7h-2.3zM1658.2 1104.9h2.3v4.7h-2.3zM290.9 978h2.3v4.7h-2.3zM650.2 1100.4h4.7v4.7h-4.7zM344.5 1081.5h2.3v2.3h-2.3zM836.9 980.2h4.7v7h-4.7zM1947.5 1112.2h2.3v2.3h-2.3zM612.9 1006.8h4.7v7h-4.7zM1175.2 1006h2.3v7h-2.3zM1200.9 1004.1h4.7v7h-4.7zM1184.5 1104.5h4.7v2.3h-4.7zM398.2 1099.6h2.3v4.7h-2.3zM1238.2 1095.7h2.3v7h-2.3zM699.2 998.9h2.3v2.3h-2.3zM309.5 993.2h2.3v2.3h-2.3zM1774.9 1115h2.3v4.7h-2.3zM1394.5 976.5h4.7v2.3h-4.7zM1389.9 1080.6h2.3v2.3h-2.3zM1333.9 993.2h2.3v4.7h-2.3zM1387.5 1103.6h2.3v2.3h-2.3zM1746.9 988.9h2.3v4.7h-2.3zM706.2 1095.2h2.3v7h-2.3zM741.2 998.8h4.7v7h-4.7zM1875.2 1091.4h2.3v2.3h-2.3zM878.9 1103.5h4.7v4.7h-4.7zM596.5 1003.2h2.3v2.3h-2.3zM673.5 974.3h2.3v7h-2.3zM468.2 975.5h2.3v2.3h-2.3zM778.5 973.1h2.3v2.3h-2.3zM708.5 1103.7h4.7v2.3h-4.7zM1214.9 978.4h2.3v4.7h-2.3zM1483.2 1093.4h2.3v4.7h-2.3zM1672.2 991.4h2.3v4.7h-2.3zM1371.2 1098.7h2.3v4.7h-2.3zM1786.5 1111.3h2.3v4.7h-2.3zM1466.9 998.2h2.3v7h-2.3zM580.2 1001.7h4.7v7h-4.7zM1653.5 1111.7h4.7v4.7h-4.7zM972.2 1087.9h2.3v4.7h-2.3zM1606.9 988.5h2.3v4.7h-2.3zM416.9 1094.2h2.3v4.7h-2.3zM1931.2 980.1h4.7v4.7h-4.7zM1228.9 1079h2.3v2.3h-2.3zM1354.9 986.6h2.3v7h-2.3zM1914.9 1004.8h4.7v4.7h-4.7zM379.5 1079.9h2.3v4.7h-2.3zM1364.2 991.8h2.3v4.7h-2.3zM1667.5 988.4h2.3v7h-2.3zM251.2 1082.8h2.3v4.7h-2.3zM465.9 977.6h4.7v2.3h-4.7zM913.9 988.5h4.7v2.3h-4.7zM1623.2 1078.7h4.7v4.7h-4.7zM1833.2 1009.2h2.3v7h-2.3zM1261.5 973.2h2.3v7h-2.3zM633.9 987.9h2.3v7h-2.3zM512.5 1099.2h2.3v2.3h-2.3zM629.2 996.5h2.3v4.7h-2.3zM1429.5 1009.6h2.3v4.7h-2.3zM610.5 1095.1h2.3v4.7h-2.3zM1049.2 1104h4.7v2.3h-4.7zM1536.9 1002.1h2.3v4.7h-2.3zM400.5 1108h4.7v7h-4.7zM507.9 1112.6h4.7v2.3h-4.7zM804.2 1099.2h4.7v4.7h-4.7zM1611.5 973.6h2.3v4.7h-2.3zM769.2 1104.8h2.3v4.7h-2.3zM1518.2 991.4h2.3v4.7h-2.3zM1126.2 988.8h2.3v4.7h-2.3zM713.2 1082.3h2.3v4.7h-2.3zM414.5 993h2.3v7h-2.3zM1093.5 1003.1h4.7v2.3h-4.7zM1693.2 980.8h2.3v2.3h-2.3zM981.5 1099.3h4.7v4.7h-4.7zM1536.9 995.7h4.7v4.7h-4.7zM857.9 981.3h2.3v2.3h-2.3zM713.2 1096.4h2.3v2.3h-2.3zM1786.5 991.3h2.3v2.3h-2.3zM841.5 995.6h2.3v4.7h-2.3zM540.5 1098.8h4.7v4.7h-4.7zM1541.5 1001.7h2.3v2.3h-2.3zM1469.2 1083.1h2.3v4.7h-2.3zM1291.9 972.3h2.3v7h-2.3zM598.9 988.5h2.3v4.7h-2.3zM1506.5 1004.1h2.3v2.3h-2.3zM444.9 1006.4h4.7v4.7h-4.7zM1702.5 1007.2h2.3v4.7h-2.3z"/>
<path fill="#0f0" d="M249.2 1019V1019H255.9V1016H260.5V1017.4H265.2V1008.7H269.9V1022.1H274.5V1023.2H279.2V1023.3H283.9V1007.3H288.5V1010.8H293.2V1023.3H297.9V1023.3H302.5V1020.5H307.2V1023.3H311.9V1012.7H316.5V1007.3H321.2V1023.3H325.9V1022.8H330.5V1023.3H335.2V1012.9H339.9V1017.3H344.5V1021.2H349.2V1022.9H353.9V1013.8H358.5V1014.7H363.2V1023.1H367.9V1017.2H372.5V1023.3H377.2V1023.1H381.9V1017.9H386.5V1022.9H391.2V1009H395.9V1016.1H400.5V1021.7H405.2V1021.8H409.9V1020H414.5V1022.4H419.2V1009.6H423.9V1023.3H428.5V1022.7H433.2V1023.2H437.9V1023.3H442.5V1023.1H447.2V1014.7H451.9V1021.8H456.5V1021.4H461.2V1021.3H465.9V1021.1H470.5V1020.5H475.2V1023.3H479.9V1009.6H484.5V1023.2H489.2V1019.1H493.9V1021.3H498.5V1023.3H503.2V1021.6H507.9V1023.3H512.5V1014H517.2V1022.4H521.9V1022H526.5V1023.3H531.2V1023.3H535.9V1020.8H540.5V1020.8H545.2V1023.3H549.9V1022.7H554.5V1022.6H559.2V1015.7H563.9V1007.3H568.5V1022.6H573.2V1022.7H577.9V1019.5H582.5V1023.3H587.2V1019.6H591.9V1018.2H596.5V1023.3H601.2V1016.8H605.9V1016.3H610.5V1015.5H615.2V1015.8H619.9V1022.8H624.5V1011.6H629.2V1021H633.9V1016.7H638.5V1021.6H643.2V1023.1H647.9V1022.1H652.5V1020.5H657.2V1023.1H661.9V1021.9H666.5V1019H671.2V1014.4H675.9V1023.3H680.5V1023.3H685.2V1022.9H689.9V1021H694.5V1021.5H699.2V1017.7H703.9V1011.8H708.5V1023.3H713.2V1023.3H717.9V1019.5H722.5V1023.3H727.2V1022H731.9V1020.4H736.5V1009.8H741.2V1022.6H745.9V1013.4H750.5V1023.3H755.2V1014.2H759.9V1019.5H764.5V1020.5H769.2V1023.3H773.9V1021.2H778.5V1020.1H783.2V1013.3H787.9V1020.9H792.5V1022H797.2V1009.8H801.9V1019.4H806.5V1018.2H811.2V1022.6H815.9V1021.6H820.5V1022.6H825.2V1021.9H829.9V1022.6H834.5V1020H839.2V1018.4H843.9V1008.6H848.5V1023.3H853.2V1015.9H857.9V1021.5H862.5V1022.9H867.2V1023.3H871.9V1023.3H876.5V1021.1H881.2V1019H885.9V1020.9H890.5V1022H895.2V1022.5H899.9V1021.7H904.5V1012H909.2V1022.2H913.9V1023.2H918.5V1022.1H923.2V1023.3H927.9V1016.9H932.5V1020.7H937.2V1020H941.9V1015.4H946.5V1023.3H951.2V1023.3H955.9V1021.9H960.5V1023H965.2V1019.9H969.9V1020.4H974.5V1023.3H979.2V1023.2H983.9V1017.6H988.5V1023.3H993.2V1017.1H997.9V1010.3H1002.5V1013.6H1007.2V1017.8H1011.9V1021.1H1016.5V1012.2H1021.2V1020.2H1025.9V1023.3H1030.5V1019.2H1035.2V1022H1039.9V1023.3H1044.5V1021.8H1049.2V1020.3H1053.9V1022.7H1058.5V1021H1063.2V1022.8H1067.9V1021.5H1072.5V1022.8H1077.2V1022.5H1081.9V1013.6H1086.5V1016.6H1091.2V1019.1H1095.9V1013.7H1100.5V1019H1105.2V1019.2H1109.9V1013.2H1114.5V1020.8H1119.2V1023.3H1123.9V1018.8H1128.5V1012.7H1133.2V1015.6H1137.9V1018.2H1142.5V1023.3H1147.2V1023.3H1151.9V1022.9H1156.5V1023.3H1161.2V1023H1165.9V1023.2H1170.5V1021H1175.2V1017.2H1179.9V1021.8H1184.5V1020H1189.2V1020.4H1193.9V1020.1H1198.5V1022.2H1203.2V1020.7H1207.9V1023.3H1212.5V1022.9H1217.2V1020.1H1221.9V1020.7H1226.5V1023.3H1231.2V1019.8H1235.9V1016.9H1240.5V1022.2H1245.2V1023.3H1249.9V1021H1254.5V1021.5H1259.2V1020.2H1263.9V1023.1H1268.5V1022.5H1273.2V1020.9H1277.9V1018.9H1282.5V1015.6H1287.2V1021.1H1291.9V1023.3H1296.5V1017.2H1301.2V1023.3H1305.9V1023.3H1310.5V1018.4H1315.2V1022.3H1319.9V1021.2H1324.5V1023.2H1329.2V1023.2H1333.9V1021.9H1338.5V1023.3H1343.2V1022.2H1347.9V1018.5H1352.5V1018.6H1357.2V1023.3H1361.9V1023.1H1366.5V1018.2H1371.2V1023.3H1375.9V1018.3H1380.5V1021.8H1385.2V1021H1389.9V1023.3H1394.5V1017H1399.2V1017.2H1403.9V1019.8H1408.5V1011H1413.2V1023.3H1417.9V1023.2H1422.5V1013.7H1427.2V1019.5H1431.9V1020.9H1436.5V1014H1441.2V1020.1H1445.9V1018.3H1450.5V1017H1455.2V1022.7H1459.9V1012.5H1464.5V1021.4H1469.2V1022.2H1473.9V1011.8H1478.5V1023.3H1483.2V1023.3H1487.9V1023.3H1492.5V1021.8H1497.2V1023.1H1501.9V1017.7H1506.5V1023.3H1511.2V1023.2H1515.9V1011.9H1520.5V1023.3H1525.2V1022.8H1529.9V1023.3H1534.5V1023.3H1539.2V1016.5H1543.9V1016.4H1548.5V1009.2H1553.2V1020.3H1557.9V1023.3H1562.5V1020.9H1567.2V1021.8H1571.9V1020.9H1576.5V1023.3H1581.2V1020.6H1585.9V1022.1H1590.5V1023.3H1595.2V1021.3H1599.9V1023.3H1604.5V1015H1609.2V1022.9H1613.9V1023.3H1618.5V1015.7H1623.2V1023.3H1627.9V1023.3H1632.5V1023H1637.2V1023.3H1641.9V1020.4H1646.5V1013.5H1651.2V1023.3H1655.9V1020.8H1660.5V1020.9H1665.2V1017.2H1669.9V1023.3H1674.5V1021.8H1679.2V1021.7H1683.9V1021H1688.5V1020.3H1693.2V1023.2H1697.9V1023.3H1702.5V1022.9H1707.2V1019.2H1711.9V1023.3H1716.5V1018.8H1721.2V1021.5H1725.9V1021.4H1730.5V1023.3H1735.2V1017H1739.9V1020.1H1744.5V1023.3H1749.2V1020H1753.9V1021.1H1758.5V1015.4H1763.2V1023.3H1767.9V1021.4H1772.5V1022.6H1777.2V1023.3H1781.9V1014.7H1786.5V1019.5H1791.2V1023.3H1795.9V1022.1H1800.5V1020.5H1805.2V1023.3H1809.9V1022.6H1814.5V1021.9H1819.2V1023.3H1823.9V1019.8H1828.5V1023.3H1833.2V1009.2H1837.9V1019.2H1842.5V1022H1847.2V1008.1H1851.9V1022.9H1856.5V1022.2H1861.2V1015.4H1865.9V1020.1H1870.5V1023.3H1875.2V1019.4H1879.9V1023.3H1884.5V1022H1889.2V1007.3H1893.9V1022H1898.5V1021.6H1903.2V1023.3H1907.9V1023.3H1912.5V1019.6H1917.2V1017.8H1921.9V1021.4H1926.5V1016.5H1931.2V1017.9H1935.9V1023.3H1940.5V1019.3H1945.2V1023.3H1949.9V1023.3H1954.5V1007.3H1956.6V1066.4H1954.5V1067.5H1949.9V1067H1945.2V1067.2H1940.5V1071.8H1935.9V1068.7H1931.2V1063.8H1926.5V1074.7H1921.9V1063.8H1917.2V1070.6H1912.5V1067.7H1907.9V1076.4H1903.2V1067.1H1898.5V1063.8H1893.9V1073.2H1889.2V1067.4H1884.5V1064.2H1879.9V1067.1H1875.2V1063.8H1870.5V1068H1865.9V1065.7H1861.2V1075H1856.5V1065.5H1851.9V1065.1H1847.2V1075.9H1842.5V1064.6H1837.9V1063.8H1833.2V1063.8H1828.5V1076.2H1823.9V1071.7H1819.2V1067.2H1814.5V1074.6H1809.9V1064.9H1805.2V1067.7H1800.5V1064.9H1795.9V1064.7H1791.2V1066.1H1786.5V1067.9H1781.9V1068.7H1777.2V1067.7H1772.5V1070.8H1767.9V1074H1763.2V1063.8H1758.5V1073.5H1753.9V1063.8H1749.2V1067.1H1744.5V1064.6H1739.9V1064H1735.2V1063.8H1730.5V1076.6H1725.9V1075.3H1721.2V1066.8H1716.5V1064.4H1711.9V1075.5H1707.2V1069.4H1702.5V1071.1H1697.9V1063.8H1693.2V1063.8H1688.5V1070.8H1683.9V1063.8H1679.2V1067.7H1674.5V1063.8H1669.9V1067.9H1665.2V1071.3H1660.5V1066.2H1655.9V1066.5H1651.2V1066.7H1646.5V1063.8H1641.9V1067.6H1637.2V1067.7H1632.5V1063.8H1627.9V1064.6H1623.2V1063.8H1618.5V1064.6H1613.9V1063.8H1609.2V1063.8H1604.5V1065.4H1599.9V1065.3H1595.2V1063.9H1590.5V1069.9H1585.9V1064.3H1581.2V1063.8H1576.5V1064H1571.9V1063.9H1567.2V1063.8H1562.5V1064.1H1557.9V1068.8H1553.2V1067H1548.5V1070H1543.9V1079.8H1539.2V1064.8H1534.5V1064.7H1529.9V1064.3H1525.2V1066.1H1520.5V1069H1515.9V1068H1511.2V1064.3H1506.5V1075.4H1501.9V1065.4H1497.2V1063.9H1492.5V1068.8H1487.9V1069.3H1483.2V1063.8H1478.5V1072.3H1473.9V1068.6H1469.2V1071.1H1464.5V1064.8H1459.9V1064.7H1455.2V1071.9H1450.5V1079.8H1445.9V1063.9H1441.2V1065.6H1436.5V1063.8H1431.9V1065.4H1427.2V1064.1H1422.5V1063.8H1417.9V1064.4H1413.2V1065.1H1408.5V1063.8H1403.9V1063.8H1399.2V1063.8H1394.5V1064.3H1389.9V1065.3H1385.2V1063.8H1380.5V1063.8H1375.9V1074.1H1371.2V1064H1366.5V1064.8H1361.9V1063.8H1357.2V1067.8H1352.5V1066.5H1347.9V1068.3H1343.2V1063.8H1338.5V1063.8H1333.9V1074.4H1329.2V1067.9H1324.5V1064.5H1319.9V1067.2H1315.2V1071.5H1310.5V1067.6H1305.9V1063.8H1301.2V1064H1296.5V1063.8H1291.9V1063.8H1287.2V1063.8H1282.5V1063.8H1277.9V1070.6H1273.2V1069.2H1268.5V1063.8H1263.9V1070.1H1259.2V1079.8H1254.5V1065.4H1249.9V1064.3H1245.2V1063.9H1240.5V1064.1H1235.9V1066.1H1231.2V1065.7H1226.5V1068.2H1221.9V1063.8H1217.2V1067.1H1212.5V1063.8H1207.9V1063.8H1203.2V1063.8H1198.5V1063.9H1193.9V1075.9H1189.2V1068.6H1184.5V1063.8H1179.9V1065.9H1175.2V1065.7H1170.5V1064.3H1165.9V1078.2H1161.2V1063.8H1156.5V1063.8H1151.9V1068.6H1147.2V1064.3H1142.5V1065.3H1137.9V1064.1H1133.2V1068.4H1128.5V1067.3H1123.9V1063.8H1119.2V1074.6H1114.5V1079.8H1109.9V1064.9H1105.2V1065H1100.5V1063.8H1095.9V1068.3H1091.2V1068.4H1086.5V1063.8H1081.9V1063.8H1077.2V1064.9H1072.5V1063.8H1067.9V1066.2H1063.2V1065.7H1058.5V1066.3H1053.9V1071.5H1049.2V1063.8H1044.5V1064.5H1039.9V1063.8H1035.2V1070.2H1030.5V1064.3H1025.9V1066.8H1021.2V1064.8H1016.5V1065.1H1011.9V1064.7H1007.2V1064H1002.5V1066.5H997.9V1063.8H993.2V1063.8H988.5V1070.9H983.9V1069.7H979.2V1063.8H974.5V1065.3H969.9V1063.8H965.2V1070.6H960.5V1064.7H955.9V1075.6H951.2V1063.8H946.5V1067.4H941.9V1067.3H937.2V1070H932.5V1068.1H927.9V1063.9H923.2V1079.8H918.5V1067.4H913.9V1067H909.2V1064.5H904.5V1064.1H899.9V1075.2H895.2V1068.5H890.5V1063.8H885.9V1066.9H881.2V1063.8H876.5V1064.4H871.9V1066.5H867.2V1064H862.5V1065.4H857.9V1063.8H853.2V1066.6H848.5V1063.8H843.9V1068.5H839.2V1063.8H834.5V1063.8H829.9V1066.8H825.2V1064.6H820.5V1063.8H815.9V1065.1H811.2V1072.1H806.5V1074.4H801.9V1065H797.2V1063.8H792.5V1064.8H787.9V1066.4H783.2V1065.9H778.5V1066H773.9V1068.1H769.2V1064H764.5V1064H759.9V1064.9H755.2V1065.7H750.5V1066.4H745.9V1063.8H741.2V1064H736.5V1079.8H731.9V1063.8H727.2V1067.9H722.5V1067.7H717.9V1065.3H713.2V1072.2H708.5V1064.4H703.9V1070.1H699.2V1066.9H694.5V1063.8H689.9V1074.5H685.2V1067.9H680.5V1064H675.9V1063.8H671.2V1068H666.5V1066.2H661.9V1071.4H657.2V1063.9H652.5V1064.4H647.9V1063.8H643.2V1066H638.5V1063.8H633.9V1067.1H629.2V1063.8H624.5V1064.1H619.9V1070.7H615.2V1064.7H610.5V1071.8H605.9V1065.7H601.2V1063.8H596.5V1068.8H591.9V1067.2H587.2V1064.1H582.5V1066H577.9V1063.8H573.2V1063.8H568.5V1064H563.9V1063.8H559.2V1070.6H554.5V1064.7H549.9V1063.8H545.2V1063.8H540.5V1063.8H535.9V1070.5H531.2V1066.2H526.5V1063.8H521.9V1063.8H517.2V1063.8H512.5V1063.8H507.9V1067.5H503.2V1065.4H498.5V1070.9H493.9V1068.5H489.2V1063.8H484.5V1072.2H479.9V1063.8H475.2V1063.8H470.5V1065.4H465.9V1066.5H461.2V1072.5H456.5V1064.4H451.9V1063.8H447.2V1072.2H442.5V1065.6H437.9V1079.8H433.2V1073H428.5V1067.7H423.9V1064.7H419.2V1074.9H414.5V1067.6H409.9V1079.7H405.2V1067.1H400.5V1063.8H395.9V1065.7H391.2V1063.8H386.5V1076.9H381.9V1068.1H377.2V1066.5H372.5V1065.4H367.9V1065.4H363.2V1073.1H358.5V1063.8H353.9V1064.5H349.2V1068.1H344.5V1076.6H339.9V1063.8H335.2V1069.3H330.5V1068.2H325.9V1066.4H321.2V1063.8H316.5V1063.8H311.9V1069.8H307.2V1066.3H302.5V1078.9H297.9V1065.7H293.2V1063.8H288.5V1066.7H283.9V1069.9H279.2V1063.8H274.5V1066H269.9V1063.8H265.2V1063.8H260.5V1063.8H255.9V1064H249.2Z"/>
</g></g>
<text class="tick" transform="translate(235.6 82.3) scale(0.98 1.02)" text-anchor="end">0.08</text><text class="tick" transform="translate(235.6 327.2) scale(0.98 1.02)" text-anchor="end">0.06</text><text class="tick" transform="translate(235.6 572.9) scale(0.98 1.02)" text-anchor="end">0.04</text><text class="tick" transform="translate(235.6 818.9) scale(0.98 1.02)" text-anchor="end">0.02</text><text class="tick" transform="translate(235.6 1065.8) scale(0.98 1.02)" text-anchor="end">0</text><text class="tick" transform="translate(235.6 1310.4) scale(0.98 1.02)" text-anchor="end"><tspan x="-93.9" y="14.84" style="font-weight:normal;font-size:86.74px;fill:#000;stroke-width:1.66px">−</tspan><tspan x="0" y="0">0.02</tspan></text><text class="tick" transform="translate(235.6 1557.5) scale(0.98 1.02)" text-anchor="end"><tspan x="-91.37" y="12.92" style="font-weight:normal;font-size:87.72px;fill:#000;stroke-width:1.73px">−</tspan><tspan x="0" y="0">0.04</tspan></text><text class="tick" transform="translate(235.6 1802.3) scale(0.98 1.02)" text-anchor="end"><tspan x="-91.78" y="11.17" style="font-weight:normal;font-size:82.8px;fill:#000;stroke-width:1.38px">−</tspan><tspan x="0" y="0">0.06</tspan></text>
<text class="tick" transform="translate(252.5 1847.8) scale(0.98 1.02)" text-anchor="middle">0</text><text class="tick" transform="translate(593.38 1847.8) scale(0.98 1.02)" text-anchor="middle">0.5</text><text class="tick" transform="translate(934.26 1847.8) scale(0.98 1.02)" text-anchor="middle">1</text><rect x="922.83" y="1842.4" width="9.56" height="6.2" fill="#fff"/><rect x="938.49" y="1842.4" width="9.12" height="6.2" fill="#fff"/><text class="tick" transform="translate(1275.14 1847.8) scale(0.98 1.02)" text-anchor="middle">1.5</text><rect x="1243.69" y="1842.4" width="9.56" height="6.2" fill="#fff"/><rect x="1259.34" y="1842.4" width="9.12" height="6.2" fill="#fff"/><text class="tick" transform="translate(1616.02 1847.8) scale(0.98 1.02)" text-anchor="middle">2</text><text class="tick" transform="translate(1956.9 1847.8) scale(0.98 1.02)" text-anchor="middle">2.5</text>
<text class="lab" transform="translate(1103.4 1917.3) scale(0.977 1.005)" text-anchor="middle">Samples</text><text class="lab" transform="translate(102.6 919.6) rotate(-90) scale(0.998 1.0)" text-anchor="middle">Residual Signals</text>
<text class="tick" transform="translate(1837.1 1933.6) scale(1 1)" style="font-weight:normal;font-size:68px;stroke-width:3px">×</text><text class="tick" transform="translate(1879.4 1924.6) scale(0.98 1.02)">10</text><text class="tick" transform="translate(1933.8 1901.5) scale(0.98 1.02)" style="font-size:38.3px">5</text><rect x="1881.32" y="1919.2" width="9.56" height="6.2" fill="#fff"/><rect x="1896.98" y="1919.2" width="9.12" height="6.2" fill="#fff"/>
<rect x="1589.2" y="59.8" width="366.4" height="248.7" fill="#fff" stroke="#262626" stroke-width="2.33"/><g shape-rendering="crispEdges" fill="none" stroke-width="7"><path d="M1604.4 95.8H1702.2" stroke="#f00" stroke-dasharray="21 4.7 9.3 4.7"/><path d="M1604.4 154.6H1704.2" stroke="#000" stroke-dasharray="4.9 4.6"/><path d="M1604.4 214.5H1702.2" stroke="#00f" stroke-dasharray="21 18"/><path d="M1604.4 273H1704.2" stroke="#0f0"/></g><text class="leg" transform="translate(1709 113.6) scale(1.01 1.0)">Outer Fault</text><text class="leg" transform="translate(1709 173) scale(1.01 1.0)">Inner Fault</text><text class="leg" transform="translate(1709 231.2) scale(1.01 1.0)">Ball fault</text><text class="leg" transform="translate(1709 291.6) scale(1.01 1.0)">Normal</text>
</svg>
</body>
</html>
